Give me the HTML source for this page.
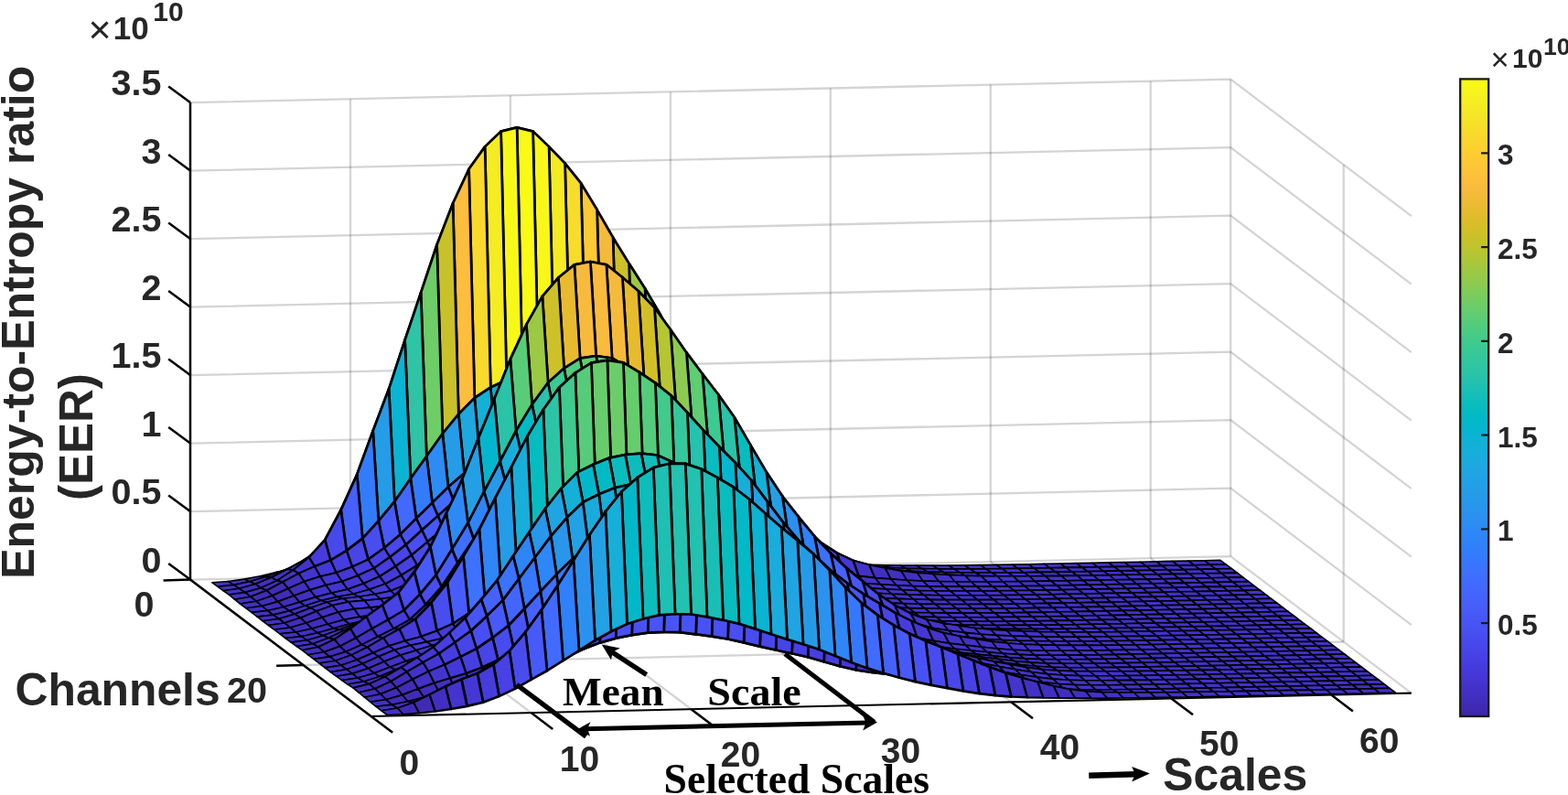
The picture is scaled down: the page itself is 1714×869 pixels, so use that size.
<!DOCTYPE html>
<html lang="en"><head><meta charset="utf-8"><title>Energy-to-Entropy ratio surface</title>
<style>html,body{margin:0;padding:0;background:#fff}body{width:1714px;height:869px;overflow:hidden}</style></head>
<body>
<svg width="1714" height="869" viewBox="0 0 1714 869" style="display:block">
<rect width="1714" height="869" fill="#fff"/>
<g stroke="#262626" stroke-opacity="0.2" stroke-width="2.3" fill="none">
<path d="M383.0,629.7 L383.0,108.2"/>
<path d="M383.0,629.7 L580.6,779.1"/>
<path d="M557.9,625.8 L557.9,104.3"/>
<path d="M557.9,625.8 L755.5,775.2"/>
<path d="M732.9,621.9 L732.9,100.4"/>
<path d="M732.9,621.9 L930.5,771.3"/>
<path d="M907.8,618.0 L907.8,96.5"/>
<path d="M907.8,618.0 L1105.4,767.4"/>
<path d="M1082.8,614.1 L1082.8,92.6"/>
<path d="M1082.8,614.1 L1280.4,763.5"/>
<path d="M1257.7,610.2 L1257.7,88.7"/>
<path d="M1257.7,610.2 L1455.3,759.6"/>
<path d="M208.0,633.6 L1345.2,608.2 L1542.8,757.6"/>
<path d="M208.0,559.1 L1345.2,533.7 L1542.8,683.1"/>
<path d="M208.0,484.6 L1345.2,459.2 L1542.8,608.6"/>
<path d="M208.0,410.1 L1345.2,384.7 L1542.8,534.1"/>
<path d="M208.0,335.6 L1345.2,310.2 L1542.8,459.6"/>
<path d="M208.0,261.1 L1345.2,235.7 L1542.8,385.1"/>
<path d="M208.0,186.6 L1345.2,161.2 L1542.8,310.6"/>
<path d="M208.0,112.1 L1345.2,86.7 L1542.8,236.1"/>
<path d="M1345.2,608.2 L1345.2,86.7"/>
<path d="M1468.7,701.6 L1468.7,180.1"/>
<path d="M331.5,727.0 L1468.7,701.6"/>
</g>
<g stroke="#000" stroke-width="1.8" stroke-linejoin="round">
<path fill="#4332c9" stroke-width="1.6" d="M1316.4,612.7 L1333.9,612.3 L1340.1,616.9 L1322.6,617.3z"/>
<path fill="#4332c9" stroke-width="1.6" d="M1298.9,613.0 L1316.4,612.7 L1322.6,617.3 L1305.1,617.7z"/>
<path fill="#4332c9" stroke-width="1.6" d="M1281.4,613.4 L1298.9,613.0 L1305.1,617.7 L1287.6,618.0z"/>
<path fill="#4332c9" stroke-width="1.6" d="M1263.9,613.8 L1281.4,613.4 L1287.6,618.0 L1270.1,618.4z"/>
<path fill="#4332c9" stroke-width="1.6" d="M1246.4,614.2 L1263.9,613.8 L1270.1,618.4 L1252.6,618.7z"/>
<path fill="#4332c9" stroke-width="1.6" d="M1228.9,614.5 L1246.4,614.2 L1252.6,618.7 L1235.1,619.1z"/>
<path fill="#4332c9" stroke-width="1.6" d="M1211.4,614.9 L1228.9,614.5 L1235.1,619.1 L1217.6,619.4z"/>
<path fill="#4332c9" stroke-width="1.6" d="M1193.9,615.3 L1211.4,614.9 L1217.6,619.4 L1200.1,619.8z"/>
<path fill="#4332c9" stroke-width="1.6" d="M1176.4,615.6 L1193.9,615.3 L1200.1,619.8 L1182.6,620.1z"/>
<path fill="#4332c9" stroke-width="1.6" d="M1158.9,616.0 L1176.4,615.6 L1182.6,620.1 L1165.1,620.4z"/>
<path fill="#4332c9" stroke-width="1.6" d="M1141.4,616.3 L1158.9,616.0 L1165.1,620.4 L1147.6,620.8z"/>
<path fill="#4332ca" stroke-width="1.6" d="M1123.9,616.7 L1141.4,616.3 L1147.6,620.8 L1130.1,621.1z"/>
<path fill="#4332ca" stroke-width="1.6" d="M1106.4,617.0 L1123.9,616.7 L1130.1,621.1 L1112.6,621.3z"/>
<path fill="#4332ca" stroke-width="1.6" d="M1088.9,617.3 L1106.4,617.0 L1112.6,621.3 L1095.1,621.6z"/>
<path fill="#4332ca" stroke-width="1.6" d="M1071.4,617.6 L1088.9,617.3 L1095.1,621.6 L1077.6,621.8z"/>
<path fill="#4332ca" stroke-width="1.6" d="M1054.0,617.8 L1071.4,617.6 L1077.6,621.8 L1060.1,621.9z"/>
<path fill="#4332ca" stroke-width="1.6" d="M1036.5,618.0 L1054.0,617.8 L1060.1,621.9 L1042.6,621.9z"/>
<path fill="#4332ca" stroke-width="1.6" d="M1019.0,618.1 L1036.5,618.0 L1042.6,621.9 L1025.1,621.8z"/>
<path fill="#4332cb" stroke-width="1.6" d="M1001.5,618.1 L1019.0,618.1 L1025.1,621.8 L1007.6,621.6z"/>
<path fill="#4433cb" stroke-width="1.6" d="M984.0,618.0 L1001.5,618.1 L1007.6,621.6 L990.1,621.3z"/>
<path fill="#4433cc" stroke-width="1.6" d="M966.5,617.8 L984.0,618.0 L990.1,621.3 L972.7,620.5z"/>
<path fill="#4433cc" stroke-width="1.6" d="M949.0,617.2 L966.5,617.8 L972.7,620.5 L955.2,619.4z"/>
<path fill="#4433cd" stroke-width="1.6" d="M931.5,616.5 L949.0,617.2 L955.2,619.4 L937.7,618.0z"/>
<path fill="#4434ce" stroke-width="1.6" d="M914.0,615.6 L931.5,616.5 L937.7,618.0 L920.2,616.1z"/>
<path fill="#4435d0" stroke-width="1.6" d="M896.5,613.7 L914.0,615.6 L920.2,616.1 L902.7,612.7z"/>
<path fill="#4536d3" stroke-width="1.6" d="M879.0,611.0 L896.5,613.7 L902.7,612.7 L885.2,608.0z"/>
<path fill="#4434cf" stroke-width="1.6" d="M861.5,607.5 L879.0,611.0 L885.2,608.0 L867.7,601.9z"/>
<path fill="#4433cc" stroke-width="1.8" d="M844.0,603.2 L861.5,607.5 L867.7,601.9 L850.2,594.5z"/>
<path fill="#4433cc" stroke-width="2.0" d="M826.5,598.9 L844.0,603.2 L850.2,594.5 L832.7,587.0z"/>
<path fill="#4536d3" stroke-width="2.1" d="M809.0,593.9 L826.5,598.9 L832.7,587.0 L815.2,578.5z"/>
<path fill="#4639da" stroke-width="2.3" d="M791.5,588.3 L809.0,593.9 L815.2,578.5 L797.7,568.8z"/>
<path fill="#463ee1" stroke-width="2.6" d="M774.0,581.7 L791.5,588.3 L797.7,568.8 L780.2,557.6z"/>
<path fill="#4743e7" stroke-width="2.7" d="M756.5,574.8 L774.0,581.7 L780.2,557.6 L762.7,545.9z"/>
<path fill="#4849ed" stroke-width="2.7" d="M739.0,566.6 L756.5,574.8 L762.7,545.9 L745.2,532.0z"/>
<path fill="#4850f3" stroke-width="2.7" d="M721.5,557.4 L739.0,566.6 L745.2,532.0 L727.7,516.3z"/>
<path fill="#4757f7" stroke-width="2.7" d="M704.0,548.0 L721.5,557.4 L727.7,516.3 L710.2,500.4z"/>
<path fill="#475dfa" stroke-width="2.7" d="M686.6,540.3 L704.0,548.0 L710.2,500.4 L692.7,487.3z"/>
<path fill="#4562fc" stroke-width="2.7" d="M669.1,533.3 L686.6,540.3 L692.7,487.3 L675.2,475.4z"/>
<path fill="#4367fd" stroke-width="2.7" d="M651.6,526.1 L669.1,533.3 L675.2,475.4 L657.7,463.1z"/>
<path fill="#3f6dfe" stroke-width="2.7" d="M634.1,518.3 L651.6,526.1 L657.7,463.1 L640.2,449.8z"/>
<path fill="#3a73fe" stroke-width="2.7" d="M616.6,510.9 L634.1,518.3 L640.2,449.8 L622.7,437.3z"/>
<path fill="#3678fd" stroke-width="2.7" d="M599.1,505.4 L616.6,510.9 L622.7,437.3 L605.2,427.8z"/>
<path fill="#327cfc" stroke-width="2.7" d="M581.6,500.8 L599.1,505.4 L605.2,427.8 L587.8,419.9z"/>
<path fill="#307ffb" stroke-width="2.7" d="M564.1,496.7 L581.6,500.8 L587.8,419.9 L570.3,412.7z"/>
<path fill="#3080fa" stroke-width="2.7" d="M546.6,495.9 L564.1,496.7 L570.3,412.7 L552.8,411.1z"/>
<path fill="#307ffb" stroke-width="2.7" d="M529.1,497.2 L546.6,495.9 L552.8,411.1 L535.3,413.2z"/>
<path fill="#327cfc" stroke-width="2.7" d="M511.6,502.0 L529.1,497.2 L535.3,413.2 L517.8,420.8z"/>
<path fill="#3677fe" stroke-width="2.7" d="M494.1,508.8 L511.6,502.0 L517.8,420.8 L500.3,431.8z"/>
<path fill="#3e70ff" stroke-width="2.7" d="M476.6,519.0 L494.1,508.8 L500.3,431.8 L482.8,448.7z"/>
<path fill="#4367fd" stroke-width="2.7" d="M459.1,531.3 L476.6,519.0 L482.8,448.7 L465.3,468.9z"/>
<path fill="#475dfa" stroke-width="2.7" d="M441.6,545.5 L459.1,531.3 L465.3,468.9 L447.8,492.4z"/>
<path fill="#4853f5" stroke-width="2.7" d="M424.1,559.6 L441.6,545.5 L447.8,492.4 L430.3,515.5z"/>
<path fill="#4849ed" stroke-width="2.7" d="M406.6,574.1 L424.1,559.6 L430.3,515.5 L412.8,539.4z"/>
<path fill="#4741e5" stroke-width="2.7" d="M389.1,586.5 L406.6,574.1 L412.8,539.4 L395.3,559.8z"/>
<path fill="#4539d9" stroke-width="2.7" d="M371.6,598.9 L389.1,586.5 L395.3,559.8 L377.8,580.3z"/>
<path fill="#4434cd" stroke-width="2.5" d="M354.1,608.5 L371.6,598.9 L377.8,580.3 L360.3,596.3z"/>
<path fill="#4230c3" stroke-width="2.1" d="M336.6,616.6 L354.1,608.5 L360.3,596.3 L342.8,609.6z"/>
<path fill="#4331c7" stroke-width="1.8" d="M319.1,621.5 L336.6,616.6 L342.8,609.6 L325.3,617.6z"/>
<path fill="#4433cc" stroke-width="1.6" d="M301.7,625.6 L319.1,621.5 L325.3,617.6 L307.8,624.3z"/>
<path fill="#4433cd" stroke-width="1.6" d="M284.2,629.7 L301.7,625.6 L307.8,624.3 L290.3,630.6z"/>
<path fill="#4433cb" stroke-width="1.6" d="M266.7,633.1 L284.2,629.7 L290.3,630.6 L272.8,635.8z"/>
<path fill="#4332c9" stroke-width="1.6" d="M249.2,635.5 L266.7,633.1 L272.8,635.8 L255.3,639.4z"/>
<path fill="#4332c9" stroke-width="1.6" d="M231.7,636.7 L249.2,635.5 L255.3,639.4 L237.8,641.2z"/>
<path fill="#4332c9" stroke-width="1.6" d="M1322.6,617.3 L1340.1,616.9 L1346.2,621.5 L1328.7,621.9z"/>
<path fill="#4332c9" stroke-width="1.6" d="M1305.1,617.7 L1322.6,617.3 L1328.7,621.9 L1311.2,622.2z"/>
<path fill="#4332c9" stroke-width="1.6" d="M1287.6,618.0 L1305.1,617.7 L1311.2,622.2 L1293.7,622.6z"/>
<path fill="#4332c9" stroke-width="1.6" d="M1270.1,618.4 L1287.6,618.0 L1293.7,622.6 L1276.2,622.9z"/>
<path fill="#4332c9" stroke-width="1.6" d="M1252.6,618.7 L1270.1,618.4 L1276.2,622.9 L1258.8,623.3z"/>
<path fill="#4332c9" stroke-width="1.6" d="M1235.1,619.1 L1252.6,618.7 L1258.8,623.3 L1241.3,623.6z"/>
<path fill="#4332c9" stroke-width="1.6" d="M1217.6,619.4 L1235.1,619.1 L1241.3,623.6 L1223.8,623.9z"/>
<path fill="#4332ca" stroke-width="1.6" d="M1200.1,619.8 L1217.6,619.4 L1223.8,623.9 L1206.3,624.3z"/>
<path fill="#4332ca" stroke-width="1.6" d="M1182.6,620.1 L1200.1,619.8 L1206.3,624.3 L1188.8,624.6z"/>
<path fill="#4332ca" stroke-width="1.6" d="M1165.1,620.4 L1182.6,620.1 L1188.8,624.6 L1171.3,624.9z"/>
<path fill="#4332ca" stroke-width="1.6" d="M1147.6,620.8 L1165.1,620.4 L1171.3,624.9 L1153.8,625.1z"/>
<path fill="#4332ca" stroke-width="1.6" d="M1130.1,621.1 L1147.6,620.8 L1153.8,625.1 L1136.3,625.4z"/>
<path fill="#4332ca" stroke-width="1.6" d="M1112.6,621.3 L1130.1,621.1 L1136.3,625.4 L1118.8,625.7z"/>
<path fill="#4332ca" stroke-width="1.6" d="M1095.1,621.6 L1112.6,621.3 L1118.8,625.7 L1101.3,625.9z"/>
<path fill="#4332ca" stroke-width="1.6" d="M1077.6,621.8 L1095.1,621.6 L1101.3,625.9 L1083.8,626.0z"/>
<path fill="#4332ca" stroke-width="1.6" d="M1060.1,621.9 L1077.6,621.8 L1083.8,626.0 L1066.3,626.0z"/>
<path fill="#4332cb" stroke-width="1.6" d="M1042.6,621.9 L1060.1,621.9 L1066.3,626.0 L1048.8,625.8z"/>
<path fill="#4433cb" stroke-width="1.6" d="M1025.1,621.8 L1042.6,621.9 L1048.8,625.8 L1031.3,625.5z"/>
<path fill="#4433cc" stroke-width="1.6" d="M1007.6,621.6 L1025.1,621.8 L1031.3,625.5 L1013.8,625.0z"/>
<path fill="#4433cc" stroke-width="1.6" d="M990.1,621.3 L1007.6,621.6 L1013.8,625.0 L996.3,624.3z"/>
<path fill="#4433cd" stroke-width="1.6" d="M972.7,620.5 L990.1,621.3 L996.3,624.3 L978.8,623.0z"/>
<path fill="#4434ce" stroke-width="1.6" d="M955.2,619.4 L972.7,620.5 L978.8,623.0 L961.3,621.1z"/>
<path fill="#4435d0" stroke-width="1.6" d="M937.7,618.0 L955.2,619.4 L961.3,621.1 L943.8,618.9z"/>
<path fill="#4435d2" stroke-width="1.6" d="M920.2,616.1 L937.7,618.0 L943.8,618.9 L926.3,616.0z"/>
<path fill="#4537d5" stroke-width="1.6" d="M902.7,612.7 L920.2,616.1 L926.3,616.0 L908.8,610.8z"/>
<path fill="#4536d3" stroke-width="1.6" d="M885.2,608.0 L902.7,612.7 L908.8,610.8 L891.3,603.7z"/>
<path fill="#4435d2" stroke-width="1.8" d="M867.7,601.9 L885.2,608.0 L891.3,603.7 L873.9,594.6z"/>
<path fill="#4538d7" stroke-width="2.1" d="M850.2,594.5 L867.7,601.9 L873.9,594.6 L856.4,583.5z"/>
<path fill="#463ddf" stroke-width="2.2" d="M832.7,587.0 L850.2,594.5 L856.4,583.5 L838.9,572.4z"/>
<path fill="#4743e7" stroke-width="2.4" d="M815.2,578.5 L832.7,587.0 L838.9,572.4 L821.4,559.7z"/>
<path fill="#484aee" stroke-width="2.7" d="M797.7,568.8 L815.2,578.5 L821.4,559.7 L803.9,545.3z"/>
<path fill="#4852f4" stroke-width="2.7" d="M780.2,557.6 L797.7,568.8 L803.9,545.3 L786.4,528.7z"/>
<path fill="#475bf9" stroke-width="2.7" d="M762.7,545.9 L780.2,557.6 L786.4,528.7 L768.9,511.3z"/>
<path fill="#4465fd" stroke-width="2.7" d="M745.2,532.0 L762.7,545.9 L768.9,511.3 L751.4,490.8z"/>
<path fill="#3c71ff" stroke-width="2.7" d="M727.7,516.3 L745.2,532.0 L751.4,490.8 L733.9,467.5z"/>
<path fill="#317efb" stroke-width="2.7" d="M710.2,500.4 L727.7,516.3 L733.9,467.5 L716.4,444.0z"/>
<path fill="#2e87f7" stroke-width="2.7" d="M692.7,487.3 L710.2,500.4 L716.4,444.0 L698.9,424.7z"/>
<path fill="#2c8ff1" stroke-width="2.7" d="M675.2,475.4 L692.7,487.3 L698.9,424.7 L681.4,407.1z"/>
<path fill="#2797eb" stroke-width="2.7" d="M657.7,463.1 L675.2,475.4 L681.4,407.1 L663.9,388.8z"/>
<path fill="#249fe5" stroke-width="2.7" d="M640.2,449.8 L657.7,463.1 L663.9,388.8 L646.4,369.2z"/>
<path fill="#1ea7e1" stroke-width="2.7" d="M622.7,437.3 L640.2,449.8 L646.4,369.2 L628.9,350.6z"/>
<path fill="#1aacdd" stroke-width="2.7" d="M605.2,427.8 L622.7,437.3 L628.9,350.6 L611.4,336.5z"/>
<path fill="#13b0d8" stroke-width="2.7" d="M587.8,419.9 L605.2,427.8 L611.4,336.5 L593.9,324.8z"/>
<path fill="#0bb3d2" stroke-width="2.7" d="M570.3,412.7 L587.8,419.9 L593.9,324.8 L576.4,314.0z"/>
<path fill="#08b4d1" stroke-width="2.7" d="M552.8,411.1 L570.3,412.7 L576.4,314.0 L558.9,311.5z"/>
<path fill="#0bb4d2" stroke-width="2.7" d="M535.3,413.2 L552.8,411.1 L558.9,311.5 L541.4,314.3z"/>
<path fill="#13b0d7" stroke-width="2.7" d="M517.8,420.8 L535.3,413.2 L541.4,314.3 L523.9,325.4z"/>
<path fill="#1aabdd" stroke-width="2.7" d="M500.3,431.8 L517.8,420.8 L523.9,325.4 L506.5,341.3z"/>
<path fill="#22a2e4" stroke-width="2.7" d="M482.8,448.7 L500.3,431.8 L506.5,341.3 L489.0,365.8z"/>
<path fill="#2796eb" stroke-width="2.7" d="M465.3,468.9 L482.8,448.7 L489.0,365.8 L471.5,395.4z"/>
<path fill="#2e87f7" stroke-width="2.7" d="M447.8,492.4 L465.3,468.9 L471.5,395.4 L454.0,429.5z"/>
<path fill="#3777fe" stroke-width="2.7" d="M430.3,515.5 L447.8,492.4 L454.0,429.5 L436.5,463.4z"/>
<path fill="#4465fd" stroke-width="2.7" d="M412.8,539.4 L430.3,515.5 L436.5,463.4 L419.0,498.2z"/>
<path fill="#4757f7" stroke-width="2.7" d="M395.3,559.8 L412.8,539.4 L419.0,498.2 L401.5,527.9z"/>
<path fill="#4849ed" stroke-width="2.7" d="M377.8,580.3 L395.3,559.8 L401.5,527.9 L384.0,557.9z"/>
<path fill="#463ee1" stroke-width="2.7" d="M360.3,596.3 L377.8,580.3 L384.0,557.9 L366.5,581.4z"/>
<path fill="#4536d3" stroke-width="2.5" d="M342.8,609.6 L360.3,596.3 L366.5,581.4 L349.0,601.0z"/>
<path fill="#4332c8" stroke-width="2.0" d="M325.3,617.6 L342.8,609.6 L349.0,601.0 L331.5,612.6z"/>
<path fill="#4332ca" stroke-width="1.8" d="M307.8,624.3 L325.3,617.6 L331.5,612.6 L314.0,622.1z"/>
<path fill="#4332ca" stroke-width="1.6" d="M290.3,630.6 L307.8,624.3 L314.0,622.1 L296.5,631.1z"/>
<path fill="#4332c9" stroke-width="1.6" d="M272.8,635.8 L290.3,630.6 L296.5,631.1 L279.0,638.4z"/>
<path fill="#4331c6" stroke-width="1.6" d="M255.3,639.4 L272.8,635.8 L279.0,638.4 L261.5,643.3z"/>
<path fill="#4332c9" stroke-width="1.6" d="M237.8,641.2 L255.3,639.4 L261.5,643.3 L244.0,645.7z"/>
<path fill="#4332c9" stroke-width="1.6" d="M1328.7,621.9 L1346.2,621.5 L1352.4,626.1 L1334.9,626.5z"/>
<path fill="#4332c9" stroke-width="1.6" d="M1311.2,622.2 L1328.7,621.9 L1334.9,626.5 L1317.4,626.8z"/>
<path fill="#4332c9" stroke-width="1.6" d="M1293.7,622.6 L1311.2,622.2 L1317.4,626.8 L1299.9,627.1z"/>
<path fill="#4332c9" stroke-width="1.6" d="M1276.2,622.9 L1293.7,622.6 L1299.9,627.1 L1282.4,627.4z"/>
<path fill="#4332ca" stroke-width="1.6" d="M1258.8,623.3 L1276.2,622.9 L1282.4,627.4 L1264.9,627.7z"/>
<path fill="#4332ca" stroke-width="1.6" d="M1241.3,623.6 L1258.8,623.3 L1264.9,627.7 L1247.4,628.0z"/>
<path fill="#4332ca" stroke-width="1.6" d="M1223.8,623.9 L1241.3,623.6 L1247.4,628.0 L1229.9,628.3z"/>
<path fill="#4332ca" stroke-width="1.6" d="M1206.3,624.3 L1223.8,623.9 L1229.9,628.3 L1212.4,628.6z"/>
<path fill="#4332ca" stroke-width="1.6" d="M1188.8,624.6 L1206.3,624.3 L1212.4,628.6 L1194.9,628.9z"/>
<path fill="#4332ca" stroke-width="1.6" d="M1171.3,624.9 L1188.8,624.6 L1194.9,628.9 L1177.5,629.1z"/>
<path fill="#4332ca" stroke-width="1.6" d="M1153.8,625.1 L1171.3,624.9 L1177.5,629.1 L1160.0,629.4z"/>
<path fill="#4332ca" stroke-width="1.6" d="M1136.3,625.4 L1153.8,625.1 L1160.0,629.4 L1142.5,629.6z"/>
<path fill="#4332ca" stroke-width="1.6" d="M1118.8,625.7 L1136.3,625.4 L1142.5,629.6 L1125.0,629.7z"/>
<path fill="#4332ca" stroke-width="1.6" d="M1101.3,625.9 L1118.8,625.7 L1125.0,629.7 L1107.5,629.8z"/>
<path fill="#4332cb" stroke-width="1.6" d="M1083.8,626.0 L1101.3,625.9 L1107.5,629.8 L1090.0,629.8z"/>
<path fill="#4432cb" stroke-width="1.6" d="M1066.3,626.0 L1083.8,626.0 L1090.0,629.8 L1072.5,629.6z"/>
<path fill="#4433cb" stroke-width="1.6" d="M1048.8,625.8 L1066.3,626.0 L1072.5,629.6 L1055.0,629.1z"/>
<path fill="#4433cc" stroke-width="1.6" d="M1031.3,625.5 L1048.8,625.8 L1055.0,629.1 L1037.5,628.4z"/>
<path fill="#4433cd" stroke-width="1.6" d="M1013.8,625.0 L1031.3,625.5 L1037.5,628.4 L1020.0,627.4z"/>
<path fill="#4434ce" stroke-width="1.6" d="M996.3,624.3 L1013.8,625.0 L1020.0,627.4 L1002.5,626.1z"/>
<path fill="#4434cf" stroke-width="1.6" d="M978.8,623.0 L996.3,624.3 L1002.5,626.1 L985.0,624.0z"/>
<path fill="#4435d1" stroke-width="1.6" d="M961.3,621.1 L978.8,623.0 L985.0,624.0 L967.5,620.8z"/>
<path fill="#4536d3" stroke-width="1.6" d="M943.8,618.9 L961.3,621.1 L967.5,620.8 L950.0,617.2z"/>
<path fill="#4537d5" stroke-width="1.6" d="M926.3,616.0 L943.8,618.9 L950.0,617.2 L932.5,612.5z"/>
<path fill="#4434cf" stroke-width="1.8" d="M908.8,610.8 L926.3,616.0 L932.5,612.5 L915.0,604.4z"/>
<path fill="#4435d1" stroke-width="2.0" d="M891.3,603.7 L908.8,610.8 L915.0,604.4 L897.5,593.1z"/>
<path fill="#463adc" stroke-width="2.3" d="M873.9,594.6 L891.3,603.7 L897.5,593.1 L880.0,578.9z"/>
<path fill="#4742e6" stroke-width="2.7" d="M856.4,583.5 L873.9,594.6 L880.0,578.9 L862.5,561.6z"/>
<path fill="#484aee" stroke-width="2.7" d="M838.9,572.4 L856.4,583.5 L862.5,561.6 L845.0,544.4z"/>
<path fill="#4854f5" stroke-width="2.7" d="M821.4,559.7 L838.9,572.4 L845.0,544.4 L827.5,524.6z"/>
<path fill="#465efb" stroke-width="2.7" d="M803.9,545.3 L821.4,559.7 L827.5,524.6 L810.0,502.3z"/>
<path fill="#426afe" stroke-width="2.7" d="M786.4,528.7 L803.9,545.3 L810.0,502.3 L792.6,476.4z"/>
<path fill="#3678fd" stroke-width="2.7" d="M768.9,511.3 L786.4,528.7 L792.6,476.4 L775.1,449.6z"/>
<path fill="#2e87f7" stroke-width="2.7" d="M751.4,490.8 L768.9,511.3 L775.1,449.6 L757.6,417.7z"/>
<path fill="#2796eb" stroke-width="2.7" d="M733.9,467.5 L751.4,490.8 L757.6,417.7 L740.1,381.7z"/>
<path fill="#20a4e3" stroke-width="2.7" d="M716.4,444.0 L733.9,467.5 L740.1,381.7 L722.6,345.3z"/>
<path fill="#16afd9" stroke-width="2.7" d="M698.9,424.7 L716.4,444.0 L722.6,345.3 L705.1,315.4z"/>
<path fill="#03b7cc" stroke-width="2.7" d="M681.4,407.1 L698.9,424.7 L705.1,315.4 L687.6,288.1z"/>
<path fill="#0bbdbd" stroke-width="2.7" d="M663.9,388.8 L681.4,407.1 L687.6,288.1 L670.1,259.7z"/>
<path fill="#28c2ab" stroke-width="2.7" d="M646.4,369.2 L663.9,388.8 L670.1,259.7 L652.6,229.3z"/>
<path fill="#36c898" stroke-width="2.7" d="M628.9,350.6 L646.4,369.2 L652.6,229.3 L635.1,200.4z"/>
<path fill="#46cb88" stroke-width="2.7" d="M611.4,336.5 L628.9,350.6 L635.1,200.4 L617.6,178.6z"/>
<path fill="#59cc78" stroke-width="2.7" d="M593.9,324.8 L611.4,336.5 L617.6,178.6 L600.1,160.4z"/>
<path fill="#6bcd69" stroke-width="2.7" d="M576.4,314.0 L593.9,324.8 L600.1,160.4 L582.6,143.6z"/>
<path fill="#71cd65" stroke-width="2.7" d="M558.9,311.5 L576.4,314.0 L582.6,143.6 L565.1,139.4z"/>
<path fill="#6ccd68" stroke-width="2.7" d="M541.4,314.3 L558.9,311.5 L565.1,139.4 L547.6,143.6z"/>
<path fill="#5bcc77" stroke-width="2.7" d="M523.9,325.4 L541.4,314.3 L547.6,143.6 L530.1,160.4z"/>
<path fill="#43ca8b" stroke-width="2.7" d="M506.5,341.3 L523.9,325.4 L530.1,160.4 L512.6,184.8z"/>
<path fill="#2ec4a5" stroke-width="2.7" d="M489.0,365.8 L506.5,341.3 L512.6,184.8 L495.1,222.2z"/>
<path fill="#08bcbf" stroke-width="2.7" d="M471.5,395.4 L489.0,365.8 L495.1,222.2 L477.6,267.5z"/>
<path fill="#15afd9" stroke-width="2.7" d="M454.0,429.5 L471.5,395.4 L477.6,267.5 L460.1,319.9z"/>
<path fill="#259de7" stroke-width="2.7" d="M436.5,463.4 L454.0,429.5 L460.1,319.9 L442.6,371.7z"/>
<path fill="#2e87f7" stroke-width="2.7" d="M419.0,498.2 L436.5,463.4 L442.6,371.7 L425.1,425.1z"/>
<path fill="#3c71ff" stroke-width="2.7" d="M401.5,527.9 L419.0,498.2 L425.1,425.1 L407.7,470.9z"/>
<path fill="#475cfa" stroke-width="2.7" d="M384.0,557.9 L401.5,527.9 L407.7,470.9 L390.2,518.7z"/>
<path fill="#484cef" stroke-width="2.7" d="M366.5,581.4 L384.0,557.9 L390.2,518.7 L372.7,557.4z"/>
<path fill="#463ee1" stroke-width="2.7" d="M349.0,601.0 L366.5,581.4 L372.7,557.4 L355.2,590.1z"/>
<path fill="#4537d5" stroke-width="2.2" d="M331.5,612.6 L349.0,601.0 L355.2,590.1 L337.7,609.2z"/>
<path fill="#4433cd" stroke-width="1.9" d="M314.0,622.1 L331.5,612.6 L337.7,609.2 L320.2,623.2z"/>
<path fill="#4331c5" stroke-width="1.8" d="M296.5,631.1 L314.0,622.1 L320.2,623.2 L302.7,634.7z"/>
<path fill="#422fc0" stroke-width="1.7" d="M279.0,638.4 L296.5,631.1 L302.7,634.7 L285.2,642.6z"/>
<path fill="#422fc2" stroke-width="1.6" d="M261.5,643.3 L279.0,638.4 L285.2,642.6 L267.7,647.6z"/>
<path fill="#4331c8" stroke-width="1.6" d="M244.0,645.7 L261.5,643.3 L267.7,647.6 L250.2,650.0z"/>
<path fill="#4332c9" stroke-width="1.6" d="M1334.9,626.5 L1352.4,626.1 L1358.6,630.9 L1341.1,631.3z"/>
<path fill="#4332ca" stroke-width="1.6" d="M1317.4,626.8 L1334.9,626.5 L1341.1,631.3 L1323.6,631.7z"/>
<path fill="#4332ca" stroke-width="1.6" d="M1299.9,627.1 L1317.4,626.8 L1323.6,631.7 L1306.1,632.0z"/>
<path fill="#4332ca" stroke-width="1.6" d="M1282.4,627.4 L1299.9,627.1 L1306.1,632.0 L1288.6,632.4z"/>
<path fill="#4332ca" stroke-width="1.6" d="M1264.9,627.7 L1282.4,627.4 L1288.6,632.4 L1271.1,632.7z"/>
<path fill="#4332ca" stroke-width="1.6" d="M1247.4,628.0 L1264.9,627.7 L1271.1,632.7 L1253.6,633.1z"/>
<path fill="#4332ca" stroke-width="1.6" d="M1229.9,628.3 L1247.4,628.0 L1253.6,633.1 L1236.1,633.4z"/>
<path fill="#4332ca" stroke-width="1.6" d="M1212.4,628.6 L1229.9,628.3 L1236.1,633.4 L1218.6,633.8z"/>
<path fill="#4332ca" stroke-width="1.6" d="M1194.9,628.9 L1212.4,628.6 L1218.6,633.8 L1201.1,634.1z"/>
<path fill="#4332ca" stroke-width="1.6" d="M1177.5,629.1 L1194.9,628.9 L1201.1,634.1 L1183.6,634.4z"/>
<path fill="#4332ca" stroke-width="1.6" d="M1160.0,629.4 L1177.5,629.1 L1183.6,634.4 L1166.1,634.7z"/>
<path fill="#4332cb" stroke-width="1.6" d="M1142.5,629.6 L1160.0,629.4 L1166.1,634.7 L1148.6,635.0z"/>
<path fill="#4332cb" stroke-width="1.6" d="M1125.0,629.7 L1142.5,629.6 L1148.6,635.0 L1131.1,635.3z"/>
<path fill="#4433cb" stroke-width="1.6" d="M1107.5,629.8 L1125.0,629.7 L1131.1,635.3 L1113.6,635.6z"/>
<path fill="#4433cb" stroke-width="1.6" d="M1090.0,629.8 L1107.5,629.8 L1113.6,635.6 L1096.1,635.8z"/>
<path fill="#4433cb" stroke-width="1.6" d="M1072.5,629.6 L1090.0,629.8 L1096.1,635.8 L1078.7,635.9z"/>
<path fill="#4332ca" stroke-width="1.6" d="M1055.0,629.1 L1072.5,629.6 L1078.7,635.9 L1061.2,635.9z"/>
<path fill="#4332c9" stroke-width="1.6" d="M1037.5,628.4 L1055.0,629.1 L1061.2,635.9 L1043.7,635.7z"/>
<path fill="#4332c8" stroke-width="1.6" d="M1020.0,627.4 L1037.5,628.4 L1043.7,635.7 L1026.2,635.5z"/>
<path fill="#4331c7" stroke-width="1.7" d="M1002.5,626.1 L1020.0,627.4 L1026.2,635.5 L1008.7,635.1z"/>
<path fill="#4330c5" stroke-width="1.7" d="M985.0,624.0 L1002.5,626.1 L1008.7,635.1 L991.2,634.3z"/>
<path fill="#4230c3" stroke-width="1.8" d="M967.5,620.8 L985.0,624.0 L991.2,634.3 L973.7,633.0z"/>
<path fill="#4230c3" stroke-width="1.9" d="M950.0,617.2 L967.5,620.8 L973.7,633.0 L956.2,631.6z"/>
<path fill="#4332ca" stroke-width="2.1" d="M932.5,612.5 L950.0,617.2 L956.2,631.6 L938.7,629.6z"/>
<path fill="#4537d5" stroke-width="2.4" d="M915.0,604.4 L932.5,612.5 L938.7,629.6 L921.2,626.0z"/>
<path fill="#473ee1" stroke-width="2.7" d="M897.5,593.1 L915.0,604.4 L921.2,626.0 L903.7,621.0z"/>
<path fill="#4849ec" stroke-width="2.7" d="M880.0,578.9 L897.5,593.1 L903.7,621.0 L886.2,614.5z"/>
<path fill="#4755f6" stroke-width="2.7" d="M862.5,561.6 L880.0,578.9 L886.2,614.5 L868.7,606.7z"/>
<path fill="#4561fc" stroke-width="2.7" d="M845.0,544.4 L862.5,561.6 L868.7,606.7 L851.2,598.8z"/>
<path fill="#3d70ff" stroke-width="2.7" d="M827.5,524.6 L845.0,544.4 L851.2,598.8 L833.7,589.8z"/>
<path fill="#2f82fa" stroke-width="2.7" d="M810.0,502.3 L827.5,524.6 L833.7,589.8 L816.2,579.6z"/>
<path fill="#2a93ee" stroke-width="2.7" d="M792.6,476.4 L810.0,502.3 L816.2,579.6 L798.7,567.7z"/>
<path fill="#21a3e3" stroke-width="2.7" d="M775.1,449.6 L792.6,476.4 L798.7,567.7 L781.2,555.4z"/>
<path fill="#0ab4d2" stroke-width="2.7" d="M757.6,417.7 L775.1,449.6 L781.2,555.4 L763.7,540.7z"/>
<path fill="#1bc0b4" stroke-width="2.7" d="M740.1,381.7 L757.6,417.7 L763.7,540.7 L746.2,524.2z"/>
<path fill="#3eca8f" stroke-width="2.7" d="M722.6,345.3 L740.1,381.7 L746.2,524.2 L728.7,507.4z"/>
<path fill="#6ccd68" stroke-width="2.7" d="M705.1,315.4 L722.6,345.3 L728.7,507.4 L711.3,493.7z"/>
<path fill="#9fc942" stroke-width="2.7" d="M687.6,288.1 L705.1,315.4 L711.3,493.7 L693.8,481.1z"/>
<path fill="#cdc028" stroke-width="2.7" d="M670.1,259.7 L687.6,288.1 L693.8,481.1 L676.3,468.1z"/>
<path fill="#f4ba39" stroke-width="2.7" d="M652.6,229.3 L670.1,259.7 L676.3,468.1 L658.8,454.1z"/>
<path fill="#feca33" stroke-width="2.7" d="M635.1,200.4 L652.6,229.3 L658.8,454.1 L641.3,440.8z"/>
<path fill="#f7dc2a" stroke-width="2.7" d="M617.6,178.6 L635.1,200.4 L641.3,440.8 L623.8,430.9z"/>
<path fill="#f5eb23" stroke-width="2.7" d="M600.1,160.4 L617.6,178.6 L623.8,430.9 L606.3,422.5z"/>
<path fill="#f8f719" stroke-width="2.7" d="M582.6,143.6 L600.1,160.4 L606.3,422.5 L588.8,414.9z"/>
<path fill="#f9fb15" stroke-width="2.7" d="M565.1,139.4 L582.6,143.6 L588.8,414.9 L571.3,413.2z"/>
<path fill="#f8f818" stroke-width="2.7" d="M547.6,143.6 L565.1,139.4 L571.3,413.2 L553.8,415.3z"/>
<path fill="#f5ec22" stroke-width="2.7" d="M530.1,160.4 L547.6,143.6 L553.8,415.3 L536.3,423.4z"/>
<path fill="#f8d92c" stroke-width="2.7" d="M512.6,184.8 L530.1,160.4 L536.3,423.4 L518.8,435.0z"/>
<path fill="#fdbd3d" stroke-width="2.7" d="M495.1,222.2 L512.6,184.8 L518.8,435.0 L501.3,452.7z"/>
<path fill="#c8c129" stroke-width="2.7" d="M477.6,267.5 L495.1,222.2 L501.3,452.7 L483.8,474.0z"/>
<path fill="#6ecd67" stroke-width="2.7" d="M460.1,319.9 L477.6,267.5 L483.8,474.0 L466.3,498.7z"/>
<path fill="#2ec4a5" stroke-width="2.7" d="M442.6,371.7 L460.1,319.9 L466.3,498.7 L448.8,523.1z"/>
<path fill="#0ab4d2" stroke-width="2.7" d="M425.1,425.1 L442.6,371.7 L448.8,523.1 L431.3,548.2z"/>
<path fill="#259ce7" stroke-width="2.7" d="M407.7,470.9 L425.1,425.1 L431.3,548.2 L413.8,569.3z"/>
<path fill="#327cfc" stroke-width="2.7" d="M390.2,518.7 L407.7,470.9 L413.8,569.3 L396.3,588.6z"/>
<path fill="#4660fb" stroke-width="2.7" d="M372.7,557.4 L390.2,518.7 L396.3,588.6 L378.8,601.9z"/>
<path fill="#4849ed" stroke-width="2.7" d="M355.2,590.1 L372.7,557.4 L378.8,601.9 L361.3,612.5z"/>
<path fill="#463cde" stroke-width="2.5" d="M337.7,609.2 L355.2,590.1 L361.3,612.5 L343.8,619.2z"/>
<path fill="#4434ce" stroke-width="2.0" d="M320.2,623.2 L337.7,609.2 L343.8,619.2 L326.4,626.8z"/>
<path fill="#4331c6" stroke-width="1.8" d="M302.7,634.7 L320.2,623.2 L326.4,626.8 L308.9,636.2z"/>
<path fill="#4230c3" stroke-width="1.7" d="M285.2,642.6 L302.7,634.7 L308.9,636.2 L291.4,645.3z"/>
<path fill="#422fc1" stroke-width="1.7" d="M267.7,647.6 L285.2,642.6 L291.4,645.3 L273.9,652.2z"/>
<path fill="#4330c5" stroke-width="1.6" d="M250.2,650.0 L267.7,647.6 L273.9,652.2 L256.4,655.2z"/>
<path fill="#4332c9" stroke-width="1.6" d="M1341.1,631.3 L1358.6,630.9 L1364.8,635.6 L1347.3,636.0z"/>
<path fill="#4332c9" stroke-width="1.6" d="M1323.6,631.7 L1341.1,631.3 L1347.3,636.0 L1329.8,636.4z"/>
<path fill="#4332c9" stroke-width="1.6" d="M1306.1,632.0 L1323.6,631.7 L1329.8,636.4 L1312.3,636.7z"/>
<path fill="#4332c9" stroke-width="1.6" d="M1288.6,632.4 L1306.1,632.0 L1312.3,636.7 L1294.8,637.1z"/>
<path fill="#4332c9" stroke-width="1.6" d="M1271.1,632.7 L1288.6,632.4 L1294.8,637.1 L1277.3,637.5z"/>
<path fill="#4332c9" stroke-width="1.6" d="M1253.6,633.1 L1271.1,632.7 L1277.3,637.5 L1259.8,637.8z"/>
<path fill="#4332c9" stroke-width="1.6" d="M1236.1,633.4 L1253.6,633.1 L1259.8,637.8 L1242.3,638.2z"/>
<path fill="#4332ca" stroke-width="1.6" d="M1218.6,633.8 L1236.1,633.4 L1242.3,638.2 L1224.8,638.5z"/>
<path fill="#4332ca" stroke-width="1.6" d="M1201.1,634.1 L1218.6,633.8 L1224.8,638.5 L1207.3,638.9z"/>
<path fill="#4332ca" stroke-width="1.6" d="M1183.6,634.4 L1201.1,634.1 L1207.3,638.9 L1189.8,639.2z"/>
<path fill="#4332ca" stroke-width="1.6" d="M1166.1,634.7 L1183.6,634.4 L1189.8,639.2 L1172.3,639.6z"/>
<path fill="#4332ca" stroke-width="1.6" d="M1148.6,635.0 L1166.1,634.7 L1172.3,639.6 L1154.8,639.9z"/>
<path fill="#4332ca" stroke-width="1.6" d="M1131.1,635.3 L1148.6,635.0 L1154.8,639.9 L1137.3,640.2z"/>
<path fill="#4332ca" stroke-width="1.6" d="M1113.6,635.6 L1131.1,635.3 L1137.3,640.2 L1119.8,640.5z"/>
<path fill="#4332ca" stroke-width="1.6" d="M1096.1,635.8 L1113.6,635.6 L1119.8,640.5 L1102.3,640.8z"/>
<path fill="#4332ca" stroke-width="1.6" d="M1078.7,635.9 L1096.1,635.8 L1102.3,640.8 L1084.8,641.0z"/>
<path fill="#4332cb" stroke-width="1.6" d="M1061.2,635.9 L1078.7,635.9 L1084.8,641.0 L1067.3,641.1z"/>
<path fill="#4433cb" stroke-width="1.6" d="M1043.7,635.7 L1061.2,635.9 L1067.3,641.1 L1049.8,641.1z"/>
<path fill="#4433cc" stroke-width="1.6" d="M1026.2,635.5 L1043.7,635.7 L1049.8,641.1 L1032.3,641.1z"/>
<path fill="#4433cc" stroke-width="1.6" d="M1008.7,635.1 L1026.2,635.5 L1032.3,641.1 L1014.8,640.9z"/>
<path fill="#4433cc" stroke-width="1.6" d="M991.2,634.3 L1008.7,635.1 L1014.8,640.9 L997.4,640.5z"/>
<path fill="#4432cb" stroke-width="1.6" d="M973.7,633.0 L991.2,634.3 L997.4,640.5 L979.9,639.7z"/>
<path fill="#4332cb" stroke-width="1.6" d="M956.2,631.6 L973.7,633.0 L979.9,639.7 L962.4,638.8z"/>
<path fill="#4332ca" stroke-width="1.6" d="M938.7,629.6 L956.2,631.6 L962.4,638.8 L944.9,637.5z"/>
<path fill="#4332c9" stroke-width="1.8" d="M921.2,626.0 L938.7,629.6 L944.9,637.5 L927.4,635.2z"/>
<path fill="#4332ca" stroke-width="1.9" d="M903.7,621.0 L921.2,626.0 L927.4,635.2 L909.9,631.8z"/>
<path fill="#4434cf" stroke-width="2.0" d="M886.2,614.5 L903.7,621.0 L909.9,631.8 L892.4,627.4z"/>
<path fill="#4639d9" stroke-width="2.2" d="M868.7,606.7 L886.2,614.5 L892.4,627.4 L874.9,622.1z"/>
<path fill="#473ee1" stroke-width="2.3" d="M851.2,598.8 L868.7,606.7 L874.9,622.1 L857.4,616.7z"/>
<path fill="#4745e9" stroke-width="2.4" d="M833.7,589.8 L851.2,598.8 L857.4,616.7 L839.9,610.6z"/>
<path fill="#484cf0" stroke-width="2.6" d="M816.2,579.6 L833.7,589.8 L839.9,610.6 L822.4,603.6z"/>
<path fill="#4755f6" stroke-width="2.7" d="M798.7,567.7 L816.2,579.6 L822.4,603.6 L804.9,595.4z"/>
<path fill="#465efb" stroke-width="2.7" d="M781.2,555.4 L798.7,567.7 L804.9,595.4 L787.4,587.0z"/>
<path fill="#4269fe" stroke-width="2.7" d="M763.7,540.7 L781.2,555.4 L787.4,587.0 L769.9,576.9z"/>
<path fill="#3876fe" stroke-width="2.7" d="M746.2,524.2 L763.7,540.7 L769.9,576.9 L752.4,565.5z"/>
<path fill="#2f83f9" stroke-width="2.7" d="M728.7,507.4 L746.2,524.2 L752.4,565.5 L734.9,553.9z"/>
<path fill="#2d8cf3" stroke-width="2.7" d="M711.3,493.7 L728.7,507.4 L734.9,553.9 L717.4,544.5z"/>
<path fill="#2994ed" stroke-width="2.7" d="M693.8,481.1 L711.3,493.7 L717.4,544.5 L699.9,535.8z"/>
<path fill="#259de7" stroke-width="2.7" d="M676.3,468.1 L693.8,481.1 L699.9,535.8 L682.4,526.9z"/>
<path fill="#20a5e2" stroke-width="2.7" d="M658.8,454.1 L676.3,468.1 L682.4,526.9 L664.9,517.3z"/>
<path fill="#19acdc" stroke-width="2.7" d="M641.3,440.8 L658.8,454.1 L664.9,517.3 L647.4,508.2z"/>
<path fill="#11b1d6" stroke-width="2.7" d="M623.8,430.9 L641.3,440.8 L647.4,508.2 L629.9,501.3z"/>
<path fill="#07b5cf" stroke-width="2.7" d="M606.3,422.5 L623.8,430.9 L629.9,501.3 L612.5,495.7z"/>
<path fill="#01b8c9" stroke-width="2.7" d="M588.8,414.9 L606.3,422.5 L612.5,495.7 L595.0,490.5z"/>
<path fill="#01b9c7" stroke-width="2.7" d="M571.3,413.2 L588.8,414.9 L595.0,490.5 L577.5,489.4z"/>
<path fill="#01b8c9" stroke-width="2.7" d="M553.8,415.3 L571.3,413.2 L577.5,489.4 L560.0,491.0z"/>
<path fill="#06b5cf" stroke-width="2.7" d="M536.3,423.4 L553.8,415.3 L560.0,491.0 L542.5,496.7z"/>
<path fill="#13b1d7" stroke-width="2.7" d="M518.8,435.0 L536.3,423.4 L542.5,496.7 L525.0,504.9z"/>
<path fill="#1ea8e0" stroke-width="2.7" d="M501.3,452.7 L518.8,435.0 L525.0,504.9 L507.5,517.3z"/>
<path fill="#259ce7" stroke-width="2.7" d="M483.8,474.0 L501.3,452.7 L507.5,517.3 L490.0,532.3z"/>
<path fill="#2d8cf3" stroke-width="2.7" d="M466.3,498.7 L483.8,474.0 L490.0,532.3 L472.5,549.6z"/>
<path fill="#327cfc" stroke-width="2.7" d="M448.8,523.1 L466.3,498.7 L472.5,549.6 L455.0,566.7z"/>
<path fill="#4269fe" stroke-width="2.7" d="M431.3,548.2 L448.8,523.1 L455.0,566.7 L437.5,584.3z"/>
<path fill="#475af9" stroke-width="2.7" d="M413.8,569.3 L431.3,548.2 L437.5,584.3 L420.0,599.0z"/>
<path fill="#484df0" stroke-width="2.7" d="M396.3,588.6 L413.8,569.3 L420.0,599.0 L402.5,611.7z"/>
<path fill="#4744e8" stroke-width="2.6" d="M378.8,601.9 L396.3,588.6 L402.5,611.7 L385.0,619.7z"/>
<path fill="#463cdf" stroke-width="2.3" d="M361.3,612.5 L378.8,601.9 L385.0,619.7 L367.5,626.0z"/>
<path fill="#4538d8" stroke-width="2.0" d="M343.8,619.2 L361.3,612.5 L367.5,626.0 L350.0,630.1z"/>
<path fill="#4434cf" stroke-width="2.0" d="M326.4,626.8 L343.8,619.2 L350.0,630.1 L332.5,635.7z"/>
<path fill="#4230c3" stroke-width="2.0" d="M308.9,636.2 L326.4,626.8 L332.5,635.7 L315.0,643.4z"/>
<path fill="#412cb9" stroke-width="1.9" d="M291.4,645.3 L308.9,636.2 L315.0,643.4 L297.5,651.2z"/>
<path fill="#412cba" stroke-width="1.8" d="M273.9,652.2 L291.4,645.3 L297.5,651.2 L280.0,657.3z"/>
<path fill="#4230c4" stroke-width="1.6" d="M256.4,655.2 L273.9,652.2 L280.0,657.3 L262.5,660.0z"/>
<path fill="#4332c9" stroke-width="1.6" d="M1347.3,636.0 L1364.8,635.6 L1370.9,640.3 L1353.4,640.7z"/>
<path fill="#4332c9" stroke-width="1.6" d="M1329.8,636.4 L1347.3,636.0 L1353.4,640.7 L1335.9,641.1z"/>
<path fill="#4332c9" stroke-width="1.6" d="M1312.3,636.7 L1329.8,636.4 L1335.9,641.1 L1318.4,641.4z"/>
<path fill="#4332c9" stroke-width="1.6" d="M1294.8,637.1 L1312.3,636.7 L1318.4,641.4 L1300.9,641.8z"/>
<path fill="#4332c9" stroke-width="1.6" d="M1277.3,637.5 L1294.8,637.1 L1300.9,641.8 L1283.5,642.2z"/>
<path fill="#4332c9" stroke-width="1.6" d="M1259.8,637.8 L1277.3,637.5 L1283.5,642.2 L1266.0,642.5z"/>
<path fill="#4332c9" stroke-width="1.6" d="M1242.3,638.2 L1259.8,637.8 L1266.0,642.5 L1248.5,642.9z"/>
<path fill="#4332c9" stroke-width="1.6" d="M1224.8,638.5 L1242.3,638.2 L1248.5,642.9 L1231.0,643.2z"/>
<path fill="#4332c9" stroke-width="1.6" d="M1207.3,638.9 L1224.8,638.5 L1231.0,643.2 L1213.5,643.6z"/>
<path fill="#4332ca" stroke-width="1.6" d="M1189.8,639.2 L1207.3,638.9 L1213.5,643.6 L1196.0,643.9z"/>
<path fill="#4332ca" stroke-width="1.6" d="M1172.3,639.6 L1189.8,639.2 L1196.0,643.9 L1178.5,644.3z"/>
<path fill="#4332ca" stroke-width="1.6" d="M1154.8,639.9 L1172.3,639.6 L1178.5,644.3 L1161.0,644.6z"/>
<path fill="#4332ca" stroke-width="1.6" d="M1137.3,640.2 L1154.8,639.9 L1161.0,644.6 L1143.5,644.9z"/>
<path fill="#4332ca" stroke-width="1.6" d="M1119.8,640.5 L1137.3,640.2 L1143.5,644.9 L1126.0,645.3z"/>
<path fill="#4332ca" stroke-width="1.6" d="M1102.3,640.8 L1119.8,640.5 L1126.0,645.3 L1108.5,645.5z"/>
<path fill="#4332ca" stroke-width="1.6" d="M1084.8,641.0 L1102.3,640.8 L1108.5,645.5 L1091.0,645.7z"/>
<path fill="#4332ca" stroke-width="1.6" d="M1067.3,641.1 L1084.8,641.0 L1091.0,645.7 L1073.5,645.9z"/>
<path fill="#4332cb" stroke-width="1.6" d="M1049.8,641.1 L1067.3,641.1 L1073.5,645.9 L1056.0,645.9z"/>
<path fill="#4433cb" stroke-width="1.6" d="M1032.3,641.1 L1049.8,641.1 L1056.0,645.9 L1038.5,645.9z"/>
<path fill="#4433cb" stroke-width="1.6" d="M1014.8,640.9 L1032.3,641.1 L1038.5,645.9 L1021.0,645.8z"/>
<path fill="#4433cc" stroke-width="1.6" d="M997.4,640.5 L1014.8,640.9 L1021.0,645.8 L1003.5,645.5z"/>
<path fill="#4433cd" stroke-width="1.6" d="M979.9,639.7 L997.4,640.5 L1003.5,645.5 L986.0,644.8z"/>
<path fill="#4434ce" stroke-width="1.6" d="M962.4,638.8 L979.9,639.7 L986.0,644.8 L968.5,644.0z"/>
<path fill="#4434ce" stroke-width="1.6" d="M944.9,637.5 L962.4,638.8 L968.5,644.0 L951.0,642.9z"/>
<path fill="#4434cd" stroke-width="1.6" d="M927.4,635.2 L944.9,637.5 L951.0,642.9 L933.5,640.8z"/>
<path fill="#4434ce" stroke-width="1.6" d="M909.9,631.8 L927.4,635.2 L933.5,640.8 L916.0,637.7z"/>
<path fill="#4435d0" stroke-width="1.7" d="M892.4,627.4 L909.9,631.8 L916.0,637.7 L898.6,633.8z"/>
<path fill="#4536d3" stroke-width="1.8" d="M874.9,622.1 L892.4,627.4 L898.6,633.8 L881.1,629.0z"/>
<path fill="#4538d8" stroke-width="1.8" d="M857.4,616.7 L874.9,622.1 L881.1,629.0 L863.6,624.1z"/>
<path fill="#463bdd" stroke-width="1.8" d="M839.9,610.6 L857.4,616.7 L863.6,624.1 L846.1,618.6z"/>
<path fill="#473fe3" stroke-width="1.9" d="M822.4,603.6 L839.9,610.6 L846.1,618.6 L828.6,612.3z"/>
<path fill="#4745e9" stroke-width="2.0" d="M804.9,595.4 L822.4,603.6 L828.6,612.3 L811.1,604.9z"/>
<path fill="#484bef" stroke-width="2.0" d="M787.4,587.0 L804.9,595.4 L811.1,604.9 L793.6,597.2z"/>
<path fill="#4852f4" stroke-width="2.1" d="M769.9,576.9 L787.4,587.0 L793.6,597.2 L776.1,588.1z"/>
<path fill="#475bf9" stroke-width="2.2" d="M752.4,565.5 L769.9,576.9 L776.1,588.1 L758.6,577.8z"/>
<path fill="#4563fd" stroke-width="2.3" d="M734.9,553.9 L752.4,565.5 L758.6,577.8 L741.1,567.3z"/>
<path fill="#416afe" stroke-width="2.2" d="M717.4,544.5 L734.9,553.9 L741.1,567.3 L723.6,558.7z"/>
<path fill="#3c71ff" stroke-width="2.2" d="M699.9,535.8 L717.4,544.5 L723.6,558.7 L706.1,550.9z"/>
<path fill="#3579fd" stroke-width="2.3" d="M682.4,526.9 L699.9,535.8 L706.1,550.9 L688.6,542.8z"/>
<path fill="#3080fa" stroke-width="2.4" d="M664.9,517.3 L682.4,526.9 L688.6,542.8 L671.1,534.1z"/>
<path fill="#2e87f7" stroke-width="2.4" d="M647.4,508.2 L664.9,517.3 L671.1,534.1 L653.6,525.9z"/>
<path fill="#2d8bf3" stroke-width="2.3" d="M629.9,501.3 L647.4,508.2 L653.6,525.9 L636.1,519.7z"/>
<path fill="#2c8ff0" stroke-width="2.3" d="M612.5,495.7 L629.9,501.3 L636.1,519.7 L618.6,514.6z"/>
<path fill="#2a93ee" stroke-width="2.3" d="M595.0,490.5 L612.5,495.7 L618.6,514.6 L601.1,509.9z"/>
<path fill="#2994ed" stroke-width="2.1" d="M577.5,489.4 L595.0,490.5 L601.1,509.9 L583.6,509.0z"/>
<path fill="#2a93ed" stroke-width="2.2" d="M560.0,491.0 L577.5,489.4 L583.6,509.0 L566.1,510.5z"/>
<path fill="#2c90f0" stroke-width="2.3" d="M542.5,496.7 L560.0,491.0 L566.1,510.5 L548.6,515.7z"/>
<path fill="#2d8bf4" stroke-width="2.4" d="M525.0,504.9 L542.5,496.7 L548.6,515.7 L531.2,523.2z"/>
<path fill="#2f82f9" stroke-width="2.5" d="M507.5,517.3 L525.0,504.9 L531.2,523.2 L513.7,534.5z"/>
<path fill="#3678fe" stroke-width="2.6" d="M490.0,532.3 L507.5,517.3 L513.7,534.5 L496.2,548.2z"/>
<path fill="#416bfe" stroke-width="2.6" d="M472.5,549.6 L490.0,532.3 L496.2,548.2 L478.7,563.9z"/>
<path fill="#465ffb" stroke-width="2.6" d="M455.0,566.7 L472.5,549.6 L478.7,563.9 L461.2,579.5z"/>
<path fill="#4852f4" stroke-width="2.5" d="M437.5,584.3 L455.0,566.7 L461.2,579.5 L443.7,595.5z"/>
<path fill="#4848ec" stroke-width="2.3" d="M420.0,599.0 L437.5,584.3 L443.7,595.5 L426.2,609.0z"/>
<path fill="#4740e3" stroke-width="2.2" d="M402.5,611.7 L420.0,599.0 L426.2,609.0 L408.7,621.1z"/>
<path fill="#463bdc" stroke-width="2.0" d="M385.0,619.7 L402.5,611.7 L408.7,621.1 L391.2,629.2z"/>
<path fill="#4537d6" stroke-width="1.9" d="M367.5,626.0 L385.0,619.7 L391.2,629.2 L373.7,635.6z"/>
<path fill="#4536d4" stroke-width="1.8" d="M350.0,630.1 L367.5,626.0 L373.7,635.6 L356.2,639.7z"/>
<path fill="#4433cc" stroke-width="1.9" d="M332.5,635.7 L350.0,630.1 L356.2,639.7 L338.7,644.8z"/>
<path fill="#422fc1" stroke-width="1.9" d="M315.0,643.4 L332.5,635.7 L338.7,644.8 L321.2,651.2z"/>
<path fill="#412cba" stroke-width="1.9" d="M297.5,651.2 L315.0,643.4 L321.2,651.2 L303.7,657.6z"/>
<path fill="#412dbc" stroke-width="1.7" d="M280.0,657.3 L297.5,651.2 L303.7,657.6 L286.2,662.5z"/>
<path fill="#4330c5" stroke-width="1.6" d="M262.5,660.0 L280.0,657.3 L286.2,662.5 L268.7,664.7z"/>
<path fill="#4332c9" stroke-width="1.6" d="M1353.4,640.7 L1370.9,640.3 L1377.1,645.0 L1359.6,645.4z"/>
<path fill="#4332c9" stroke-width="1.6" d="M1335.9,641.1 L1353.4,640.7 L1359.6,645.4 L1342.1,645.7z"/>
<path fill="#4332c9" stroke-width="1.6" d="M1318.4,641.4 L1335.9,641.1 L1342.1,645.7 L1324.6,646.1z"/>
<path fill="#4332c9" stroke-width="1.6" d="M1300.9,641.8 L1318.4,641.4 L1324.6,646.1 L1307.1,646.5z"/>
<path fill="#4332c9" stroke-width="1.6" d="M1283.5,642.2 L1300.9,641.8 L1307.1,646.5 L1289.6,646.8z"/>
<path fill="#4332c9" stroke-width="1.6" d="M1266.0,642.5 L1283.5,642.2 L1289.6,646.8 L1272.1,647.2z"/>
<path fill="#4332c9" stroke-width="1.6" d="M1248.5,642.9 L1266.0,642.5 L1272.1,647.2 L1254.6,647.6z"/>
<path fill="#4332c9" stroke-width="1.6" d="M1231.0,643.2 L1248.5,642.9 L1254.6,647.6 L1237.1,647.9z"/>
<path fill="#4332c9" stroke-width="1.6" d="M1213.5,643.6 L1231.0,643.2 L1237.1,647.9 L1219.6,648.3z"/>
<path fill="#4332c9" stroke-width="1.6" d="M1196.0,643.9 L1213.5,643.6 L1219.6,648.3 L1202.2,648.6z"/>
<path fill="#4332ca" stroke-width="1.6" d="M1178.5,644.3 L1196.0,643.9 L1202.2,648.6 L1184.7,649.0z"/>
<path fill="#4332ca" stroke-width="1.6" d="M1161.0,644.6 L1178.5,644.3 L1184.7,649.0 L1167.2,649.3z"/>
<path fill="#4332ca" stroke-width="1.6" d="M1143.5,644.9 L1161.0,644.6 L1167.2,649.3 L1149.7,649.7z"/>
<path fill="#4332ca" stroke-width="1.6" d="M1126.0,645.3 L1143.5,644.9 L1149.7,649.7 L1132.2,650.0z"/>
<path fill="#4332ca" stroke-width="1.6" d="M1108.5,645.5 L1126.0,645.3 L1132.2,650.0 L1114.7,650.3z"/>
<path fill="#4332ca" stroke-width="1.6" d="M1091.0,645.7 L1108.5,645.5 L1114.7,650.3 L1097.2,650.5z"/>
<path fill="#4332ca" stroke-width="1.6" d="M1073.5,645.9 L1091.0,645.7 L1097.2,650.5 L1079.7,650.7z"/>
<path fill="#4332ca" stroke-width="1.6" d="M1056.0,645.9 L1073.5,645.9 L1079.7,650.7 L1062.2,650.7z"/>
<path fill="#4432cb" stroke-width="1.6" d="M1038.5,645.9 L1056.0,645.9 L1062.2,650.7 L1044.7,650.8z"/>
<path fill="#4433cb" stroke-width="1.6" d="M1021.0,645.8 L1038.5,645.9 L1044.7,650.8 L1027.2,650.7z"/>
<path fill="#4433cc" stroke-width="1.6" d="M1003.5,645.5 L1021.0,645.8 L1027.2,650.7 L1009.7,650.4z"/>
<path fill="#4433cd" stroke-width="1.6" d="M986.0,644.8 L1003.5,645.5 L1009.7,650.4 L992.2,649.9z"/>
<path fill="#4434ce" stroke-width="1.6" d="M968.5,644.0 L986.0,644.8 L992.2,649.9 L974.7,649.2z"/>
<path fill="#4434ce" stroke-width="1.6" d="M951.0,642.9 L968.5,644.0 L974.7,649.2 L957.2,648.3z"/>
<path fill="#4433cd" stroke-width="1.6" d="M933.5,640.8 L951.0,642.9 L957.2,648.3 L939.7,646.4z"/>
<path fill="#4434ce" stroke-width="1.6" d="M916.0,637.7 L933.5,640.8 L939.7,646.4 L922.2,643.7z"/>
<path fill="#4434cf" stroke-width="1.7" d="M898.6,633.8 L916.0,637.7 L922.2,643.7 L904.7,640.2z"/>
<path fill="#4535d2" stroke-width="1.7" d="M881.1,629.0 L898.6,633.8 L904.7,640.2 L887.2,635.9z"/>
<path fill="#4537d6" stroke-width="1.8" d="M863.6,624.1 L881.1,629.0 L887.2,635.9 L869.7,631.6z"/>
<path fill="#463adb" stroke-width="1.8" d="M846.1,618.6 L863.6,624.1 L869.7,631.6 L852.2,626.6z"/>
<path fill="#463de0" stroke-width="1.9" d="M828.6,612.3 L846.1,618.6 L852.2,626.6 L834.7,621.0z"/>
<path fill="#4741e5" stroke-width="1.9" d="M811.1,604.9 L828.6,612.3 L834.7,621.0 L817.3,614.4z"/>
<path fill="#4747eb" stroke-width="2.0" d="M793.6,597.2 L811.1,604.9 L817.3,614.4 L799.8,607.5z"/>
<path fill="#484ef1" stroke-width="2.1" d="M776.1,588.1 L793.6,597.2 L799.8,607.5 L782.3,599.3z"/>
<path fill="#4755f6" stroke-width="2.2" d="M758.6,577.8 L776.1,588.1 L782.3,599.3 L764.8,590.1z"/>
<path fill="#465dfa" stroke-width="2.2" d="M741.1,567.3 L758.6,577.8 L764.8,590.1 L747.3,580.7z"/>
<path fill="#4563fd" stroke-width="2.2" d="M723.6,558.7 L741.1,567.3 L747.3,580.7 L729.8,573.0z"/>
<path fill="#4269fe" stroke-width="2.2" d="M706.1,550.9 L723.6,558.7 L729.8,573.0 L712.3,566.0z"/>
<path fill="#3e70ff" stroke-width="2.3" d="M688.6,542.8 L706.1,550.9 L712.3,566.0 L694.8,558.8z"/>
<path fill="#3777fe" stroke-width="2.3" d="M671.1,534.1 L688.6,542.8 L694.8,558.8 L677.3,551.0z"/>
<path fill="#317dfb" stroke-width="2.3" d="M653.6,525.9 L671.1,534.1 L677.3,551.0 L659.8,543.6z"/>
<path fill="#2f82f9" stroke-width="2.3" d="M636.1,519.7 L653.6,525.9 L659.8,543.6 L642.3,538.1z"/>
<path fill="#2e86f7" stroke-width="2.3" d="M618.6,514.6 L636.1,519.7 L642.3,538.1 L624.8,533.5z"/>
<path fill="#2d89f5" stroke-width="2.3" d="M601.1,509.9 L618.6,514.6 L624.8,533.5 L607.3,529.3z"/>
<path fill="#2d8af4" stroke-width="2.1" d="M583.6,509.0 L601.1,509.9 L607.3,529.3 L589.8,528.5z"/>
<path fill="#2d89f5" stroke-width="2.2" d="M566.1,510.5 L583.6,509.0 L589.8,528.5 L572.3,529.9z"/>
<path fill="#2e86f7" stroke-width="2.3" d="M548.6,515.7 L566.1,510.5 L572.3,529.9 L554.8,534.7z"/>
<path fill="#2f81fa" stroke-width="2.4" d="M531.2,523.2 L548.6,515.7 L554.8,534.7 L537.3,541.4z"/>
<path fill="#3479fd" stroke-width="2.5" d="M513.7,534.5 L531.2,523.2 L537.3,541.4 L519.8,551.7z"/>
<path fill="#3e6fff" stroke-width="2.5" d="M496.2,548.2 L513.7,534.5 L519.8,551.7 L502.3,564.0z"/>
<path fill="#4564fd" stroke-width="2.6" d="M478.7,563.9 L496.2,548.2 L502.3,564.0 L484.8,578.2z"/>
<path fill="#4759f8" stroke-width="2.5" d="M461.2,579.5 L478.7,563.9 L484.8,578.2 L467.3,592.3z"/>
<path fill="#484ef1" stroke-width="2.4" d="M443.7,595.5 L461.2,579.5 L467.3,592.3 L449.8,606.8z"/>
<path fill="#4745e9" stroke-width="2.3" d="M426.2,609.0 L443.7,595.5 L449.8,606.8 L432.4,619.0z"/>
<path fill="#463cdf" stroke-width="2.2" d="M408.7,621.1 L426.2,609.0 L432.4,619.0 L414.9,630.2z"/>
<path fill="#4538d7" stroke-width="2.0" d="M391.2,629.2 L408.7,621.1 L414.9,630.2 L397.4,637.9z"/>
<path fill="#4435d1" stroke-width="1.9" d="M373.7,635.6 L391.2,629.2 L397.4,637.9 L379.9,644.2z"/>
<path fill="#4435d0" stroke-width="1.8" d="M356.2,639.7 L373.7,635.6 L379.9,644.2 L362.4,648.2z"/>
<path fill="#4332ca" stroke-width="1.8" d="M338.7,644.8 L356.2,639.7 L362.4,648.2 L344.9,652.7z"/>
<path fill="#422fc2" stroke-width="1.8" d="M321.2,651.2 L338.7,644.8 L344.9,652.7 L327.4,658.2z"/>
<path fill="#412dbd" stroke-width="1.8" d="M303.7,657.6 L321.2,651.2 L327.4,658.2 L309.9,663.5z"/>
<path fill="#422ebf" stroke-width="1.7" d="M286.2,662.5 L303.7,657.6 L309.9,663.5 L292.4,667.5z"/>
<path fill="#4331c7" stroke-width="1.6" d="M268.7,664.7 L286.2,662.5 L292.4,667.5 L274.9,669.4z"/>
<path fill="#4332c9" stroke-width="1.6" d="M1359.6,645.4 L1377.1,645.0 L1383.3,649.7 L1365.8,650.0z"/>
<path fill="#4332c9" stroke-width="1.6" d="M1342.1,645.7 L1359.6,645.4 L1365.8,650.0 L1348.3,650.4z"/>
<path fill="#4332c9" stroke-width="1.6" d="M1324.6,646.1 L1342.1,645.7 L1348.3,650.4 L1330.8,650.8z"/>
<path fill="#4332c9" stroke-width="1.6" d="M1307.1,646.5 L1324.6,646.1 L1330.8,650.8 L1313.3,651.2z"/>
<path fill="#4332c9" stroke-width="1.6" d="M1289.6,646.8 L1307.1,646.5 L1313.3,651.2 L1295.8,651.5z"/>
<path fill="#4332c9" stroke-width="1.6" d="M1272.1,647.2 L1289.6,646.8 L1295.8,651.5 L1278.3,651.9z"/>
<path fill="#4332c9" stroke-width="1.6" d="M1254.6,647.6 L1272.1,647.2 L1278.3,651.9 L1260.8,652.3z"/>
<path fill="#4332c9" stroke-width="1.6" d="M1237.1,647.9 L1254.6,647.6 L1260.8,652.3 L1243.3,652.6z"/>
<path fill="#4332c9" stroke-width="1.6" d="M1219.6,648.3 L1237.1,647.9 L1243.3,652.6 L1225.8,653.0z"/>
<path fill="#4332c9" stroke-width="1.6" d="M1202.2,648.6 L1219.6,648.3 L1225.8,653.0 L1208.3,653.4z"/>
<path fill="#4332c9" stroke-width="1.6" d="M1184.7,649.0 L1202.2,648.6 L1208.3,653.4 L1190.8,653.7z"/>
<path fill="#4332ca" stroke-width="1.6" d="M1167.2,649.3 L1184.7,649.0 L1190.8,653.7 L1173.3,654.0z"/>
<path fill="#4332ca" stroke-width="1.6" d="M1149.7,649.7 L1167.2,649.3 L1173.3,654.0 L1155.8,654.4z"/>
<path fill="#4332ca" stroke-width="1.6" d="M1132.2,650.0 L1149.7,649.7 L1155.8,654.4 L1138.3,654.7z"/>
<path fill="#4332ca" stroke-width="1.6" d="M1114.7,650.3 L1132.2,650.0 L1138.3,654.7 L1120.8,655.0z"/>
<path fill="#4332ca" stroke-width="1.6" d="M1097.2,650.5 L1114.7,650.3 L1120.8,655.0 L1103.4,655.3z"/>
<path fill="#4332ca" stroke-width="1.6" d="M1079.7,650.7 L1097.2,650.5 L1103.4,655.3 L1085.9,655.4z"/>
<path fill="#4332ca" stroke-width="1.6" d="M1062.2,650.7 L1079.7,650.7 L1085.9,655.4 L1068.4,655.6z"/>
<path fill="#4332cb" stroke-width="1.6" d="M1044.7,650.8 L1062.2,650.7 L1068.4,655.6 L1050.9,655.6z"/>
<path fill="#4433cb" stroke-width="1.6" d="M1027.2,650.7 L1044.7,650.8 L1050.9,655.6 L1033.4,655.6z"/>
<path fill="#4433cc" stroke-width="1.6" d="M1009.7,650.4 L1027.2,650.7 L1033.4,655.6 L1015.9,655.4z"/>
<path fill="#4433cc" stroke-width="1.6" d="M992.2,649.9 L1009.7,650.4 L1015.9,655.4 L998.4,655.0z"/>
<path fill="#4433cd" stroke-width="1.6" d="M974.7,649.2 L992.2,649.9 L998.4,655.0 L980.9,654.4z"/>
<path fill="#4434ce" stroke-width="1.6" d="M957.2,648.3 L974.7,649.2 L980.9,654.4 L963.4,653.6z"/>
<path fill="#4433cd" stroke-width="1.6" d="M939.7,646.4 L957.2,648.3 L963.4,653.6 L945.9,652.0z"/>
<path fill="#4433cd" stroke-width="1.6" d="M922.2,643.7 L939.7,646.4 L945.9,652.0 L928.4,649.6z"/>
<path fill="#4434ce" stroke-width="1.7" d="M904.7,640.2 L922.2,643.7 L928.4,649.6 L910.9,646.6z"/>
<path fill="#4435d1" stroke-width="1.7" d="M887.2,635.9 L904.7,640.2 L910.9,646.6 L893.4,642.8z"/>
<path fill="#4536d5" stroke-width="1.7" d="M869.7,631.6 L887.2,635.9 L893.4,642.8 L875.9,639.0z"/>
<path fill="#4538d8" stroke-width="1.8" d="M852.2,626.6 L869.7,631.6 L875.9,639.0 L858.4,634.6z"/>
<path fill="#463bdc" stroke-width="1.8" d="M834.7,621.0 L852.2,626.6 L858.4,634.6 L840.9,629.6z"/>
<path fill="#473ee2" stroke-width="1.9" d="M817.3,614.4 L834.7,621.0 L840.9,629.6 L823.4,623.8z"/>
<path fill="#4743e7" stroke-width="2.0" d="M799.8,607.5 L817.3,614.4 L823.4,623.8 L805.9,617.8z"/>
<path fill="#4849ed" stroke-width="2.1" d="M782.3,599.3 L799.8,607.5 L805.9,617.8 L788.4,610.6z"/>
<path fill="#4850f3" stroke-width="2.1" d="M764.8,590.1 L782.3,599.3 L788.4,610.6 L770.9,602.4z"/>
<path fill="#4757f7" stroke-width="2.2" d="M747.3,580.7 L764.8,590.1 L770.9,602.4 L753.4,594.1z"/>
<path fill="#475dfa" stroke-width="2.2" d="M729.8,573.0 L747.3,580.7 L753.4,594.1 L736.0,587.3z"/>
<path fill="#4562fc" stroke-width="2.2" d="M712.3,566.0 L729.8,573.0 L736.0,587.3 L718.5,581.1z"/>
<path fill="#4367fd" stroke-width="2.2" d="M694.8,558.8 L712.3,566.0 L718.5,581.1 L701.0,574.7z"/>
<path fill="#3f6dfe" stroke-width="2.3" d="M677.3,551.0 L694.8,558.8 L701.0,574.7 L683.5,567.8z"/>
<path fill="#3a73fe" stroke-width="2.3" d="M659.8,543.6 L677.3,551.0 L683.5,567.8 L666.0,561.3z"/>
<path fill="#3678fd" stroke-width="2.3" d="M642.3,538.1 L659.8,543.6 L666.0,561.3 L648.5,556.5z"/>
<path fill="#327cfc" stroke-width="2.3" d="M624.8,533.5 L642.3,538.1 L648.5,556.5 L631.0,552.4z"/>
<path fill="#307ffb" stroke-width="2.3" d="M607.3,529.3 L624.8,533.5 L631.0,552.4 L613.5,548.8z"/>
<path fill="#3080fa" stroke-width="2.1" d="M589.8,528.5 L607.3,529.3 L613.5,548.8 L596.0,548.1z"/>
<path fill="#307ffb" stroke-width="2.2" d="M572.3,529.9 L589.8,528.5 L596.0,548.1 L578.5,549.4z"/>
<path fill="#327cfc" stroke-width="2.3" d="M554.8,534.7 L572.3,529.9 L578.5,549.4 L561.0,553.6z"/>
<path fill="#3677fe" stroke-width="2.3" d="M537.3,541.4 L554.8,534.7 L561.0,553.6 L543.5,559.7z"/>
<path fill="#3e70ff" stroke-width="2.4" d="M519.8,551.7 L537.3,541.4 L543.5,559.7 L526.0,568.9z"/>
<path fill="#4367fd" stroke-width="2.5" d="M502.3,564.0 L519.8,551.7 L526.0,568.9 L508.5,579.9z"/>
<path fill="#475dfa" stroke-width="2.5" d="M484.8,578.2 L502.3,564.0 L508.5,579.9 L491.0,592.5z"/>
<path fill="#4853f5" stroke-width="2.4" d="M467.3,592.3 L484.8,578.2 L491.0,592.5 L473.5,605.1z"/>
<path fill="#4849ed" stroke-width="2.4" d="M449.8,606.8 L467.3,592.3 L473.5,605.1 L456.0,618.0z"/>
<path fill="#4741e5" stroke-width="2.2" d="M432.4,619.0 L449.8,606.8 L456.0,618.0 L438.5,628.8z"/>
<path fill="#463ada" stroke-width="2.1" d="M414.9,630.2 L432.4,619.0 L438.5,628.8 L421.0,638.3z"/>
<path fill="#4536d4" stroke-width="1.9" d="M397.4,637.9 L414.9,630.2 L421.0,638.3 L403.5,644.4z"/>
<path fill="#4536d3" stroke-width="1.7" d="M379.9,644.2 L397.4,637.9 L403.5,644.4 L386.0,649.2z"/>
<path fill="#4537d5" stroke-width="1.6" d="M362.4,648.2 L379.9,644.2 L386.0,649.2 L368.5,652.4z"/>
<path fill="#4435d1" stroke-width="1.6" d="M344.9,652.7 L362.4,648.2 L368.5,652.4 L351.1,656.6z"/>
<path fill="#4332c9" stroke-width="1.7" d="M327.4,658.2 L344.9,652.7 L351.1,656.6 L333.6,662.1z"/>
<path fill="#4230c4" stroke-width="1.7" d="M309.9,663.5 L327.4,658.2 L333.6,662.1 L316.1,667.7z"/>
<path fill="#422fc3" stroke-width="1.6" d="M292.4,667.5 L309.9,663.5 L316.1,667.7 L298.6,672.1z"/>
<path fill="#4331c8" stroke-width="1.6" d="M274.9,669.4 L292.4,667.5 L298.6,672.1 L281.1,674.1z"/>
<path fill="#4332c9" stroke-width="1.6" d="M1365.8,650.0 L1383.3,649.7 L1389.5,654.3 L1372.0,654.7z"/>
<path fill="#4332c9" stroke-width="1.6" d="M1348.3,650.4 L1365.8,650.0 L1372.0,654.7 L1354.5,655.1z"/>
<path fill="#4332c9" stroke-width="1.6" d="M1330.8,650.8 L1348.3,650.4 L1354.5,655.1 L1337.0,655.5z"/>
<path fill="#4332c9" stroke-width="1.6" d="M1313.3,651.2 L1330.8,650.8 L1337.0,655.5 L1319.5,655.8z"/>
<path fill="#4332c9" stroke-width="1.6" d="M1295.8,651.5 L1313.3,651.2 L1319.5,655.8 L1302.0,656.2z"/>
<path fill="#4332c9" stroke-width="1.6" d="M1278.3,651.9 L1295.8,651.5 L1302.0,656.2 L1284.5,656.6z"/>
<path fill="#4332c9" stroke-width="1.6" d="M1260.8,652.3 L1278.3,651.9 L1284.5,656.6 L1267.0,657.0z"/>
<path fill="#4332c9" stroke-width="1.6" d="M1243.3,652.6 L1260.8,652.3 L1267.0,657.0 L1249.5,657.3z"/>
<path fill="#4332c9" stroke-width="1.6" d="M1225.8,653.0 L1243.3,652.6 L1249.5,657.3 L1232.0,657.7z"/>
<path fill="#4332c9" stroke-width="1.6" d="M1208.3,653.4 L1225.8,653.0 L1232.0,657.7 L1214.5,658.1z"/>
<path fill="#4332c9" stroke-width="1.6" d="M1190.8,653.7 L1208.3,653.4 L1214.5,658.1 L1197.0,658.4z"/>
<path fill="#4332c9" stroke-width="1.6" d="M1173.3,654.0 L1190.8,653.7 L1197.0,658.4 L1179.5,658.8z"/>
<path fill="#4332ca" stroke-width="1.6" d="M1155.8,654.4 L1173.3,654.0 L1179.5,658.8 L1162.0,659.1z"/>
<path fill="#4332ca" stroke-width="1.6" d="M1138.3,654.7 L1155.8,654.4 L1162.0,659.1 L1144.5,659.4z"/>
<path fill="#4332ca" stroke-width="1.6" d="M1120.8,655.0 L1138.3,654.7 L1144.5,659.4 L1127.0,659.7z"/>
<path fill="#4332ca" stroke-width="1.6" d="M1103.4,655.3 L1120.8,655.0 L1127.0,659.7 L1109.5,660.0z"/>
<path fill="#4332ca" stroke-width="1.6" d="M1085.9,655.4 L1103.4,655.3 L1109.5,660.0 L1092.0,660.2z"/>
<path fill="#4332ca" stroke-width="1.6" d="M1068.4,655.6 L1085.9,655.4 L1092.0,660.2 L1074.5,660.4z"/>
<path fill="#4332cb" stroke-width="1.6" d="M1050.9,655.6 L1068.4,655.6 L1074.5,660.4 L1057.0,660.5z"/>
<path fill="#4432cb" stroke-width="1.6" d="M1033.4,655.6 L1050.9,655.6 L1057.0,660.5 L1039.5,660.5z"/>
<path fill="#4433cb" stroke-width="1.6" d="M1015.9,655.4 L1033.4,655.6 L1039.5,660.5 L1022.1,660.4z"/>
<path fill="#4433cc" stroke-width="1.6" d="M998.4,655.0 L1015.9,655.4 L1022.1,660.4 L1004.6,660.1z"/>
<path fill="#4433cd" stroke-width="1.6" d="M980.9,654.4 L998.4,655.0 L1004.6,660.1 L987.1,659.6z"/>
<path fill="#4434ce" stroke-width="1.6" d="M963.4,653.6 L980.9,654.4 L987.1,659.6 L969.6,659.0z"/>
<path fill="#4433cd" stroke-width="1.6" d="M945.9,652.0 L963.4,653.6 L969.6,659.0 L952.1,657.6z"/>
<path fill="#4433cd" stroke-width="1.6" d="M928.4,649.6 L945.9,652.0 L952.1,657.6 L934.6,655.6z"/>
<path fill="#4434ce" stroke-width="1.6" d="M910.9,646.6 L928.4,649.6 L934.6,655.6 L917.1,652.9z"/>
<path fill="#4434cf" stroke-width="1.7" d="M893.4,642.8 L910.9,646.6 L917.1,652.9 L899.6,649.7z"/>
<path fill="#4536d3" stroke-width="1.7" d="M875.9,639.0 L893.4,642.8 L899.6,649.7 L882.1,646.4z"/>
<path fill="#4537d6" stroke-width="1.8" d="M858.4,634.6 L875.9,639.0 L882.1,646.4 L864.6,642.6z"/>
<path fill="#4639d9" stroke-width="1.8" d="M840.9,629.6 L858.4,634.6 L864.6,642.6 L847.1,638.3z"/>
<path fill="#463cde" stroke-width="1.9" d="M823.4,623.8 L840.9,629.6 L847.1,638.3 L829.6,633.3z"/>
<path fill="#473fe3" stroke-width="1.9" d="M805.9,617.8 L823.4,623.8 L829.6,633.3 L812.1,628.1z"/>
<path fill="#4745e9" stroke-width="2.0" d="M788.4,610.6 L805.9,617.8 L812.1,628.1 L794.6,621.8z"/>
<path fill="#484bee" stroke-width="2.1" d="M770.9,602.4 L788.4,610.6 L794.6,621.8 L777.1,614.7z"/>
<path fill="#4851f3" stroke-width="2.1" d="M753.4,594.1 L770.9,602.4 L777.1,614.7 L759.6,607.4z"/>
<path fill="#4756f6" stroke-width="2.1" d="M736.0,587.3 L753.4,594.1 L759.6,607.4 L742.1,601.6z"/>
<path fill="#475af9" stroke-width="2.1" d="M718.5,581.1 L736.0,587.3 L742.1,601.6 L724.6,596.2z"/>
<path fill="#465ffb" stroke-width="2.2" d="M701.0,574.7 L718.5,581.1 L724.6,596.2 L707.1,590.7z"/>
<path fill="#4464fd" stroke-width="2.2" d="M683.5,567.8 L701.0,574.7 L707.1,590.7 L689.6,584.7z"/>
<path fill="#426afe" stroke-width="2.3" d="M666.0,561.3 L683.5,567.8 L689.6,584.7 L672.1,579.0z"/>
<path fill="#3f6dfe" stroke-width="2.2" d="M648.5,556.5 L666.0,561.3 L672.1,579.0 L654.6,574.8z"/>
<path fill="#3d71ff" stroke-width="2.2" d="M631.0,552.4 L648.5,556.5 L654.6,574.8 L637.2,571.4z"/>
<path fill="#3a74fe" stroke-width="2.2" d="M613.5,548.8 L631.0,552.4 L637.2,571.4 L619.7,568.2z"/>
<path fill="#3975fe" stroke-width="2.1" d="M596.0,548.1 L613.5,548.8 L619.7,568.2 L602.2,567.7z"/>
<path fill="#3974fe" stroke-width="2.2" d="M578.5,549.4 L596.0,548.1 L602.2,567.7 L584.7,568.8z"/>
<path fill="#3c71ff" stroke-width="2.3" d="M561.0,553.6 L578.5,549.4 L584.7,568.8 L567.2,572.6z"/>
<path fill="#406dfe" stroke-width="2.3" d="M543.5,559.7 L561.0,553.6 L567.2,572.6 L549.7,578.0z"/>
<path fill="#4466fd" stroke-width="2.4" d="M526.0,568.9 L543.5,559.7 L549.7,578.0 L532.2,586.0z"/>
<path fill="#465ffb" stroke-width="2.4" d="M508.5,579.9 L526.0,568.9 L532.2,586.0 L514.7,595.7z"/>
<path fill="#4756f7" stroke-width="2.4" d="M491.0,592.5 L508.5,579.9 L514.7,595.7 L497.2,606.8z"/>
<path fill="#484df1" stroke-width="2.4" d="M473.5,605.1 L491.0,592.5 L497.2,606.8 L479.7,617.9z"/>
<path fill="#4745e9" stroke-width="2.3" d="M456.0,618.0 L473.5,605.1 L479.7,617.9 L462.2,629.2z"/>
<path fill="#463de0" stroke-width="2.1" d="M438.5,628.8 L456.0,618.0 L462.2,629.2 L444.7,638.6z"/>
<path fill="#4537d7" stroke-width="2.0" d="M421.0,638.3 L438.5,628.8 L444.7,638.6 L427.2,645.9z"/>
<path fill="#4538d7" stroke-width="1.7" d="M403.5,644.4 L421.0,638.3 L427.2,645.9 L409.7,649.5z"/>
<path fill="#4538d8" stroke-width="1.6" d="M386.0,649.2 L403.5,644.4 L409.7,649.5 L392.2,652.2z"/>
<path fill="#4539d9" stroke-width="1.6" d="M368.5,652.4 L386.0,649.2 L392.2,652.2 L374.7,654.2z"/>
<path fill="#4537d6" stroke-width="1.6" d="M351.1,656.6 L368.5,652.4 L374.7,654.2 L357.2,658.2z"/>
<path fill="#4434ce" stroke-width="1.6" d="M333.6,662.1 L351.1,656.6 L357.2,658.2 L339.7,664.4z"/>
<path fill="#4331c6" stroke-width="1.6" d="M316.1,667.7 L333.6,662.1 L339.7,664.4 L322.2,671.1z"/>
<path fill="#422fc3" stroke-width="1.6" d="M298.6,672.1 L316.1,667.7 L322.2,671.1 L304.7,676.4z"/>
<path fill="#4331c7" stroke-width="1.6" d="M281.1,674.1 L298.6,672.1 L304.7,676.4 L287.2,678.8z"/>
<path fill="#4332c9" stroke-width="1.6" d="M1372.0,654.7 L1389.5,654.3 L1395.6,659.0 L1378.1,659.4z"/>
<path fill="#4332c9" stroke-width="1.6" d="M1354.5,655.1 L1372.0,654.7 L1378.1,659.4 L1360.6,659.8z"/>
<path fill="#4332c9" stroke-width="1.6" d="M1337.0,655.5 L1354.5,655.1 L1360.6,659.8 L1343.1,660.1z"/>
<path fill="#4332c9" stroke-width="1.6" d="M1319.5,655.8 L1337.0,655.5 L1343.1,660.1 L1325.6,660.5z"/>
<path fill="#4332c9" stroke-width="1.6" d="M1302.0,656.2 L1319.5,655.8 L1325.6,660.5 L1308.2,660.9z"/>
<path fill="#4332c9" stroke-width="1.6" d="M1284.5,656.6 L1302.0,656.2 L1308.2,660.9 L1290.7,661.3z"/>
<path fill="#4332c9" stroke-width="1.6" d="M1267.0,657.0 L1284.5,656.6 L1290.7,661.3 L1273.2,661.6z"/>
<path fill="#4332c9" stroke-width="1.6" d="M1249.5,657.3 L1267.0,657.0 L1273.2,661.6 L1255.7,662.0z"/>
<path fill="#4332c9" stroke-width="1.6" d="M1232.0,657.7 L1249.5,657.3 L1255.7,662.0 L1238.2,662.4z"/>
<path fill="#4332c9" stroke-width="1.6" d="M1214.5,658.1 L1232.0,657.7 L1238.2,662.4 L1220.7,662.7z"/>
<path fill="#4332c9" stroke-width="1.6" d="M1197.0,658.4 L1214.5,658.1 L1220.7,662.7 L1203.2,663.1z"/>
<path fill="#4332c9" stroke-width="1.6" d="M1179.5,658.8 L1197.0,658.4 L1203.2,663.1 L1185.7,663.5z"/>
<path fill="#4332c9" stroke-width="1.6" d="M1162.0,659.1 L1179.5,658.8 L1185.7,663.5 L1168.2,663.8z"/>
<path fill="#4332ca" stroke-width="1.6" d="M1144.5,659.4 L1162.0,659.1 L1168.2,663.8 L1150.7,664.1z"/>
<path fill="#4332ca" stroke-width="1.6" d="M1127.0,659.7 L1144.5,659.4 L1150.7,664.1 L1133.2,664.4z"/>
<path fill="#4332ca" stroke-width="1.6" d="M1109.5,660.0 L1127.0,659.7 L1133.2,664.4 L1115.7,664.7z"/>
<path fill="#4332ca" stroke-width="1.6" d="M1092.0,660.2 L1109.5,660.0 L1115.7,664.7 L1098.2,664.9z"/>
<path fill="#4332ca" stroke-width="1.6" d="M1074.5,660.4 L1092.0,660.2 L1098.2,664.9 L1080.7,665.1z"/>
<path fill="#4332ca" stroke-width="1.6" d="M1057.0,660.5 L1074.5,660.4 L1080.7,665.1 L1063.2,665.3z"/>
<path fill="#4332cb" stroke-width="1.6" d="M1039.5,660.5 L1057.0,660.5 L1063.2,665.3 L1045.7,665.3z"/>
<path fill="#4433cb" stroke-width="1.6" d="M1022.1,660.4 L1039.5,660.5 L1045.7,665.3 L1028.2,665.2z"/>
<path fill="#4433cc" stroke-width="1.6" d="M1004.6,660.1 L1022.1,660.4 L1028.2,665.2 L1010.7,664.9z"/>
<path fill="#4433cc" stroke-width="1.6" d="M987.1,659.6 L1004.6,660.1 L1010.7,664.9 L993.2,664.6z"/>
<path fill="#4433cd" stroke-width="1.6" d="M969.6,659.0 L987.1,659.6 L993.2,664.6 L975.7,664.0z"/>
<path fill="#4434ce" stroke-width="1.6" d="M952.1,657.6 L969.6,659.0 L975.7,664.0 L958.2,662.7z"/>
<path fill="#4434ce" stroke-width="1.6" d="M934.6,655.6 L952.1,657.6 L958.2,662.7 L940.7,660.9z"/>
<path fill="#4434ce" stroke-width="1.6" d="M917.1,652.9 L934.6,655.6 L940.7,660.9 L923.3,658.5z"/>
<path fill="#4435d0" stroke-width="1.6" d="M899.6,649.7 L917.1,652.9 L923.3,658.5 L905.8,655.5z"/>
<path fill="#4536d3" stroke-width="1.6" d="M882.1,646.4 L899.6,649.7 L905.8,655.5 L888.3,652.5z"/>
<path fill="#4537d6" stroke-width="1.7" d="M864.6,642.6 L882.1,646.4 L888.3,652.5 L870.8,649.0z"/>
<path fill="#4539d8" stroke-width="1.7" d="M847.1,638.3 L864.6,642.6 L870.8,649.0 L853.3,645.0z"/>
<path fill="#463bdc" stroke-width="1.8" d="M829.6,633.3 L847.1,638.3 L853.3,645.0 L835.8,640.4z"/>
<path fill="#463de0" stroke-width="1.8" d="M812.1,628.1 L829.6,633.3 L835.8,640.4 L818.3,635.5z"/>
<path fill="#4741e5" stroke-width="1.8" d="M794.6,621.8 L812.1,628.1 L818.3,635.5 L800.8,629.7z"/>
<path fill="#4745ea" stroke-width="1.9" d="M777.1,614.7 L794.6,621.8 L800.8,629.7 L783.3,623.1z"/>
<path fill="#484bee" stroke-width="1.9" d="M759.6,607.4 L777.1,614.7 L783.3,623.1 L765.8,616.5z"/>
<path fill="#484ff2" stroke-width="1.9" d="M742.1,601.6 L759.6,607.4 L765.8,616.5 L748.3,611.0z"/>
<path fill="#4853f5" stroke-width="1.9" d="M724.6,596.2 L742.1,601.6 L748.3,611.0 L730.8,606.1z"/>
<path fill="#4757f7" stroke-width="1.9" d="M707.1,590.7 L724.6,596.2 L730.8,606.1 L713.3,601.0z"/>
<path fill="#475cfa" stroke-width="2.0" d="M689.6,584.7 L707.1,590.7 L713.3,601.0 L695.8,595.5z"/>
<path fill="#4660fb" stroke-width="2.0" d="M672.1,579.0 L689.6,584.7 L695.8,595.5 L678.3,590.2z"/>
<path fill="#4563fd" stroke-width="1.9" d="M654.6,574.8 L672.1,579.0 L678.3,590.2 L660.8,586.4z"/>
<path fill="#4466fd" stroke-width="1.9" d="M637.2,571.4 L654.6,574.8 L660.8,586.4 L643.3,583.2z"/>
<path fill="#4369fe" stroke-width="1.9" d="M619.7,568.2 L637.2,571.4 L643.3,583.2 L625.8,580.3z"/>
<path fill="#4269fe" stroke-width="1.8" d="M602.2,567.7 L619.7,568.2 L625.8,580.3 L608.3,579.8z"/>
<path fill="#4269fe" stroke-width="1.8" d="M584.7,568.8 L602.2,567.7 L608.3,579.8 L590.8,580.9z"/>
<path fill="#4466fd" stroke-width="1.9" d="M567.2,572.6 L584.7,568.8 L590.8,580.9 L573.3,584.4z"/>
<path fill="#4563fc" stroke-width="2.0" d="M549.7,578.0 L567.2,572.6 L573.3,584.4 L555.9,589.4z"/>
<path fill="#465dfb" stroke-width="2.1" d="M532.2,586.0 L549.7,578.0 L555.9,589.4 L538.4,596.9z"/>
<path fill="#4757f7" stroke-width="2.1" d="M514.7,595.7 L532.2,586.0 L538.4,596.9 L520.9,606.0z"/>
<path fill="#484ff2" stroke-width="2.1" d="M497.2,606.8 L514.7,595.7 L520.9,606.0 L503.4,616.3z"/>
<path fill="#4848ec" stroke-width="2.1" d="M479.7,617.9 L497.2,606.8 L503.4,616.3 L485.9,626.6z"/>
<path fill="#4740e4" stroke-width="2.1" d="M462.2,629.2 L479.7,617.9 L485.9,626.6 L468.4,637.1z"/>
<path fill="#463adb" stroke-width="2.0" d="M444.7,638.6 L462.2,629.2 L468.4,637.1 L450.9,645.8z"/>
<path fill="#4537d7" stroke-width="1.8" d="M427.2,645.9 L444.7,638.6 L450.9,645.8 L433.4,652.0z"/>
<path fill="#4639da" stroke-width="1.6" d="M409.7,649.5 L427.2,645.9 L433.4,652.0 L415.9,654.7z"/>
<path fill="#463adb" stroke-width="1.6" d="M392.2,652.2 L409.7,649.5 L415.9,654.7 L398.4,656.4z"/>
<path fill="#463adb" stroke-width="1.6" d="M374.7,654.2 L392.2,652.2 L398.4,656.4 L380.9,657.8z"/>
<path fill="#4537d6" stroke-width="1.6" d="M357.2,658.2 L374.7,654.2 L380.9,657.8 L363.4,661.7z"/>
<path fill="#4433cb" stroke-width="1.7" d="M339.7,664.4 L357.2,658.2 L363.4,661.7 L345.9,668.1z"/>
<path fill="#422fc2" stroke-width="1.7" d="M322.2,671.1 L339.7,664.4 L345.9,668.1 L328.4,675.3z"/>
<path fill="#422ebf" stroke-width="1.7" d="M304.7,676.4 L322.2,671.1 L328.4,675.3 L310.9,681.0z"/>
<path fill="#4331c6" stroke-width="1.6" d="M287.2,678.8 L304.7,676.4 L310.9,681.0 L293.4,683.5z"/>
<path fill="#4332c9" stroke-width="1.6" d="M1378.1,659.4 L1395.6,659.0 L1401.8,663.7 L1384.3,664.1z"/>
<path fill="#4332c9" stroke-width="1.6" d="M1360.6,659.8 L1378.1,659.4 L1384.3,664.1 L1366.8,664.4z"/>
<path fill="#4332c9" stroke-width="1.6" d="M1343.1,660.1 L1360.6,659.8 L1366.8,664.4 L1349.3,664.8z"/>
<path fill="#4332c9" stroke-width="1.6" d="M1325.6,660.5 L1343.1,660.1 L1349.3,664.8 L1331.8,665.2z"/>
<path fill="#4332c9" stroke-width="1.6" d="M1308.2,660.9 L1325.6,660.5 L1331.8,665.2 L1314.3,665.6z"/>
<path fill="#4332c9" stroke-width="1.6" d="M1290.7,661.3 L1308.2,660.9 L1314.3,665.6 L1296.8,665.9z"/>
<path fill="#4332c9" stroke-width="1.6" d="M1273.2,661.6 L1290.7,661.3 L1296.8,665.9 L1279.3,666.3z"/>
<path fill="#4332c9" stroke-width="1.6" d="M1255.7,662.0 L1273.2,661.6 L1279.3,666.3 L1261.8,666.7z"/>
<path fill="#4332c9" stroke-width="1.6" d="M1238.2,662.4 L1255.7,662.0 L1261.8,666.7 L1244.3,667.1z"/>
<path fill="#4332c9" stroke-width="1.6" d="M1220.7,662.7 L1238.2,662.4 L1244.3,667.1 L1226.9,667.4z"/>
<path fill="#4332c9" stroke-width="1.6" d="M1203.2,663.1 L1220.7,662.7 L1226.9,667.4 L1209.4,667.8z"/>
<path fill="#4332c9" stroke-width="1.6" d="M1185.7,663.5 L1203.2,663.1 L1209.4,667.8 L1191.9,668.1z"/>
<path fill="#4332c9" stroke-width="1.6" d="M1168.2,663.8 L1185.7,663.5 L1191.9,668.1 L1174.4,668.5z"/>
<path fill="#4332ca" stroke-width="1.6" d="M1150.7,664.1 L1168.2,663.8 L1174.4,668.5 L1156.9,668.8z"/>
<path fill="#4332ca" stroke-width="1.6" d="M1133.2,664.4 L1150.7,664.1 L1156.9,668.8 L1139.4,669.2z"/>
<path fill="#4332ca" stroke-width="1.6" d="M1115.7,664.7 L1133.2,664.4 L1139.4,669.2 L1121.9,669.4z"/>
<path fill="#4332ca" stroke-width="1.6" d="M1098.2,664.9 L1115.7,664.7 L1121.9,669.4 L1104.4,669.7z"/>
<path fill="#4332ca" stroke-width="1.6" d="M1080.7,665.1 L1098.2,664.9 L1104.4,669.7 L1086.9,669.9z"/>
<path fill="#4332ca" stroke-width="1.6" d="M1063.2,665.3 L1080.7,665.1 L1086.9,669.9 L1069.4,670.0z"/>
<path fill="#4332cb" stroke-width="1.6" d="M1045.7,665.3 L1063.2,665.3 L1069.4,670.0 L1051.9,670.1z"/>
<path fill="#4433cb" stroke-width="1.6" d="M1028.2,665.2 L1045.7,665.3 L1051.9,670.1 L1034.4,670.1z"/>
<path fill="#4433cc" stroke-width="1.6" d="M1010.7,664.9 L1028.2,665.2 L1034.4,670.1 L1016.9,669.8z"/>
<path fill="#4433cc" stroke-width="1.6" d="M993.2,664.6 L1010.7,664.9 L1016.9,669.8 L999.4,669.5z"/>
<path fill="#4433cd" stroke-width="1.6" d="M975.7,664.0 L993.2,664.6 L999.4,669.5 L981.9,669.0z"/>
<path fill="#4434ce" stroke-width="1.6" d="M958.2,662.7 L975.7,664.0 L981.9,669.0 L964.4,667.9z"/>
<path fill="#4434ce" stroke-width="1.6" d="M940.7,660.9 L958.2,662.7 L964.4,667.9 L946.9,666.2z"/>
<path fill="#4434ce" stroke-width="1.6" d="M923.3,658.5 L940.7,660.9 L946.9,666.2 L929.4,664.0z"/>
<path fill="#4434d0" stroke-width="1.6" d="M905.8,655.5 L923.3,658.5 L929.4,664.0 L911.9,661.3z"/>
<path fill="#4535d2" stroke-width="1.6" d="M888.3,652.5 L905.8,655.5 L911.9,661.3 L894.4,658.5z"/>
<path fill="#4536d4" stroke-width="1.7" d="M870.8,649.0 L888.3,652.5 L894.4,658.5 L876.9,655.3z"/>
<path fill="#4538d7" stroke-width="1.7" d="M853.3,645.0 L870.8,649.0 L876.9,655.3 L859.4,651.7z"/>
<path fill="#463ada" stroke-width="1.7" d="M835.8,640.4 L853.3,645.0 L859.4,651.7 L842.0,647.4z"/>
<path fill="#463cde" stroke-width="1.8" d="M818.3,635.5 L835.8,640.4 L842.0,647.4 L824.5,643.0z"/>
<path fill="#473fe2" stroke-width="1.8" d="M800.8,629.7 L818.3,635.5 L824.5,643.0 L807.0,637.7z"/>
<path fill="#4743e7" stroke-width="1.9" d="M783.3,623.1 L800.8,629.7 L807.0,637.7 L789.5,631.6z"/>
<path fill="#4848ec" stroke-width="1.9" d="M765.8,616.5 L783.3,623.1 L789.5,631.6 L772.0,625.5z"/>
<path fill="#484cef" stroke-width="1.9" d="M748.3,611.0 L765.8,616.5 L772.0,625.5 L754.5,620.5z"/>
<path fill="#484ff2" stroke-width="1.9" d="M730.8,606.1 L748.3,611.0 L754.5,620.5 L737.0,616.0z"/>
<path fill="#4853f5" stroke-width="1.9" d="M713.3,601.0 L730.8,606.1 L737.0,616.0 L719.5,611.3z"/>
<path fill="#4757f7" stroke-width="1.9" d="M695.8,595.5 L713.3,601.0 L719.5,611.3 L702.0,606.2z"/>
<path fill="#475bfa" stroke-width="1.9" d="M678.3,590.2 L695.8,595.5 L702.0,606.2 L684.5,601.4z"/>
<path fill="#465efb" stroke-width="1.9" d="M660.8,586.4 L678.3,590.2 L684.5,601.4 L667.0,597.9z"/>
<path fill="#4561fc" stroke-width="1.9" d="M643.3,583.2 L660.8,586.4 L667.0,597.9 L649.5,595.0z"/>
<path fill="#4563fd" stroke-width="1.9" d="M625.8,580.3 L643.3,583.2 L649.5,595.0 L632.0,592.3z"/>
<path fill="#4564fd" stroke-width="1.8" d="M608.3,579.8 L625.8,580.3 L632.0,592.3 L614.5,591.9z"/>
<path fill="#4563fd" stroke-width="1.8" d="M590.8,580.9 L608.3,579.8 L614.5,591.9 L597.0,593.0z"/>
<path fill="#4561fc" stroke-width="1.9" d="M573.3,584.4 L590.8,580.9 L597.0,593.0 L579.5,596.3z"/>
<path fill="#465efb" stroke-width="2.0" d="M555.9,589.4 L573.3,584.4 L579.5,596.3 L562.0,600.9z"/>
<path fill="#4759f8" stroke-width="2.1" d="M538.4,596.9 L555.9,589.4 L562.0,600.9 L544.5,607.9z"/>
<path fill="#4853f5" stroke-width="2.1" d="M520.9,606.0 L538.4,596.9 L544.5,607.9 L527.0,616.2z"/>
<path fill="#484cef" stroke-width="2.1" d="M503.4,616.3 L520.9,606.0 L527.0,616.2 L509.5,625.8z"/>
<path fill="#4745e9" stroke-width="2.1" d="M485.9,626.6 L503.4,616.3 L509.5,625.8 L492.0,635.3z"/>
<path fill="#463ee1" stroke-width="2.1" d="M468.4,637.1 L485.9,626.6 L492.0,635.3 L474.5,645.1z"/>
<path fill="#4538d8" stroke-width="1.9" d="M450.9,645.8 L468.4,637.1 L474.5,645.1 L457.1,653.2z"/>
<path fill="#4537d5" stroke-width="1.8" d="M433.4,652.0 L450.9,645.8 L457.1,653.2 L439.6,659.2z"/>
<path fill="#4538d8" stroke-width="1.7" d="M415.9,654.7 L433.4,652.0 L439.6,659.2 L422.1,662.1z"/>
<path fill="#4538d7" stroke-width="1.7" d="M398.4,656.4 L415.9,654.7 L422.1,662.1 L404.6,664.1z"/>
<path fill="#4538d7" stroke-width="1.7" d="M380.9,657.8 L398.4,656.4 L404.6,664.1 L387.1,665.7z"/>
<path fill="#4434cf" stroke-width="1.7" d="M363.4,661.7 L380.9,657.8 L387.1,665.7 L369.6,669.2z"/>
<path fill="#4330c4" stroke-width="1.8" d="M345.9,668.1 L363.4,661.7 L369.6,669.2 L352.1,674.9z"/>
<path fill="#412dbd" stroke-width="1.8" d="M328.4,675.3 L345.9,668.1 L352.1,674.9 L334.6,681.0z"/>
<path fill="#412dbd" stroke-width="1.7" d="M310.9,681.0 L328.4,675.3 L334.6,681.0 L317.1,686.0z"/>
<path fill="#4331c6" stroke-width="1.6" d="M293.4,683.5 L310.9,681.0 L317.1,686.0 L299.6,688.2z"/>
<path fill="#4332c9" stroke-width="1.6" d="M1384.3,664.1 L1401.8,663.7 L1408.0,668.3 L1390.5,668.7z"/>
<path fill="#4332c9" stroke-width="1.6" d="M1366.8,664.4 L1384.3,664.1 L1390.5,668.7 L1373.0,669.1z"/>
<path fill="#4332c9" stroke-width="1.6" d="M1349.3,664.8 L1366.8,664.4 L1373.0,669.1 L1355.5,669.5z"/>
<path fill="#4332c9" stroke-width="1.6" d="M1331.8,665.2 L1349.3,664.8 L1355.5,669.5 L1338.0,669.9z"/>
<path fill="#4332c9" stroke-width="1.6" d="M1314.3,665.6 L1331.8,665.2 L1338.0,669.9 L1320.5,670.2z"/>
<path fill="#4332c9" stroke-width="1.6" d="M1296.8,665.9 L1314.3,665.6 L1320.5,670.2 L1303.0,670.6z"/>
<path fill="#4332c9" stroke-width="1.6" d="M1279.3,666.3 L1296.8,665.9 L1303.0,670.6 L1285.5,671.0z"/>
<path fill="#4332c9" stroke-width="1.6" d="M1261.8,666.7 L1279.3,666.3 L1285.5,671.0 L1268.0,671.4z"/>
<path fill="#4332c9" stroke-width="1.6" d="M1244.3,667.1 L1261.8,666.7 L1268.0,671.4 L1250.5,671.7z"/>
<path fill="#4332c9" stroke-width="1.6" d="M1226.9,667.4 L1244.3,667.1 L1250.5,671.7 L1233.0,672.1z"/>
<path fill="#4332c9" stroke-width="1.6" d="M1209.4,667.8 L1226.9,667.4 L1233.0,672.1 L1215.5,672.5z"/>
<path fill="#4332c9" stroke-width="1.6" d="M1191.9,668.1 L1209.4,667.8 L1215.5,672.5 L1198.0,672.8z"/>
<path fill="#4332c9" stroke-width="1.6" d="M1174.4,668.5 L1191.9,668.1 L1198.0,672.8 L1180.5,673.2z"/>
<path fill="#4332c9" stroke-width="1.6" d="M1156.9,668.8 L1174.4,668.5 L1180.5,673.2 L1163.0,673.5z"/>
<path fill="#4332ca" stroke-width="1.6" d="M1139.4,669.2 L1156.9,668.8 L1163.0,673.5 L1145.5,673.8z"/>
<path fill="#4332ca" stroke-width="1.6" d="M1121.9,669.4 L1139.4,669.2 L1145.5,673.8 L1128.1,674.1z"/>
<path fill="#4332ca" stroke-width="1.6" d="M1104.4,669.7 L1121.9,669.4 L1128.1,674.1 L1110.6,674.3z"/>
<path fill="#4332ca" stroke-width="1.6" d="M1086.9,669.9 L1104.4,669.7 L1110.6,674.3 L1093.1,674.5z"/>
<path fill="#4332ca" stroke-width="1.6" d="M1069.4,670.0 L1086.9,669.9 L1093.1,674.5 L1075.6,674.7z"/>
<path fill="#4332ca" stroke-width="1.6" d="M1051.9,670.1 L1069.4,670.0 L1075.6,674.7 L1058.1,674.8z"/>
<path fill="#4432cb" stroke-width="1.6" d="M1034.4,670.1 L1051.9,670.1 L1058.1,674.8 L1040.6,674.7z"/>
<path fill="#4433cb" stroke-width="1.6" d="M1016.9,669.8 L1034.4,670.1 L1040.6,674.7 L1023.1,674.5z"/>
<path fill="#4433cc" stroke-width="1.6" d="M999.4,669.5 L1016.9,669.8 L1023.1,674.5 L1005.6,674.2z"/>
<path fill="#4433cd" stroke-width="1.6" d="M981.9,669.0 L999.4,669.5 L1005.6,674.2 L988.1,673.7z"/>
<path fill="#4434ce" stroke-width="1.6" d="M964.4,667.9 L981.9,669.0 L988.1,673.7 L970.6,672.5z"/>
<path fill="#4434cf" stroke-width="1.6" d="M946.9,666.2 L964.4,667.9 L970.6,672.5 L953.1,670.9z"/>
<path fill="#4434d0" stroke-width="1.6" d="M929.4,664.0 L946.9,666.2 L953.1,670.9 L935.6,668.7z"/>
<path fill="#4435d1" stroke-width="1.6" d="M911.9,661.3 L929.4,664.0 L935.6,668.7 L918.1,665.9z"/>
<path fill="#4536d4" stroke-width="1.6" d="M894.4,658.5 L911.9,661.3 L918.1,665.9 L900.6,663.2z"/>
<path fill="#4537d6" stroke-width="1.6" d="M876.9,655.3 L894.4,658.5 L900.6,663.2 L883.1,660.0z"/>
<path fill="#4538d8" stroke-width="1.6" d="M859.4,651.7 L876.9,655.3 L883.1,660.0 L865.6,656.4z"/>
<path fill="#463adb" stroke-width="1.6" d="M842.0,647.4 L859.4,651.7 L865.6,656.4 L848.1,652.1z"/>
<path fill="#463cdf" stroke-width="1.6" d="M824.5,643.0 L842.0,647.4 L848.1,652.1 L830.6,647.7z"/>
<path fill="#473fe2" stroke-width="1.7" d="M807.0,637.7 L824.5,643.0 L830.6,647.7 L813.1,642.3z"/>
<path fill="#4742e6" stroke-width="1.7" d="M789.5,631.6 L807.0,637.7 L813.1,642.3 L795.6,636.3z"/>
<path fill="#4746ea" stroke-width="1.7" d="M772.0,625.5 L789.5,631.6 L795.6,636.3 L778.1,630.2z"/>
<path fill="#4849ed" stroke-width="1.7" d="M754.5,620.5 L772.0,625.5 L778.1,630.2 L760.7,625.2z"/>
<path fill="#484cef" stroke-width="1.6" d="M737.0,616.0 L754.5,620.5 L760.7,625.2 L743.2,620.7z"/>
<path fill="#484ff2" stroke-width="1.7" d="M719.5,611.3 L737.0,616.0 L743.2,620.7 L725.7,616.0z"/>
<path fill="#4853f5" stroke-width="1.7" d="M702.0,606.2 L719.5,611.3 L725.7,616.0 L708.2,610.9z"/>
<path fill="#4757f7" stroke-width="1.7" d="M684.5,601.4 L702.0,606.2 L708.2,610.9 L690.7,606.1z"/>
<path fill="#475af9" stroke-width="1.6" d="M667.0,597.9 L684.5,601.4 L690.7,606.1 L673.2,602.6z"/>
<path fill="#475cfa" stroke-width="1.6" d="M649.5,595.0 L667.0,597.9 L673.2,602.6 L655.7,599.6z"/>
<path fill="#465efb" stroke-width="1.6" d="M632.0,592.3 L649.5,595.0 L655.7,599.6 L638.2,597.0z"/>
<path fill="#465ffb" stroke-width="1.6" d="M614.5,591.9 L632.0,592.3 L638.2,597.0 L620.7,596.6z"/>
<path fill="#465efb" stroke-width="1.6" d="M597.0,593.0 L614.5,591.9 L620.7,596.6 L603.2,597.6z"/>
<path fill="#475cfa" stroke-width="1.6" d="M579.5,596.3 L597.0,593.0 L603.2,597.6 L585.7,600.9z"/>
<path fill="#4759f8" stroke-width="1.7" d="M562.0,600.9 L579.5,596.3 L585.7,600.9 L568.2,605.6z"/>
<path fill="#4855f6" stroke-width="1.8" d="M544.5,607.9 L562.0,600.9 L568.2,605.6 L550.7,612.5z"/>
<path fill="#484ff2" stroke-width="1.8" d="M527.0,616.2 L544.5,607.9 L550.7,612.5 L533.2,620.9z"/>
<path fill="#4848ec" stroke-width="1.9" d="M509.5,625.8 L527.0,616.2 L533.2,620.9 L515.7,630.5z"/>
<path fill="#4742e7" stroke-width="1.9" d="M492.0,635.3 L509.5,625.8 L515.7,630.5 L498.2,640.0z"/>
<path fill="#463cdf" stroke-width="1.9" d="M474.5,645.1 L492.0,635.3 L498.2,640.0 L480.7,649.8z"/>
<path fill="#4539d9" stroke-width="1.8" d="M457.1,653.2 L474.5,645.1 L480.7,649.8 L463.2,657.9z"/>
<path fill="#4537d5" stroke-width="1.8" d="M439.6,659.2 L457.1,653.2 L463.2,657.9 L445.7,664.8z"/>
<path fill="#4537d6" stroke-width="1.7" d="M422.1,662.1 L439.6,659.2 L445.7,664.8 L428.2,668.8z"/>
<path fill="#4536d4" stroke-width="1.7" d="M404.6,664.1 L422.1,662.1 L428.2,668.8 L410.7,672.0z"/>
<path fill="#4536d2" stroke-width="1.7" d="M387.1,665.7 L404.6,664.1 L410.7,672.0 L393.2,674.2z"/>
<path fill="#4433cb" stroke-width="1.8" d="M369.6,669.2 L387.1,665.7 L393.2,674.2 L375.8,677.5z"/>
<path fill="#422fc2" stroke-width="1.8" d="M352.1,674.9 L369.6,669.2 L375.8,677.5 L358.3,682.3z"/>
<path fill="#412dbd" stroke-width="1.8" d="M334.6,681.0 L352.1,674.9 L358.3,682.3 L340.8,687.2z"/>
<path fill="#422ebf" stroke-width="1.7" d="M317.1,686.0 L334.6,681.0 L340.8,687.2 L323.3,691.0z"/>
<path fill="#4331c7" stroke-width="1.6" d="M299.6,688.2 L317.1,686.0 L323.3,691.0 L305.8,692.8z"/>
<path fill="#4332c9" stroke-width="1.6" d="M1390.5,668.7 L1408.0,668.3 L1414.2,673.0 L1396.7,673.4z"/>
<path fill="#4332c9" stroke-width="1.6" d="M1373.0,669.1 L1390.5,668.7 L1396.7,673.4 L1379.2,673.8z"/>
<path fill="#4332c9" stroke-width="1.6" d="M1355.5,669.5 L1373.0,669.1 L1379.2,673.8 L1361.7,674.1z"/>
<path fill="#4332c9" stroke-width="1.6" d="M1338.0,669.9 L1355.5,669.5 L1361.7,674.1 L1344.2,674.5z"/>
<path fill="#4332c9" stroke-width="1.6" d="M1320.5,670.2 L1338.0,669.9 L1344.2,674.5 L1326.7,674.9z"/>
<path fill="#4332c9" stroke-width="1.6" d="M1303.0,670.6 L1320.5,670.2 L1326.7,674.9 L1309.2,675.3z"/>
<path fill="#4332c9" stroke-width="1.6" d="M1285.5,671.0 L1303.0,670.6 L1309.2,675.3 L1291.7,675.6z"/>
<path fill="#4332c9" stroke-width="1.6" d="M1268.0,671.4 L1285.5,671.0 L1291.7,675.6 L1274.2,676.0z"/>
<path fill="#4332c9" stroke-width="1.6" d="M1250.5,671.7 L1268.0,671.4 L1274.2,676.0 L1256.7,676.4z"/>
<path fill="#4332c9" stroke-width="1.6" d="M1233.0,672.1 L1250.5,671.7 L1256.7,676.4 L1239.2,676.7z"/>
<path fill="#4332c9" stroke-width="1.6" d="M1215.5,672.5 L1233.0,672.1 L1239.2,676.7 L1221.7,677.1z"/>
<path fill="#4332c9" stroke-width="1.6" d="M1198.0,672.8 L1215.5,672.5 L1221.7,677.1 L1204.2,677.4z"/>
<path fill="#4332c9" stroke-width="1.6" d="M1180.5,673.2 L1198.0,672.8 L1204.2,677.4 L1186.7,677.8z"/>
<path fill="#4332c9" stroke-width="1.6" d="M1163.0,673.5 L1180.5,673.2 L1186.7,677.8 L1169.2,678.1z"/>
<path fill="#4332ca" stroke-width="1.6" d="M1145.5,673.8 L1163.0,673.5 L1169.2,678.1 L1151.7,678.4z"/>
<path fill="#4332ca" stroke-width="1.6" d="M1128.1,674.1 L1145.5,673.8 L1151.7,678.4 L1134.2,678.7z"/>
<path fill="#4332ca" stroke-width="1.6" d="M1110.6,674.3 L1128.1,674.1 L1134.2,678.7 L1116.7,678.9z"/>
<path fill="#4332ca" stroke-width="1.6" d="M1093.1,674.5 L1110.6,674.3 L1116.7,678.9 L1099.2,679.1z"/>
<path fill="#4332ca" stroke-width="1.6" d="M1075.6,674.7 L1093.1,674.5 L1099.2,679.1 L1081.7,679.2z"/>
<path fill="#4332ca" stroke-width="1.6" d="M1058.1,674.8 L1075.6,674.7 L1081.7,679.2 L1064.2,679.2z"/>
<path fill="#4432cb" stroke-width="1.6" d="M1040.6,674.7 L1058.1,674.8 L1064.2,679.2 L1046.8,679.1z"/>
<path fill="#4433cb" stroke-width="1.6" d="M1023.1,674.5 L1040.6,674.7 L1046.8,679.1 L1029.3,678.7z"/>
<path fill="#4433cc" stroke-width="1.6" d="M1005.6,674.2 L1023.1,674.5 L1029.3,678.7 L1011.8,678.3z"/>
<path fill="#4433cd" stroke-width="1.6" d="M988.1,673.7 L1005.6,674.2 L1011.8,678.3 L994.3,677.6z"/>
<path fill="#4434ce" stroke-width="1.6" d="M970.6,672.5 L988.1,673.7 L994.3,677.6 L976.8,676.3z"/>
<path fill="#4434d0" stroke-width="1.6" d="M953.1,670.9 L970.6,672.5 L976.8,676.3 L959.3,674.2z"/>
<path fill="#4435d2" stroke-width="1.6" d="M935.6,668.7 L953.1,670.9 L959.3,674.2 L941.8,671.6z"/>
<path fill="#4536d4" stroke-width="1.6" d="M918.1,665.9 L935.6,668.7 L941.8,671.6 L924.3,668.4z"/>
<path fill="#4537d7" stroke-width="1.6" d="M900.6,663.2 L918.1,665.9 L924.3,668.4 L906.8,665.1z"/>
<path fill="#4539d9" stroke-width="1.6" d="M883.1,660.0 L900.6,663.2 L906.8,665.1 L889.3,661.3z"/>
<path fill="#463adc" stroke-width="1.6" d="M865.6,656.4 L883.1,660.0 L889.3,661.3 L871.8,657.0z"/>
<path fill="#463cdf" stroke-width="1.6" d="M848.1,652.1 L865.6,656.4 L871.8,657.0 L854.3,652.0z"/>
<path fill="#473ee2" stroke-width="1.6" d="M830.6,647.7 L848.1,652.1 L854.3,652.0 L836.8,646.7z"/>
<path fill="#4740e4" stroke-width="1.6" d="M813.1,642.3 L830.6,647.7 L836.8,646.7 L819.3,640.5z"/>
<path fill="#4743e7" stroke-width="1.6" d="M795.6,636.3 L813.1,642.3 L819.3,640.5 L801.8,633.3z"/>
<path fill="#4746ea" stroke-width="1.7" d="M778.1,630.2 L795.6,636.3 L801.8,633.3 L784.3,626.1z"/>
<path fill="#4849ed" stroke-width="1.7" d="M760.7,625.2 L778.1,630.2 L784.3,626.1 L766.8,620.2z"/>
<path fill="#484cef" stroke-width="1.7" d="M743.2,620.7 L760.7,625.2 L766.8,620.2 L749.3,614.9z"/>
<path fill="#484ff2" stroke-width="1.7" d="M725.7,616.0 L743.2,620.7 L749.3,614.9 L731.8,609.3z"/>
<path fill="#4853f5" stroke-width="1.8" d="M708.2,610.9 L725.7,616.0 L731.8,609.3 L714.3,603.4z"/>
<path fill="#4757f7" stroke-width="1.8" d="M690.7,606.1 L708.2,610.9 L714.3,603.4 L696.8,597.7z"/>
<path fill="#475af9" stroke-width="1.8" d="M673.2,602.6 L690.7,606.1 L696.8,597.7 L679.3,593.5z"/>
<path fill="#475cfa" stroke-width="1.8" d="M655.7,599.6 L673.2,602.6 L679.3,593.5 L661.9,590.0z"/>
<path fill="#465efb" stroke-width="1.8" d="M638.2,597.0 L655.7,599.6 L661.9,590.0 L644.4,586.9z"/>
<path fill="#465ffb" stroke-width="1.7" d="M620.7,596.6 L638.2,597.0 L644.4,586.9 L626.9,586.3z"/>
<path fill="#465efb" stroke-width="1.7" d="M603.2,597.6 L620.7,596.6 L626.9,586.3 L609.4,587.5z"/>
<path fill="#475cfa" stroke-width="1.8" d="M585.7,600.9 L603.2,597.6 L609.4,587.5 L591.9,591.3z"/>
<path fill="#4759f8" stroke-width="1.9" d="M568.2,605.6 L585.7,600.9 L591.9,591.3 L574.4,596.6z"/>
<path fill="#4855f6" stroke-width="1.9" d="M550.7,612.5 L568.2,605.6 L574.4,596.6 L556.9,604.7z"/>
<path fill="#484ff2" stroke-width="2.0" d="M533.2,620.9 L550.7,612.5 L556.9,604.7 L539.4,614.4z"/>
<path fill="#4848ec" stroke-width="2.0" d="M515.7,630.5 L533.2,620.9 L539.4,614.4 L521.9,625.5z"/>
<path fill="#4742e6" stroke-width="1.9" d="M498.2,640.0 L515.7,630.5 L521.9,625.5 L504.4,636.5z"/>
<path fill="#463de0" stroke-width="1.8" d="M480.7,649.8 L498.2,640.0 L504.4,636.5 L486.9,647.9z"/>
<path fill="#463bdc" stroke-width="1.7" d="M463.2,657.9 L480.7,649.8 L486.9,647.9 L469.4,657.4z"/>
<path fill="#4539d9" stroke-width="1.6" d="M445.7,664.8 L463.2,657.9 L469.4,657.4 L451.9,665.7z"/>
<path fill="#4639d9" stroke-width="1.6" d="M428.2,668.8 L445.7,664.8 L451.9,665.7 L434.4,671.1z"/>
<path fill="#4538d7" stroke-width="1.6" d="M410.7,672.0 L428.2,668.8 L434.4,671.1 L416.9,675.5z"/>
<path fill="#4537d6" stroke-width="1.6" d="M393.2,674.2 L410.7,672.0 L416.9,675.5 L399.4,678.3z"/>
<path fill="#4435d1" stroke-width="1.6" d="M375.8,677.5 L393.2,674.2 L399.4,678.3 L381.9,682.0z"/>
<path fill="#4332c9" stroke-width="1.7" d="M358.3,682.3 L375.8,677.5 L381.9,682.0 L364.4,686.9z"/>
<path fill="#4230c3" stroke-width="1.7" d="M340.8,687.2 L358.3,682.3 L364.4,686.9 L346.9,691.8z"/>
<path fill="#4230c3" stroke-width="1.6" d="M323.3,691.0 L340.8,687.2 L346.9,691.8 L329.4,695.7z"/>
<path fill="#4331c8" stroke-width="1.6" d="M305.8,692.8 L323.3,691.0 L329.4,695.7 L311.9,697.5z"/>
<path fill="#4332c9" stroke-width="1.6" d="M1396.7,673.4 L1414.2,673.0 L1420.3,677.7 L1402.8,678.0z"/>
<path fill="#4332c9" stroke-width="1.6" d="M1379.2,673.8 L1396.7,673.4 L1402.8,678.0 L1385.3,678.4z"/>
<path fill="#4332c9" stroke-width="1.6" d="M1361.7,674.1 L1379.2,673.8 L1385.3,678.4 L1367.8,678.8z"/>
<path fill="#4332c9" stroke-width="1.6" d="M1344.2,674.5 L1361.7,674.1 L1367.8,678.8 L1350.3,679.2z"/>
<path fill="#4332c9" stroke-width="1.6" d="M1326.7,674.9 L1344.2,674.5 L1350.3,679.2 L1332.9,679.5z"/>
<path fill="#4332c9" stroke-width="1.6" d="M1309.2,675.3 L1326.7,674.9 L1332.9,679.5 L1315.4,679.9z"/>
<path fill="#4332c9" stroke-width="1.6" d="M1291.7,675.6 L1309.2,675.3 L1315.4,679.9 L1297.9,680.3z"/>
<path fill="#4332c9" stroke-width="1.6" d="M1274.2,676.0 L1291.7,675.6 L1297.9,680.3 L1280.4,680.6z"/>
<path fill="#4332c9" stroke-width="1.6" d="M1256.7,676.4 L1274.2,676.0 L1280.4,680.6 L1262.9,681.0z"/>
<path fill="#4332c9" stroke-width="1.6" d="M1239.2,676.7 L1256.7,676.4 L1262.9,681.0 L1245.4,681.3z"/>
<path fill="#4332c9" stroke-width="1.6" d="M1221.7,677.1 L1239.2,676.7 L1245.4,681.3 L1227.9,681.7z"/>
<path fill="#4332c9" stroke-width="1.6" d="M1204.2,677.4 L1221.7,677.1 L1227.9,681.7 L1210.4,682.0z"/>
<path fill="#4332c9" stroke-width="1.6" d="M1186.7,677.8 L1204.2,677.4 L1210.4,682.0 L1192.9,682.3z"/>
<path fill="#4332ca" stroke-width="1.6" d="M1169.2,678.1 L1186.7,677.8 L1192.9,682.3 L1175.4,682.7z"/>
<path fill="#4332ca" stroke-width="1.6" d="M1151.7,678.4 L1169.2,678.1 L1175.4,682.7 L1157.9,682.9z"/>
<path fill="#4332ca" stroke-width="1.6" d="M1134.2,678.7 L1151.7,678.4 L1157.9,682.9 L1140.4,683.2z"/>
<path fill="#4332ca" stroke-width="1.6" d="M1116.7,678.9 L1134.2,678.7 L1140.4,683.2 L1122.9,683.3z"/>
<path fill="#4332ca" stroke-width="1.6" d="M1099.2,679.1 L1116.7,678.9 L1122.9,683.3 L1105.4,683.4z"/>
<path fill="#4332ca" stroke-width="1.6" d="M1081.7,679.2 L1099.2,679.1 L1105.4,683.4 L1087.9,683.5z"/>
<path fill="#4332cb" stroke-width="1.6" d="M1064.2,679.2 L1081.7,679.2 L1087.9,683.5 L1070.4,683.4z"/>
<path fill="#4433cb" stroke-width="1.6" d="M1046.8,679.1 L1064.2,679.2 L1070.4,683.4 L1052.9,683.1z"/>
<path fill="#4433cc" stroke-width="1.6" d="M1029.3,678.7 L1046.8,679.1 L1052.9,683.1 L1035.4,682.6z"/>
<path fill="#4433cc" stroke-width="1.6" d="M1011.8,678.3 L1029.3,678.7 L1035.4,682.6 L1017.9,681.9z"/>
<path fill="#4433cd" stroke-width="1.6" d="M994.3,677.6 L1011.8,678.3 L1017.9,681.9 L1000.4,680.9z"/>
<path fill="#4434cf" stroke-width="1.6" d="M976.8,676.3 L994.3,677.6 L1000.4,680.9 L982.9,679.0z"/>
<path fill="#4435d1" stroke-width="1.6" d="M959.3,674.2 L976.8,676.3 L982.9,679.0 L965.4,676.4z"/>
<path fill="#4536d3" stroke-width="1.6" d="M941.8,671.6 L959.3,674.2 L965.4,676.4 L948.0,672.9z"/>
<path fill="#4537d6" stroke-width="1.6" d="M924.3,668.4 L941.8,671.6 L948.0,672.9 L930.5,668.6z"/>
<path fill="#4539d8" stroke-width="1.6" d="M906.8,665.1 L924.3,668.4 L930.5,668.6 L913.0,664.3z"/>
<path fill="#463adb" stroke-width="1.6" d="M889.3,661.3 L906.8,665.1 L913.0,664.3 L895.5,659.3z"/>
<path fill="#463bdc" stroke-width="1.6" d="M871.8,657.0 L889.3,661.3 L895.5,659.3 L878.0,653.6z"/>
<path fill="#463cde" stroke-width="1.7" d="M854.3,652.0 L871.8,657.0 L878.0,653.6 L860.5,647.1z"/>
<path fill="#463ee1" stroke-width="1.8" d="M836.8,646.7 L854.3,652.0 L860.5,647.1 L843.0,640.2z"/>
<path fill="#4740e4" stroke-width="1.9" d="M819.3,640.5 L836.8,646.7 L843.0,640.2 L825.5,632.0z"/>
<path fill="#4745e9" stroke-width="2.0" d="M801.8,633.3 L819.3,640.5 L825.5,632.0 L808.0,622.7z"/>
<path fill="#484bee" stroke-width="2.1" d="M784.3,626.1 L801.8,633.3 L808.0,622.7 L790.5,613.3z"/>
<path fill="#484ff2" stroke-width="2.1" d="M766.8,620.2 L784.3,626.1 L790.5,613.3 L773.0,605.7z"/>
<path fill="#4853f5" stroke-width="2.2" d="M749.3,614.9 L766.8,620.2 L773.0,605.7 L755.5,598.7z"/>
<path fill="#4757f7" stroke-width="2.3" d="M731.8,609.3 L749.3,614.9 L755.5,598.7 L738.0,591.5z"/>
<path fill="#475cfa" stroke-width="2.4" d="M714.3,603.4 L731.8,609.3 L738.0,591.5 L720.5,583.7z"/>
<path fill="#4660fb" stroke-width="2.4" d="M696.8,597.7 L714.3,603.4 L720.5,583.7 L703.0,576.3z"/>
<path fill="#4563fd" stroke-width="2.4" d="M679.3,593.5 L696.8,597.7 L703.0,576.3 L685.5,570.8z"/>
<path fill="#4466fd" stroke-width="2.4" d="M661.9,590.0 L679.3,593.5 L685.5,570.8 L668.0,566.2z"/>
<path fill="#4369fe" stroke-width="2.5" d="M644.4,586.9 L661.9,590.0 L668.0,566.2 L650.5,562.0z"/>
<path fill="#4269fe" stroke-width="2.4" d="M626.9,586.3 L644.4,586.9 L650.5,562.0 L633.0,561.2z"/>
<path fill="#4269fe" stroke-width="2.4" d="M609.4,587.5 L626.9,586.3 L633.0,561.2 L615.5,562.6z"/>
<path fill="#4466fd" stroke-width="2.5" d="M591.9,591.3 L609.4,587.5 L615.5,562.6 L598.0,567.4z"/>
<path fill="#4563fc" stroke-width="2.5" d="M574.4,596.6 L591.9,591.3 L598.0,567.4 L580.6,574.1z"/>
<path fill="#465dfb" stroke-width="2.6" d="M556.9,604.7 L574.4,596.6 L580.6,574.1 L563.1,584.4z"/>
<path fill="#4757f7" stroke-width="2.6" d="M539.4,614.4 L556.9,604.7 L563.1,584.4 L545.6,596.7z"/>
<path fill="#484ff2" stroke-width="2.5" d="M521.9,625.5 L539.4,614.4 L545.6,596.7 L528.1,610.9z"/>
<path fill="#4848ec" stroke-width="2.4" d="M504.4,636.5 L521.9,625.5 L528.1,610.9 L510.6,625.0z"/>
<path fill="#4740e4" stroke-width="2.3" d="M486.9,647.9 L504.4,636.5 L510.6,625.0 L493.1,639.4z"/>
<path fill="#463adb" stroke-width="2.0" d="M469.4,657.4 L486.9,647.9 L493.1,639.4 L475.6,651.6z"/>
<path fill="#4536d4" stroke-width="1.9" d="M451.9,665.7 L469.4,657.4 L475.6,651.6 L458.1,662.0z"/>
<path fill="#4538d7" stroke-width="1.6" d="M434.4,671.1 L451.9,665.7 L458.1,662.0 L440.6,668.6z"/>
<path fill="#4538d7" stroke-width="1.6" d="M416.9,675.5 L434.4,671.1 L440.6,668.6 L423.1,673.8z"/>
<path fill="#4538d7" stroke-width="1.6" d="M399.4,678.3 L416.9,675.5 L423.1,673.8 L405.6,677.2z"/>
<path fill="#4537d5" stroke-width="1.6" d="M381.9,682.0 L399.4,678.3 L405.6,677.2 L388.1,681.9z"/>
<path fill="#4435d0" stroke-width="1.6" d="M364.4,686.9 L381.9,682.0 L388.1,681.9 L370.6,688.3z"/>
<path fill="#4331c8" stroke-width="1.6" d="M346.9,691.8 L364.4,686.9 L370.6,688.3 L353.1,694.8z"/>
<path fill="#4330c4" stroke-width="1.6" d="M329.4,695.7 L346.9,691.8 L353.1,694.8 L335.6,699.8z"/>
<path fill="#4331c8" stroke-width="1.6" d="M311.9,697.5 L329.4,695.7 L335.6,699.8 L318.1,702.1z"/>
<path fill="#4332c9" stroke-width="1.6" d="M1402.8,678.0 L1420.3,677.7 L1426.5,682.3 L1409.0,682.7z"/>
<path fill="#4332c9" stroke-width="1.6" d="M1385.3,678.4 L1402.8,678.0 L1409.0,682.7 L1391.5,683.0z"/>
<path fill="#4332c9" stroke-width="1.6" d="M1367.8,678.8 L1385.3,678.4 L1391.5,683.0 L1374.0,683.4z"/>
<path fill="#4332c9" stroke-width="1.6" d="M1350.3,679.2 L1367.8,678.8 L1374.0,683.4 L1356.5,683.8z"/>
<path fill="#4332c9" stroke-width="1.6" d="M1332.9,679.5 L1350.3,679.2 L1356.5,683.8 L1339.0,684.1z"/>
<path fill="#4332c9" stroke-width="1.6" d="M1315.4,679.9 L1332.9,679.5 L1339.0,684.1 L1321.5,684.5z"/>
<path fill="#4332c9" stroke-width="1.6" d="M1297.9,680.3 L1315.4,679.9 L1321.5,684.5 L1304.0,684.8z"/>
<path fill="#4332c9" stroke-width="1.6" d="M1280.4,680.6 L1297.9,680.3 L1304.0,684.8 L1286.5,685.2z"/>
<path fill="#4332c9" stroke-width="1.6" d="M1262.9,681.0 L1280.4,680.6 L1286.5,685.2 L1269.0,685.5z"/>
<path fill="#4332c9" stroke-width="1.6" d="M1245.4,681.3 L1262.9,681.0 L1269.0,685.5 L1251.6,685.9z"/>
<path fill="#4332c9" stroke-width="1.6" d="M1227.9,681.7 L1245.4,681.3 L1251.6,685.9 L1234.1,686.2z"/>
<path fill="#4332ca" stroke-width="1.6" d="M1210.4,682.0 L1227.9,681.7 L1234.1,686.2 L1216.6,686.5z"/>
<path fill="#4332ca" stroke-width="1.6" d="M1192.9,682.3 L1210.4,682.0 L1216.6,686.5 L1199.1,686.8z"/>
<path fill="#4332ca" stroke-width="1.6" d="M1175.4,682.7 L1192.9,682.3 L1199.1,686.8 L1181.6,687.1z"/>
<path fill="#4332ca" stroke-width="1.6" d="M1157.9,682.9 L1175.4,682.7 L1181.6,687.1 L1164.1,687.3z"/>
<path fill="#4332ca" stroke-width="1.6" d="M1140.4,683.2 L1157.9,682.9 L1164.1,687.3 L1146.6,687.5z"/>
<path fill="#4332ca" stroke-width="1.6" d="M1122.9,683.3 L1140.4,683.2 L1146.6,687.5 L1129.1,687.5z"/>
<path fill="#4332ca" stroke-width="1.6" d="M1105.4,683.4 L1122.9,683.3 L1129.1,687.5 L1111.6,687.5z"/>
<path fill="#4332cb" stroke-width="1.6" d="M1087.9,683.5 L1105.4,683.4 L1111.6,687.5 L1094.1,687.4z"/>
<path fill="#4433cb" stroke-width="1.6" d="M1070.4,683.4 L1087.9,683.5 L1094.1,687.4 L1076.6,687.1z"/>
<path fill="#4433cc" stroke-width="1.6" d="M1052.9,683.1 L1070.4,683.4 L1076.6,687.1 L1059.1,686.5z"/>
<path fill="#4433cc" stroke-width="1.6" d="M1035.4,682.6 L1052.9,683.1 L1059.1,686.5 L1041.6,685.6z"/>
<path fill="#4433cd" stroke-width="1.6" d="M1017.9,681.9 L1035.4,682.6 L1041.6,685.6 L1024.1,684.4z"/>
<path fill="#4434ce" stroke-width="1.6" d="M1000.4,680.9 L1017.9,681.9 L1024.1,684.4 L1006.6,682.9z"/>
<path fill="#4435d0" stroke-width="1.6" d="M982.9,679.0 L1000.4,680.9 L1006.6,682.9 L989.1,680.0z"/>
<path fill="#4536d3" stroke-width="1.6" d="M965.4,676.4 L982.9,679.0 L989.1,680.0 L971.6,675.9z"/>
<path fill="#4537d6" stroke-width="1.6" d="M948.0,672.9 L965.4,676.4 L971.6,675.9 L954.1,670.7z"/>
<path fill="#4536d5" stroke-width="1.6" d="M930.5,668.6 L948.0,672.9 L954.1,670.7 L936.6,664.3z"/>
<path fill="#4537d5" stroke-width="1.7" d="M913.0,664.3 L930.5,668.6 L936.6,664.3 L919.1,657.9z"/>
<path fill="#4537d6" stroke-width="1.8" d="M895.5,659.3 L913.0,664.3 L919.1,657.9 L901.6,650.5z"/>
<path fill="#4639da" stroke-width="2.0" d="M878.0,653.6 L895.5,659.3 L901.6,650.5 L884.1,642.2z"/>
<path fill="#463ee1" stroke-width="2.2" d="M860.5,647.1 L878.0,653.6 L884.1,642.2 L866.7,632.5z"/>
<path fill="#4743e7" stroke-width="2.3" d="M843.0,640.2 L860.5,647.1 L866.7,632.5 L849.2,622.5z"/>
<path fill="#4849ed" stroke-width="2.6" d="M825.5,632.0 L843.0,640.2 L849.2,622.5 L831.7,610.5z"/>
<path fill="#4850f3" stroke-width="2.7" d="M808.0,622.7 L825.5,632.0 L831.7,610.5 L814.2,596.9z"/>
<path fill="#4757f7" stroke-width="2.7" d="M790.5,613.3 L808.0,622.7 L814.2,596.9 L796.7,583.1z"/>
<path fill="#475dfa" stroke-width="2.7" d="M773.0,605.7 L790.5,613.3 L796.7,583.1 L779.2,571.9z"/>
<path fill="#4562fc" stroke-width="2.7" d="M755.5,598.7 L773.0,605.7 L779.2,571.9 L761.7,561.7z"/>
<path fill="#4367fd" stroke-width="2.7" d="M738.0,591.5 L755.5,598.7 L761.7,561.7 L744.2,551.0z"/>
<path fill="#3f6dfe" stroke-width="2.7" d="M720.5,583.7 L738.0,591.5 L744.2,551.0 L726.7,539.6z"/>
<path fill="#3a73fe" stroke-width="2.7" d="M703.0,576.3 L720.5,583.7 L726.7,539.6 L709.2,528.7z"/>
<path fill="#3678fd" stroke-width="2.7" d="M685.5,570.8 L703.0,576.3 L709.2,528.7 L691.7,520.6z"/>
<path fill="#327cfc" stroke-width="2.7" d="M668.0,566.2 L685.5,570.8 L691.7,520.6 L674.2,513.8z"/>
<path fill="#307ffb" stroke-width="2.7" d="M650.5,562.0 L668.0,566.2 L674.2,513.8 L656.7,507.6z"/>
<path fill="#3080fa" stroke-width="2.7" d="M633.0,561.2 L650.5,562.0 L656.7,507.6 L639.2,506.3z"/>
<path fill="#307ffb" stroke-width="2.7" d="M615.5,562.6 L633.0,561.2 L639.2,506.3 L621.7,508.1z"/>
<path fill="#327cfc" stroke-width="2.7" d="M598.0,567.4 L615.5,562.6 L621.7,508.1 L604.2,514.8z"/>
<path fill="#3677fe" stroke-width="2.7" d="M580.6,574.1 L598.0,567.4 L604.2,514.8 L586.7,524.4z"/>
<path fill="#3e70ff" stroke-width="2.7" d="M563.1,584.4 L580.6,574.1 L586.7,524.4 L569.2,539.0z"/>
<path fill="#4367fd" stroke-width="2.7" d="M545.6,596.7 L563.1,584.4 L569.2,539.0 L551.7,556.7z"/>
<path fill="#475dfa" stroke-width="2.7" d="M528.1,610.9 L545.6,596.7 L551.7,556.7 L534.2,577.0z"/>
<path fill="#4853f5" stroke-width="2.7" d="M510.6,625.0 L528.1,610.9 L534.2,577.0 L516.7,597.2z"/>
<path fill="#4849ed" stroke-width="2.7" d="M493.1,639.4 L510.6,625.0 L516.7,597.2 L499.2,617.9z"/>
<path fill="#4741e5" stroke-width="2.7" d="M475.6,651.6 L493.1,639.4 L499.2,617.9 L481.8,635.3z"/>
<path fill="#463adb" stroke-width="2.4" d="M458.1,662.0 L475.6,651.6 L481.8,635.3 L464.3,650.7z"/>
<path fill="#4536d4" stroke-width="2.0" d="M440.6,668.6 L458.1,662.0 L464.3,650.7 L446.8,660.7z"/>
<path fill="#4536d3" stroke-width="1.8" d="M423.1,673.8 L440.6,668.6 L446.8,660.7 L429.3,668.7z"/>
<path fill="#4538d7" stroke-width="1.6" d="M405.6,677.2 L423.1,673.8 L429.3,668.7 L411.8,673.8z"/>
<path fill="#4536d4" stroke-width="1.6" d="M388.1,681.9 L405.6,677.2 L411.8,673.8 L394.3,680.3z"/>
<path fill="#4434ce" stroke-width="1.6" d="M370.6,688.3 L388.1,681.9 L394.3,680.3 L376.8,688.8z"/>
<path fill="#4331c7" stroke-width="1.6" d="M353.1,694.8 L370.6,688.3 L376.8,688.8 L359.3,697.3z"/>
<path fill="#422fc2" stroke-width="1.6" d="M335.6,699.8 L353.1,694.8 L359.3,697.3 L341.8,703.8z"/>
<path fill="#4331c7" stroke-width="1.6" d="M318.1,702.1 L335.6,699.8 L341.8,703.8 L324.3,706.6z"/>
<path fill="#4332c9" stroke-width="1.6" d="M1409.0,682.7 L1426.5,682.3 L1432.7,686.9 L1415.2,687.2z"/>
<path fill="#4332c9" stroke-width="1.6" d="M1391.5,683.0 L1409.0,682.7 L1415.2,687.2 L1397.7,687.5z"/>
<path fill="#4332c9" stroke-width="1.6" d="M1374.0,683.4 L1391.5,683.0 L1397.7,687.5 L1380.2,687.9z"/>
<path fill="#4332c9" stroke-width="1.6" d="M1356.5,683.8 L1374.0,683.4 L1380.2,687.9 L1362.7,688.2z"/>
<path fill="#4332c9" stroke-width="1.6" d="M1339.0,684.1 L1356.5,683.8 L1362.7,688.2 L1345.2,688.5z"/>
<path fill="#4332c9" stroke-width="1.6" d="M1321.5,684.5 L1339.0,684.1 L1345.2,688.5 L1327.7,688.9z"/>
<path fill="#4332c9" stroke-width="1.6" d="M1304.0,684.8 L1321.5,684.5 L1327.7,688.9 L1310.2,689.2z"/>
<path fill="#4332c9" stroke-width="1.6" d="M1286.5,685.2 L1304.0,684.8 L1310.2,689.2 L1292.7,689.5z"/>
<path fill="#4332ca" stroke-width="1.6" d="M1269.0,685.5 L1286.5,685.2 L1292.7,689.5 L1275.2,689.7z"/>
<path fill="#4332ca" stroke-width="1.6" d="M1251.6,685.9 L1269.0,685.5 L1275.2,689.7 L1257.7,690.0z"/>
<path fill="#4332ca" stroke-width="1.6" d="M1234.1,686.2 L1251.6,685.9 L1257.7,690.0 L1240.2,690.3z"/>
<path fill="#4332ca" stroke-width="1.6" d="M1216.6,686.5 L1234.1,686.2 L1240.2,690.3 L1222.7,690.5z"/>
<path fill="#4332ca" stroke-width="1.6" d="M1199.1,686.8 L1216.6,686.5 L1222.7,690.5 L1205.2,690.7z"/>
<path fill="#4332ca" stroke-width="1.6" d="M1181.6,687.1 L1199.1,686.8 L1205.2,690.7 L1187.7,690.9z"/>
<path fill="#4332ca" stroke-width="1.6" d="M1164.1,687.3 L1181.6,687.1 L1187.7,690.9 L1170.2,690.9z"/>
<path fill="#4332ca" stroke-width="1.6" d="M1146.6,687.5 L1164.1,687.3 L1170.2,690.9 L1152.8,690.8z"/>
<path fill="#4332ca" stroke-width="1.6" d="M1129.1,687.5 L1146.6,687.5 L1152.8,690.8 L1135.3,690.5z"/>
<path fill="#4432cb" stroke-width="1.6" d="M1111.6,687.5 L1129.1,687.5 L1135.3,690.5 L1117.8,689.9z"/>
<path fill="#4433cb" stroke-width="1.6" d="M1094.1,687.4 L1111.6,687.5 L1117.8,689.9 L1100.3,689.2z"/>
<path fill="#4433cc" stroke-width="1.6" d="M1076.6,687.1 L1094.1,687.4 L1100.3,689.2 L1082.8,688.2z"/>
<path fill="#4433cd" stroke-width="1.6" d="M1059.1,686.5 L1076.6,687.1 L1082.8,688.2 L1065.3,686.5z"/>
<path fill="#4434ce" stroke-width="1.6" d="M1041.6,685.6 L1059.1,686.5 L1065.3,686.5 L1047.8,683.9z"/>
<path fill="#4434cf" stroke-width="1.6" d="M1024.1,684.4 L1041.6,685.6 L1047.8,683.9 L1030.3,681.0z"/>
<path fill="#4434cd" stroke-width="1.6" d="M1006.6,682.9 L1024.1,684.4 L1030.3,681.0 L1012.8,677.2z"/>
<path fill="#4230c4" stroke-width="1.8" d="M989.1,680.0 L1006.6,682.9 L1012.8,677.2 L995.3,670.5z"/>
<path fill="#422fc1" stroke-width="2.1" d="M971.6,675.9 L989.1,680.0 L995.3,670.5 L977.8,661.2z"/>
<path fill="#4332c9" stroke-width="2.4" d="M954.1,670.7 L971.6,675.9 L977.8,661.2 L960.3,649.5z"/>
<path fill="#4435d2" stroke-width="2.7" d="M936.6,664.3 L954.1,670.7 L960.3,649.5 L942.8,635.2z"/>
<path fill="#4639da" stroke-width="2.7" d="M919.1,657.9 L936.6,664.3 L942.8,635.2 L925.3,620.9z"/>
<path fill="#473ee1" stroke-width="2.7" d="M901.6,650.5 L919.1,657.9 L925.3,620.9 L907.8,604.6z"/>
<path fill="#4744e9" stroke-width="2.7" d="M884.1,642.2 L901.6,650.5 L907.8,604.6 L890.3,586.1z"/>
<path fill="#484cef" stroke-width="2.7" d="M866.7,632.5 L884.1,642.2 L890.3,586.1 L872.8,564.8z"/>
<path fill="#4853f5" stroke-width="2.7" d="M849.2,622.5 L866.7,632.5 L872.8,564.8 L855.3,542.5z"/>
<path fill="#475cfa" stroke-width="2.7" d="M831.7,610.5 L849.2,622.5 L855.3,542.5 L837.8,516.1z"/>
<path fill="#4466fd" stroke-width="2.7" d="M814.2,596.9 L831.7,610.5 L837.8,516.1 L820.3,486.4z"/>
<path fill="#3d70ff" stroke-width="2.7" d="M796.7,583.1 L814.2,596.9 L820.3,486.4 L802.8,456.2z"/>
<path fill="#3479fd" stroke-width="2.7" d="M779.2,571.9 L796.7,583.1 L802.8,456.2 L785.4,431.5z"/>
<path fill="#2f81fa" stroke-width="2.7" d="M761.7,561.7 L779.2,571.9 L785.4,431.5 L767.9,408.8z"/>
<path fill="#2d89f6" stroke-width="2.7" d="M744.2,551.0 L761.7,561.7 L767.9,408.8 L750.4,385.4z"/>
<path fill="#2b90ef" stroke-width="2.7" d="M726.7,539.6 L744.2,551.0 L750.4,385.4 L732.9,360.2z"/>
<path fill="#2797ea" stroke-width="2.7" d="M709.2,528.7 L726.7,539.6 L732.9,360.2 L715.4,336.3z"/>
<path fill="#259de7" stroke-width="2.7" d="M691.7,520.6 L709.2,528.7 L715.4,336.3 L697.9,318.3z"/>
<path fill="#23a1e4" stroke-width="2.7" d="M674.2,513.8 L691.7,520.6 L697.9,318.3 L680.4,303.2z"/>
<path fill="#20a5e3" stroke-width="2.7" d="M656.7,507.6 L674.2,513.8 L680.4,303.2 L662.9,289.3z"/>
<path fill="#1fa6e2" stroke-width="2.7" d="M639.2,506.3 L656.7,507.6 L662.9,289.3 L645.4,286.0z"/>
<path fill="#20a5e2" stroke-width="2.7" d="M621.7,508.1 L639.2,506.3 L645.4,286.0 L627.9,289.4z"/>
<path fill="#22a1e4" stroke-width="2.7" d="M604.2,514.8 L621.7,508.1 L627.9,289.4 L610.4,303.5z"/>
<path fill="#259ce7" stroke-width="2.7" d="M586.7,524.4 L604.2,514.8 L610.4,303.5 L592.9,323.8z"/>
<path fill="#2a93ee" stroke-width="2.7" d="M569.2,539.0 L586.7,524.4 L592.9,323.8 L575.4,354.9z"/>
<path fill="#2d88f6" stroke-width="2.7" d="M551.7,556.7 L569.2,539.0 L575.4,354.9 L557.9,392.6z"/>
<path fill="#347afd" stroke-width="2.7" d="M534.2,577.0 L551.7,556.7 L557.9,392.6 L540.4,436.1z"/>
<path fill="#426afe" stroke-width="2.7" d="M516.7,597.2 L534.2,577.0 L540.4,436.1 L522.9,479.2z"/>
<path fill="#475cfa" stroke-width="2.7" d="M499.2,617.9 L516.7,597.2 L522.9,479.2 L505.4,523.6z"/>
<path fill="#4850f2" stroke-width="2.7" d="M481.8,635.3 L499.2,617.9 L505.4,523.6 L487.9,561.2z"/>
<path fill="#4745e9" stroke-width="2.7" d="M464.3,650.7 L481.8,635.3 L487.9,561.2 L470.4,597.9z"/>
<path fill="#473ee1" stroke-width="2.7" d="M446.8,660.7 L464.3,650.7 L470.4,597.9 L452.9,625.2z"/>
<path fill="#4639da" stroke-width="2.7" d="M429.3,668.7 L446.8,660.7 L452.9,625.2 L435.4,647.8z"/>
<path fill="#4536d5" stroke-width="2.4" d="M411.8,673.8 L429.3,668.7 L435.4,647.8 L417.9,661.3z"/>
<path fill="#4433cd" stroke-width="2.1" d="M394.3,680.3 L411.8,673.8 L417.9,661.3 L400.5,673.8z"/>
<path fill="#4230c4" stroke-width="1.9" d="M376.8,688.8 L394.3,680.3 L400.5,673.8 L383.0,687.1z"/>
<path fill="#422fc2" stroke-width="1.8" d="M359.3,697.3 L376.8,688.8 L383.0,687.1 L365.5,698.8z"/>
<path fill="#422fc0" stroke-width="1.7" d="M341.8,703.8 L359.3,697.3 L365.5,698.8 L348.0,707.1z"/>
<path fill="#4331c6" stroke-width="1.6" d="M324.3,706.6 L341.8,703.8 L348.0,707.1 L330.5,710.8z"/>
<path fill="#4332c9" stroke-width="1.6" d="M1415.2,687.2 L1432.7,686.9 L1438.9,691.6 L1421.4,691.9z"/>
<path fill="#4332c9" stroke-width="1.6" d="M1397.7,687.5 L1415.2,687.2 L1421.4,691.9 L1403.9,692.3z"/>
<path fill="#4332c9" stroke-width="1.6" d="M1380.2,687.9 L1397.7,687.5 L1403.9,692.3 L1386.4,692.6z"/>
<path fill="#4332ca" stroke-width="1.6" d="M1362.7,688.2 L1380.2,687.9 L1386.4,692.6 L1368.9,693.0z"/>
<path fill="#4332ca" stroke-width="1.6" d="M1345.2,688.5 L1362.7,688.2 L1368.9,693.0 L1351.4,693.3z"/>
<path fill="#4332ca" stroke-width="1.6" d="M1327.7,688.9 L1345.2,688.5 L1351.4,693.3 L1333.9,693.7z"/>
<path fill="#4332ca" stroke-width="1.6" d="M1310.2,689.2 L1327.7,688.9 L1333.9,693.7 L1316.4,694.0z"/>
<path fill="#4332ca" stroke-width="1.6" d="M1292.7,689.5 L1310.2,689.2 L1316.4,694.0 L1298.9,694.3z"/>
<path fill="#4332ca" stroke-width="1.6" d="M1275.2,689.7 L1292.7,689.5 L1298.9,694.3 L1281.4,694.6z"/>
<path fill="#4332ca" stroke-width="1.6" d="M1257.7,690.0 L1275.2,689.7 L1281.4,694.6 L1263.9,694.9z"/>
<path fill="#4332ca" stroke-width="1.6" d="M1240.2,690.3 L1257.7,690.0 L1263.9,694.9 L1246.4,695.2z"/>
<path fill="#4332ca" stroke-width="1.6" d="M1222.7,690.5 L1240.2,690.3 L1246.4,695.2 L1228.9,695.5z"/>
<path fill="#4332ca" stroke-width="1.6" d="M1205.2,690.7 L1222.7,690.5 L1228.9,695.5 L1211.4,695.7z"/>
<path fill="#4332cb" stroke-width="1.6" d="M1187.7,690.9 L1205.2,690.7 L1211.4,695.7 L1193.9,695.9z"/>
<path fill="#4433cb" stroke-width="1.6" d="M1170.2,690.9 L1187.7,690.9 L1193.9,695.9 L1176.4,696.1z"/>
<path fill="#4433cb" stroke-width="1.6" d="M1152.8,690.8 L1170.2,690.9 L1176.4,696.1 L1158.9,696.1z"/>
<path fill="#4433cc" stroke-width="1.6" d="M1135.3,690.5 L1152.8,690.8 L1158.9,696.1 L1141.4,695.9z"/>
<path fill="#4433cd" stroke-width="1.6" d="M1117.8,689.9 L1135.3,690.5 L1141.4,695.9 L1123.9,695.6z"/>
<path fill="#4433cd" stroke-width="1.6" d="M1100.3,689.2 L1117.8,689.9 L1123.9,695.6 L1106.4,695.1z"/>
<path fill="#4433cc" stroke-width="1.6" d="M1082.8,688.2 L1100.3,689.2 L1106.4,695.1 L1088.9,694.4z"/>
<path fill="#4433cc" stroke-width="1.6" d="M1065.3,686.5 L1082.8,688.2 L1088.9,694.4 L1071.5,693.2z"/>
<path fill="#4433cb" stroke-width="1.7" d="M1047.8,683.9 L1065.3,686.5 L1071.5,693.2 L1054.0,691.4z"/>
<path fill="#4433cc" stroke-width="1.7" d="M1030.3,681.0 L1047.8,683.9 L1054.0,691.4 L1036.5,689.2z"/>
<path fill="#4433cd" stroke-width="1.8" d="M1012.8,677.2 L1030.3,681.0 L1036.5,689.2 L1019.0,686.4z"/>
<path fill="#4434ce" stroke-width="1.9" d="M995.3,670.5 L1012.8,677.2 L1019.0,686.4 L1001.5,681.3z"/>
<path fill="#4639da" stroke-width="2.1" d="M977.8,661.2 L995.3,670.5 L1001.5,681.3 L984.0,674.3z"/>
<path fill="#4741e6" stroke-width="2.3" d="M960.3,649.5 L977.8,661.2 L984.0,674.3 L966.5,665.4z"/>
<path fill="#484cef" stroke-width="2.6" d="M942.8,635.2 L960.3,649.5 L966.5,665.4 L949.0,654.6z"/>
<path fill="#4756f7" stroke-width="2.7" d="M925.3,620.9 L942.8,635.2 L949.0,654.6 L931.5,643.8z"/>
<path fill="#4562fc" stroke-width="2.7" d="M907.8,604.6 L925.3,620.9 L931.5,643.8 L914.0,631.4z"/>
<path fill="#3d70ff" stroke-width="2.7" d="M890.3,586.1 L907.8,604.6 L914.0,631.4 L896.5,617.4z"/>
<path fill="#2f81fa" stroke-width="2.7" d="M872.8,564.8 L890.3,586.1 L896.5,617.4 L879.0,601.1z"/>
<path fill="#2c90f0" stroke-width="2.7" d="M855.3,542.5 L872.8,564.8 L879.0,601.1 L861.5,584.2z"/>
<path fill="#23a0e5" stroke-width="2.7" d="M837.8,516.1 L855.3,542.5 L861.5,584.2 L844.0,564.1z"/>
<path fill="#13b0d7" stroke-width="2.7" d="M820.3,486.4 L837.8,516.1 L844.0,564.1 L826.5,541.4z"/>
<path fill="#07bcbf" stroke-width="2.7" d="M802.8,456.2 L820.3,486.4 L826.5,541.4 L809.0,518.4z"/>
<path fill="#2ac3a9" stroke-width="2.7" d="M785.4,431.5 L802.8,456.2 L809.0,518.4 L791.5,499.6z"/>
<path fill="#3cc992" stroke-width="2.7" d="M767.9,408.8 L785.4,431.5 L791.5,499.6 L774.0,482.3z"/>
<path fill="#5ecd74" stroke-width="2.7" d="M750.4,385.4 L767.9,408.8 L774.0,482.3 L756.5,464.5z"/>
<path fill="#8ccb50" stroke-width="2.7" d="M732.9,360.2 L750.4,385.4 L756.5,464.5 L739.0,445.3z"/>
<path fill="#b6c532" stroke-width="2.7" d="M715.4,336.3 L732.9,360.2 L739.0,445.3 L721.5,427.1z"/>
<path fill="#d2bf27" stroke-width="2.7" d="M697.9,318.3 L715.4,336.3 L721.5,427.1 L704.0,413.4z"/>
<path fill="#e7bb2d" stroke-width="2.7" d="M680.4,303.2 L697.9,318.3 L704.0,413.4 L686.6,402.0z"/>
<path fill="#f6ba3b" stroke-width="2.7" d="M662.9,289.3 L680.4,303.2 L686.6,402.0 L669.1,391.5z"/>
<path fill="#fabb3d" stroke-width="2.7" d="M645.4,286.0 L662.9,289.3 L669.1,391.5 L651.6,389.0z"/>
<path fill="#f7ba3c" stroke-width="2.7" d="M627.9,289.4 L645.4,286.0 L651.6,389.0 L634.1,391.7z"/>
<path fill="#e8bb2f" stroke-width="2.7" d="M610.4,303.5 L627.9,289.4 L634.1,391.7 L616.6,402.6z"/>
<path fill="#cdc028" stroke-width="2.7" d="M592.9,323.8 L610.4,303.5 L616.6,402.6 L599.1,418.2z"/>
<path fill="#9bc944" stroke-width="2.7" d="M575.4,354.9 L592.9,323.8 L599.1,418.2 L581.6,442.1z"/>
<path fill="#59cc78" stroke-width="2.7" d="M557.9,392.6 L575.4,354.9 L581.6,442.1 L564.1,471.0z"/>
<path fill="#2ac3a8" stroke-width="2.7" d="M540.4,436.1 L557.9,392.6 L564.1,471.0 L546.6,504.4z"/>
<path fill="#04b6cd" stroke-width="2.7" d="M522.9,479.2 L540.4,436.1 L546.6,504.4 L529.1,537.5z"/>
<path fill="#23a0e5" stroke-width="2.7" d="M505.4,523.6 L522.9,479.2 L529.1,537.5 L511.6,571.5z"/>
<path fill="#2d89f5" stroke-width="2.7" d="M487.9,561.2 L505.4,523.6 L511.6,571.5 L494.1,600.4z"/>
<path fill="#3f6eff" stroke-width="2.7" d="M470.4,597.9 L487.9,561.2 L494.1,600.4 L476.6,628.6z"/>
<path fill="#475bf9" stroke-width="2.7" d="M452.9,625.2 L470.4,597.9 L476.6,628.6 L459.1,649.7z"/>
<path fill="#484bef" stroke-width="2.7" d="M435.4,647.8 L452.9,625.2 L459.1,649.7 L441.6,667.1z"/>
<path fill="#4742e6" stroke-width="2.6" d="M417.9,661.3 L435.4,647.8 L441.6,667.1 L424.1,677.6z"/>
<path fill="#463ada" stroke-width="2.4" d="M400.5,673.8 L417.9,661.3 L424.1,677.6 L406.6,687.2z"/>
<path fill="#4332ca" stroke-width="2.3" d="M383.0,687.1 L400.5,673.8 L406.6,687.2 L389.1,697.4z"/>
<path fill="#412cbb" stroke-width="2.1" d="M365.5,698.8 L383.0,687.1 L389.1,697.4 L371.6,706.4z"/>
<path fill="#402ab5" stroke-width="1.9" d="M348.0,707.1 L365.5,698.8 L371.6,706.4 L354.1,712.8z"/>
<path fill="#422fc2" stroke-width="1.6" d="M330.5,710.8 L348.0,707.1 L354.1,712.8 L336.6,715.7z"/>
<path fill="#4332c9" stroke-width="1.6" d="M1421.4,691.9 L1438.9,691.6 L1445.0,696.3 L1427.5,696.6z"/>
<path fill="#4332c9" stroke-width="1.6" d="M1403.9,692.3 L1421.4,691.9 L1427.5,696.6 L1410.0,697.0z"/>
<path fill="#4332c9" stroke-width="1.6" d="M1386.4,692.6 L1403.9,692.3 L1410.0,697.0 L1392.5,697.3z"/>
<path fill="#4332c9" stroke-width="1.6" d="M1368.9,693.0 L1386.4,692.6 L1392.5,697.3 L1375.0,697.7z"/>
<path fill="#4332ca" stroke-width="1.6" d="M1351.4,693.3 L1368.9,693.0 L1375.0,697.7 L1357.6,698.0z"/>
<path fill="#4332ca" stroke-width="1.6" d="M1333.9,693.7 L1351.4,693.3 L1357.6,698.0 L1340.1,698.4z"/>
<path fill="#4332ca" stroke-width="1.6" d="M1316.4,694.0 L1333.9,693.7 L1340.1,698.4 L1322.6,698.7z"/>
<path fill="#4332ca" stroke-width="1.6" d="M1298.9,694.3 L1316.4,694.0 L1322.6,698.7 L1305.1,699.0z"/>
<path fill="#4332ca" stroke-width="1.6" d="M1281.4,694.6 L1298.9,694.3 L1305.1,699.0 L1287.6,699.3z"/>
<path fill="#4332ca" stroke-width="1.6" d="M1263.9,694.9 L1281.4,694.6 L1287.6,699.3 L1270.1,699.6z"/>
<path fill="#4332ca" stroke-width="1.6" d="M1246.4,695.2 L1263.9,694.9 L1270.1,699.6 L1252.6,699.9z"/>
<path fill="#4332ca" stroke-width="1.6" d="M1228.9,695.5 L1246.4,695.2 L1252.6,699.9 L1235.1,700.2z"/>
<path fill="#4332ca" stroke-width="1.6" d="M1211.4,695.7 L1228.9,695.5 L1235.1,700.2 L1217.6,700.5z"/>
<path fill="#4332ca" stroke-width="1.6" d="M1193.9,695.9 L1211.4,695.7 L1217.6,700.5 L1200.1,700.7z"/>
<path fill="#4332cb" stroke-width="1.6" d="M1176.4,696.1 L1193.9,695.9 L1200.1,700.7 L1182.6,700.9z"/>
<path fill="#4432cb" stroke-width="1.6" d="M1158.9,696.1 L1176.4,696.1 L1182.6,700.9 L1165.1,700.9z"/>
<path fill="#4433cb" stroke-width="1.6" d="M1141.4,695.9 L1158.9,696.1 L1165.1,700.9 L1147.6,700.8z"/>
<path fill="#4433cc" stroke-width="1.6" d="M1123.9,695.6 L1141.4,695.9 L1147.6,700.8 L1130.1,700.5z"/>
<path fill="#4433cd" stroke-width="1.6" d="M1106.4,695.1 L1123.9,695.6 L1130.1,700.5 L1112.6,700.2z"/>
<path fill="#4434cd" stroke-width="1.6" d="M1088.9,694.4 L1106.4,695.1 L1112.6,700.2 L1095.1,699.6z"/>
<path fill="#4434ce" stroke-width="1.6" d="M1071.5,693.2 L1088.9,694.4 L1095.1,699.6 L1077.6,698.5z"/>
<path fill="#4434ce" stroke-width="1.6" d="M1054.0,691.4 L1071.5,693.2 L1077.6,698.5 L1060.1,696.9z"/>
<path fill="#4434cf" stroke-width="1.6" d="M1036.5,689.2 L1054.0,691.4 L1060.1,696.9 L1042.6,694.9z"/>
<path fill="#4434d0" stroke-width="1.6" d="M1019.0,686.4 L1036.5,689.2 L1042.6,694.9 L1025.1,692.4z"/>
<path fill="#4434d0" stroke-width="1.7" d="M1001.5,681.3 L1019.0,686.4 L1025.1,692.4 L1007.6,687.9z"/>
<path fill="#4536d4" stroke-width="1.8" d="M984.0,674.3 L1001.5,681.3 L1007.6,687.9 L990.1,681.6z"/>
<path fill="#463adb" stroke-width="2.0" d="M966.5,665.4 L984.0,674.3 L990.1,681.6 L972.7,673.5z"/>
<path fill="#4741e5" stroke-width="2.1" d="M949.0,654.6 L966.5,665.4 L972.7,673.5 L955.2,663.8z"/>
<path fill="#4849ed" stroke-width="2.1" d="M931.5,643.8 L949.0,654.6 L955.2,663.8 L937.7,654.0z"/>
<path fill="#4852f4" stroke-width="2.2" d="M914.0,631.4 L931.5,643.8 L937.7,654.0 L920.2,642.8z"/>
<path fill="#475dfa" stroke-width="2.4" d="M896.5,617.4 L914.0,631.4 L920.2,642.8 L902.7,630.1z"/>
<path fill="#4369fe" stroke-width="2.5" d="M879.0,601.1 L896.5,617.4 L902.7,630.1 L885.2,615.4z"/>
<path fill="#3876fe" stroke-width="2.6" d="M861.5,584.2 L879.0,601.1 L885.2,615.4 L867.7,600.1z"/>
<path fill="#2e85f8" stroke-width="2.7" d="M844.0,564.1 L861.5,584.2 L867.7,600.1 L850.2,581.8z"/>
<path fill="#2994ed" stroke-width="2.7" d="M826.5,541.4 L844.0,564.1 L850.2,581.8 L832.7,561.3z"/>
<path fill="#22a2e4" stroke-width="2.7" d="M809.0,518.4 L826.5,541.4 L832.7,561.3 L815.2,540.5z"/>
<path fill="#19addc" stroke-width="2.7" d="M791.5,499.6 L809.0,518.4 L815.2,540.5 L797.7,523.5z"/>
<path fill="#08b5d0" stroke-width="2.7" d="M774.0,482.3 L791.5,499.6 L797.7,523.5 L780.2,507.9z"/>
<path fill="#04bbc1" stroke-width="2.7" d="M756.5,464.5 L774.0,482.3 L780.2,507.9 L762.7,491.7z"/>
<path fill="#21c1b0" stroke-width="2.7" d="M739.0,445.3 L756.5,464.5 L762.7,491.7 L745.2,474.4z"/>
<path fill="#32c69f" stroke-width="2.7" d="M721.5,427.1 L739.0,445.3 L745.2,474.4 L727.7,457.9z"/>
<path fill="#3dca90" stroke-width="2.7" d="M704.0,413.4 L721.5,427.1 L727.7,457.9 L710.2,445.5z"/>
<path fill="#4ecc81" stroke-width="2.7" d="M686.6,402.0 L704.0,413.4 L710.2,445.5 L692.7,435.1z"/>
<path fill="#5fcd73" stroke-width="2.7" d="M669.1,391.5 L686.6,402.0 L692.7,435.1 L675.2,425.7z"/>
<path fill="#64cd6f" stroke-width="2.7" d="M651.6,389.0 L669.1,391.5 L675.2,425.7 L657.7,423.4z"/>
<path fill="#60cd72" stroke-width="2.7" d="M634.1,391.7 L651.6,389.0 L657.7,423.4 L640.2,426.0z"/>
<path fill="#4fcc80" stroke-width="2.7" d="M616.6,402.6 L634.1,391.7 L640.2,426.0 L622.7,435.8z"/>
<path fill="#3bc993" stroke-width="2.7" d="M599.1,418.2 L616.6,402.6 L622.7,435.8 L605.3,450.0z"/>
<path fill="#28c3aa" stroke-width="2.7" d="M581.6,442.1 L599.1,418.2 L605.3,450.0 L587.8,471.8z"/>
<path fill="#02bac3" stroke-width="2.7" d="M564.1,471.0 L581.6,442.1 L587.8,471.8 L570.3,498.0z"/>
<path fill="#19addc" stroke-width="2.7" d="M546.6,504.4 L564.1,471.0 L570.3,498.0 L552.8,528.3z"/>
<path fill="#269ae8" stroke-width="2.7" d="M529.1,537.5 L546.6,504.4 L552.8,528.3 L535.3,558.4z"/>
<path fill="#2e85f8" stroke-width="2.7" d="M511.6,571.5 L529.1,537.5 L535.3,558.4 L517.8,589.3z"/>
<path fill="#3e70ff" stroke-width="2.7" d="M494.1,600.4 L511.6,571.5 L517.8,589.3 L500.3,615.6z"/>
<path fill="#475bf9" stroke-width="2.7" d="M476.6,628.6 L494.1,600.4 L500.3,615.6 L482.8,641.5z"/>
<path fill="#484df0" stroke-width="2.7" d="M459.1,649.7 L476.6,628.6 L482.8,641.5 L465.3,661.1z"/>
<path fill="#4741e4" stroke-width="2.5" d="M441.6,667.1 L459.1,649.7 L465.3,661.1 L447.8,677.4z"/>
<path fill="#463adb" stroke-width="2.1" d="M424.1,677.6 L441.6,667.1 L447.8,677.4 L430.3,687.2z"/>
<path fill="#4434d0" stroke-width="2.0" d="M406.6,687.2 L424.1,677.6 L430.3,687.2 L412.8,695.9z"/>
<path fill="#422fc2" stroke-width="2.0" d="M389.1,697.4 L406.6,687.2 L412.8,695.9 L395.3,704.8z"/>
<path fill="#412cb9" stroke-width="1.9" d="M371.6,706.4 L389.1,697.4 L395.3,704.8 L377.8,712.5z"/>
<path fill="#412dbb" stroke-width="1.8" d="M354.1,712.8 L371.6,706.4 L377.8,712.5 L360.3,717.9z"/>
<path fill="#4330c5" stroke-width="1.6" d="M336.6,715.7 L354.1,712.8 L360.3,717.9 L342.8,720.4z"/>
<path fill="#4332c9" stroke-width="1.6" d="M1427.5,696.6 L1445.0,696.3 L1451.2,700.9 L1433.7,701.3z"/>
<path fill="#4332c9" stroke-width="1.6" d="M1410.0,697.0 L1427.5,696.6 L1433.7,701.3 L1416.2,701.6z"/>
<path fill="#4332c9" stroke-width="1.6" d="M1392.5,697.3 L1410.0,697.0 L1416.2,701.6 L1398.7,702.0z"/>
<path fill="#4332c9" stroke-width="1.6" d="M1375.0,697.7 L1392.5,697.3 L1398.7,702.0 L1381.2,702.3z"/>
<path fill="#4332c9" stroke-width="1.6" d="M1357.6,698.0 L1375.0,697.7 L1381.2,702.3 L1363.7,702.6z"/>
<path fill="#4332ca" stroke-width="1.6" d="M1340.1,698.4 L1357.6,698.0 L1363.7,702.6 L1346.2,703.0z"/>
<path fill="#4332ca" stroke-width="1.6" d="M1322.6,698.7 L1340.1,698.4 L1346.2,703.0 L1328.7,703.3z"/>
<path fill="#4332ca" stroke-width="1.6" d="M1305.1,699.0 L1322.6,698.7 L1328.7,703.3 L1311.2,703.6z"/>
<path fill="#4332ca" stroke-width="1.6" d="M1287.6,699.3 L1305.1,699.0 L1311.2,703.6 L1293.7,703.9z"/>
<path fill="#4332ca" stroke-width="1.6" d="M1270.1,699.6 L1287.6,699.3 L1293.7,703.9 L1276.3,704.2z"/>
<path fill="#4332ca" stroke-width="1.6" d="M1252.6,699.9 L1270.1,699.6 L1276.3,704.2 L1258.8,704.5z"/>
<path fill="#4332ca" stroke-width="1.6" d="M1235.1,700.2 L1252.6,699.9 L1258.8,704.5 L1241.3,704.8z"/>
<path fill="#4332ca" stroke-width="1.6" d="M1217.6,700.5 L1235.1,700.2 L1241.3,704.8 L1223.8,705.0z"/>
<path fill="#4332ca" stroke-width="1.6" d="M1200.1,700.7 L1217.6,700.5 L1223.8,705.0 L1206.3,705.2z"/>
<path fill="#4332ca" stroke-width="1.6" d="M1182.6,700.9 L1200.1,700.7 L1206.3,705.2 L1188.8,705.4z"/>
<path fill="#4332cb" stroke-width="1.6" d="M1165.1,700.9 L1182.6,700.9 L1188.8,705.4 L1171.3,705.4z"/>
<path fill="#4433cb" stroke-width="1.6" d="M1147.6,700.8 L1165.1,700.9 L1171.3,705.4 L1153.8,705.2z"/>
<path fill="#4433cc" stroke-width="1.6" d="M1130.1,700.5 L1147.6,700.8 L1153.8,705.2 L1136.3,704.9z"/>
<path fill="#4433cc" stroke-width="1.6" d="M1112.6,700.2 L1130.1,700.5 L1136.3,704.9 L1118.8,704.2z"/>
<path fill="#4433cd" stroke-width="1.6" d="M1095.1,699.6 L1112.6,700.2 L1118.8,704.2 L1101.3,703.0z"/>
<path fill="#4434ce" stroke-width="1.6" d="M1077.6,698.5 L1095.1,699.6 L1101.3,703.0 L1083.8,701.1z"/>
<path fill="#4435d0" stroke-width="1.6" d="M1060.1,696.9 L1077.6,698.5 L1083.8,701.1 L1066.3,698.3z"/>
<path fill="#4535d2" stroke-width="1.6" d="M1042.6,694.9 L1060.1,696.9 L1066.3,698.3 L1048.8,695.3z"/>
<path fill="#4536d4" stroke-width="1.6" d="M1025.1,692.4 L1042.6,694.9 L1048.8,695.3 L1031.3,691.7z"/>
<path fill="#4538d7" stroke-width="1.6" d="M1007.6,687.9 L1025.1,692.4 L1031.3,691.7 L1013.8,686.1z"/>
<path fill="#4538d8" stroke-width="1.6" d="M990.1,681.6 L1007.6,687.9 L1013.8,686.1 L996.3,678.8z"/>
<path fill="#463bdc" stroke-width="1.8" d="M972.7,673.5 L990.1,681.6 L996.3,678.8 L978.8,670.0z"/>
<path fill="#473fe3" stroke-width="1.9" d="M955.2,663.8 L972.7,673.5 L978.8,670.0 L961.3,659.5z"/>
<path fill="#4746ea" stroke-width="1.9" d="M937.7,654.0 L955.2,663.8 L961.3,659.5 L943.8,649.2z"/>
<path fill="#484ef1" stroke-width="2.0" d="M920.2,642.8 L937.7,654.0 L943.8,649.2 L926.3,637.5z"/>
<path fill="#4757f7" stroke-width="2.1" d="M902.7,630.1 L920.2,642.8 L926.3,637.5 L908.8,624.1z"/>
<path fill="#4562fc" stroke-width="2.2" d="M885.2,615.4 L902.7,630.1 L908.8,624.1 L891.4,608.3z"/>
<path fill="#406dfe" stroke-width="2.3" d="M867.7,600.1 L885.2,615.4 L891.4,608.3 L873.9,591.7z"/>
<path fill="#327bfc" stroke-width="2.5" d="M850.2,581.8 L867.7,600.1 L873.9,591.7 L856.4,571.4z"/>
<path fill="#2d8af4" stroke-width="2.7" d="M832.7,561.3 L850.2,581.8 L856.4,571.4 L838.9,548.4z"/>
<path fill="#2798ea" stroke-width="2.7" d="M815.2,540.5 L832.7,561.3 L838.9,548.4 L821.4,525.1z"/>
<path fill="#22a2e4" stroke-width="2.7" d="M797.7,523.5 L815.2,540.5 L821.4,525.1 L803.9,506.0z"/>
<path fill="#1babde" stroke-width="2.7" d="M780.2,507.9 L797.7,523.5 L803.9,506.0 L786.4,488.5z"/>
<path fill="#0db3d3" stroke-width="2.7" d="M762.7,491.7 L780.2,507.9 L786.4,488.5 L768.9,470.4z"/>
<path fill="#01bac5" stroke-width="2.7" d="M745.2,474.4 L762.7,491.7 L768.9,470.4 L751.4,451.0z"/>
<path fill="#16bfb7" stroke-width="2.7" d="M727.7,457.9 L745.2,474.4 L751.4,451.0 L733.9,432.6z"/>
<path fill="#27c2ac" stroke-width="2.7" d="M710.2,445.5 L727.7,457.9 L733.9,432.6 L716.4,418.6z"/>
<path fill="#30c5a2" stroke-width="2.7" d="M692.7,435.1 L710.2,445.5 L716.4,418.6 L698.9,407.0z"/>
<path fill="#37c897" stroke-width="2.7" d="M675.2,425.7 L692.7,435.1 L698.9,407.0 L681.4,396.4z"/>
<path fill="#39c995" stroke-width="2.6" d="M657.7,423.4 L675.2,425.7 L681.4,396.4 L663.9,393.8z"/>
<path fill="#37c897" stroke-width="2.7" d="M640.2,426.0 L657.7,423.4 L663.9,393.8 L646.4,396.6z"/>
<path fill="#30c5a1" stroke-width="2.7" d="M622.7,435.8 L640.2,426.0 L646.4,396.6 L628.9,407.6z"/>
<path fill="#25c2ae" stroke-width="2.7" d="M605.3,450.0 L622.7,435.8 L628.9,407.6 L611.4,423.4z"/>
<path fill="#06bcc0" stroke-width="2.7" d="M587.8,471.8 L605.3,450.0 L611.4,423.4 L593.9,447.7z"/>
<path fill="#0fb2d5" stroke-width="2.7" d="M570.3,498.0 L587.8,471.8 L593.9,447.7 L576.4,477.0z"/>
<path fill="#22a2e4" stroke-width="2.7" d="M552.8,528.3 L570.3,498.0 L576.4,477.0 L558.9,510.8z"/>
<path fill="#2b90f0" stroke-width="2.7" d="M535.3,558.4 L552.8,528.3 L558.9,510.8 L541.4,544.4z"/>
<path fill="#327bfc" stroke-width="2.7" d="M517.8,589.3 L535.3,558.4 L541.4,544.4 L523.9,578.9z"/>
<path fill="#4368fd" stroke-width="2.7" d="M500.3,615.6 L517.8,589.3 L523.9,578.9 L506.5,608.2z"/>
<path fill="#4755f6" stroke-width="2.7" d="M482.8,641.5 L500.3,615.6 L506.5,608.2 L489.0,637.0z"/>
<path fill="#4848ec" stroke-width="2.3" d="M465.3,661.1 L482.8,641.5 L489.0,637.0 L471.5,658.7z"/>
<path fill="#463ddf" stroke-width="2.1" d="M447.8,677.4 L465.3,661.1 L471.5,658.7 L454.0,676.7z"/>
<path fill="#463adc" stroke-width="1.7" d="M430.3,687.2 L447.8,677.4 L454.0,676.7 L436.5,687.5z"/>
<path fill="#4537d5" stroke-width="1.7" d="M412.8,695.9 L430.3,687.2 L436.5,687.5 L419.0,697.2z"/>
<path fill="#4332c9" stroke-width="1.7" d="M395.3,704.8 L412.8,695.9 L419.0,697.2 L401.5,707.3z"/>
<path fill="#422fc2" stroke-width="1.7" d="M377.8,712.5 L395.3,704.8 L401.5,707.3 L384.0,716.0z"/>
<path fill="#422fc0" stroke-width="1.7" d="M360.3,717.9 L377.8,712.5 L384.0,716.0 L366.5,722.2z"/>
<path fill="#4331c6" stroke-width="1.6" d="M342.8,720.4 L360.3,717.9 L366.5,722.2 L349.0,725.0z"/>
<path fill="#4332c9" stroke-width="1.6" d="M1433.7,701.3 L1451.2,700.9 L1457.4,705.7 L1439.9,706.0z"/>
<path fill="#4332c9" stroke-width="1.6" d="M1416.2,701.6 L1433.7,701.3 L1439.9,706.0 L1422.4,706.4z"/>
<path fill="#4332c9" stroke-width="1.6" d="M1398.7,702.0 L1416.2,701.6 L1422.4,706.4 L1404.9,706.8z"/>
<path fill="#4332c9" stroke-width="1.6" d="M1381.2,702.3 L1398.7,702.0 L1404.9,706.8 L1387.4,707.2z"/>
<path fill="#4332ca" stroke-width="1.6" d="M1363.7,702.6 L1381.2,702.3 L1387.4,707.2 L1369.9,707.5z"/>
<path fill="#4332ca" stroke-width="1.6" d="M1346.2,703.0 L1363.7,702.6 L1369.9,707.5 L1352.4,707.9z"/>
<path fill="#4332ca" stroke-width="1.6" d="M1328.7,703.3 L1346.2,703.0 L1352.4,707.9 L1334.9,708.2z"/>
<path fill="#4332ca" stroke-width="1.6" d="M1311.2,703.6 L1328.7,703.3 L1334.9,708.2 L1317.4,708.6z"/>
<path fill="#4332ca" stroke-width="1.6" d="M1293.7,703.9 L1311.2,703.6 L1317.4,708.6 L1299.9,709.0z"/>
<path fill="#4332ca" stroke-width="1.6" d="M1276.3,704.2 L1293.7,703.9 L1299.9,709.0 L1282.4,709.3z"/>
<path fill="#4332ca" stroke-width="1.6" d="M1258.8,704.5 L1276.3,704.2 L1282.4,709.3 L1264.9,709.7z"/>
<path fill="#4332ca" stroke-width="1.6" d="M1241.3,704.8 L1258.8,704.5 L1264.9,709.7 L1247.4,710.0z"/>
<path fill="#4332ca" stroke-width="1.6" d="M1223.8,705.0 L1241.3,704.8 L1247.4,710.0 L1229.9,710.3z"/>
<path fill="#4332ca" stroke-width="1.6" d="M1206.3,705.2 L1223.8,705.0 L1229.9,710.3 L1212.4,710.6z"/>
<path fill="#4332cb" stroke-width="1.6" d="M1188.8,705.4 L1206.3,705.2 L1212.4,710.6 L1194.9,710.9z"/>
<path fill="#4432cb" stroke-width="1.6" d="M1171.3,705.4 L1188.8,705.4 L1194.9,710.9 L1177.5,711.1z"/>
<path fill="#4433cb" stroke-width="1.6" d="M1153.8,705.2 L1171.3,705.4 L1177.5,711.1 L1160.0,711.2z"/>
<path fill="#4332cb" stroke-width="1.6" d="M1136.3,704.9 L1153.8,705.2 L1160.0,711.2 L1142.5,711.3z"/>
<path fill="#4332ca" stroke-width="1.6" d="M1118.8,704.2 L1136.3,704.9 L1142.5,711.3 L1125.0,711.1z"/>
<path fill="#4332c9" stroke-width="1.6" d="M1101.3,703.0 L1118.8,704.2 L1125.0,711.1 L1107.5,710.3z"/>
<path fill="#4331c8" stroke-width="1.6" d="M1083.8,701.1 L1101.3,703.0 L1107.5,710.3 L1090.0,709.0z"/>
<path fill="#4331c7" stroke-width="1.7" d="M1066.3,698.3 L1083.8,701.1 L1090.0,709.0 L1072.5,707.2z"/>
<path fill="#4331c8" stroke-width="1.8" d="M1048.8,695.3 L1066.3,698.3 L1072.5,707.2 L1055.0,705.2z"/>
<path fill="#4332c9" stroke-width="1.8" d="M1031.3,691.7 L1048.8,695.3 L1055.0,705.2 L1037.5,703.2z"/>
<path fill="#4433cc" stroke-width="2.0" d="M1013.8,686.1 L1031.3,691.7 L1037.5,703.2 L1020.0,700.4z"/>
<path fill="#4537d6" stroke-width="2.2" d="M996.3,678.8 L1013.8,686.1 L1020.0,700.4 L1002.5,697.1z"/>
<path fill="#463de0" stroke-width="2.4" d="M978.8,670.0 L996.3,678.8 L1002.5,697.1 L985.0,693.4z"/>
<path fill="#4745e9" stroke-width="2.7" d="M961.3,659.5 L978.8,670.0 L985.0,693.4 L967.5,689.2z"/>
<path fill="#484cf0" stroke-width="2.7" d="M943.8,649.2 L961.3,659.5 L967.5,689.2 L950.0,685.4z"/>
<path fill="#4755f6" stroke-width="2.7" d="M926.3,637.5 L943.8,649.2 L950.0,685.4 L932.5,681.0z"/>
<path fill="#465efb" stroke-width="2.7" d="M908.8,624.1 L926.3,637.5 L932.5,681.0 L915.0,675.8z"/>
<path fill="#426afe" stroke-width="2.7" d="M891.4,608.3 L908.8,624.1 L915.0,675.8 L897.5,669.4z"/>
<path fill="#3677fe" stroke-width="2.7" d="M873.9,591.7 L891.4,608.3 L897.5,669.4 L880.0,662.4z"/>
<path fill="#2e86f7" stroke-width="2.7" d="M856.4,571.4 L873.9,591.7 L880.0,662.4 L862.5,653.5z"/>
<path fill="#2895ec" stroke-width="2.7" d="M838.9,548.4 L856.4,571.4 L862.5,653.5 L845.0,643.1z"/>
<path fill="#21a3e3" stroke-width="2.7" d="M821.4,525.1 L838.9,548.4 L845.0,643.1 L827.5,632.6z"/>
<path fill="#17aeda" stroke-width="2.7" d="M803.9,506.0 L821.4,525.1 L827.5,632.6 L810.1,624.1z"/>
<path fill="#05b6ce" stroke-width="2.7" d="M786.4,488.5 L803.9,506.0 L810.1,624.1 L792.6,616.3z"/>
<path fill="#08bcbf" stroke-width="2.7" d="M768.9,470.4 L786.4,488.5 L792.6,616.3 L775.1,608.2z"/>
<path fill="#25c2ad" stroke-width="2.7" d="M751.4,451.0 L768.9,470.4 L775.1,608.2 L757.6,599.5z"/>
<path fill="#34c79b" stroke-width="2.7" d="M733.9,432.6 L751.4,451.0 L757.6,599.5 L740.1,591.2z"/>
<path fill="#42ca8b" stroke-width="2.7" d="M716.4,418.6 L733.9,432.6 L740.1,591.2 L722.6,585.1z"/>
<path fill="#54cc7c" stroke-width="2.7" d="M698.9,407.0 L716.4,418.6 L722.6,585.1 L705.1,580.0z"/>
<path fill="#66cd6d" stroke-width="2.7" d="M681.4,396.4 L698.9,407.0 L705.1,580.0 L687.6,575.3z"/>
<path fill="#6bcd69" stroke-width="2.7" d="M663.9,393.8 L681.4,396.4 L687.6,575.3 L670.1,574.3z"/>
<path fill="#67cd6c" stroke-width="2.7" d="M646.4,396.6 L663.9,393.8 L670.1,574.3 L652.6,575.7z"/>
<path fill="#56cc7b" stroke-width="2.7" d="M628.9,407.6 L646.4,396.6 L652.6,575.7 L635.1,580.2z"/>
<path fill="#3fca8e" stroke-width="2.7" d="M611.4,423.4 L628.9,407.6 L635.1,580.2 L617.6,586.7z"/>
<path fill="#2cc4a7" stroke-width="2.7" d="M593.9,447.7 L611.4,423.4 L617.6,586.7 L600.1,596.3z"/>
<path fill="#06bcc0" stroke-width="2.7" d="M576.4,477.0 L593.9,447.7 L600.1,596.3 L582.6,609.3z"/>
<path fill="#17aeda" stroke-width="2.7" d="M558.9,510.8 L576.4,477.0 L582.6,609.3 L565.1,624.6z"/>
<path fill="#259ce7" stroke-width="2.7" d="M541.4,544.4 L558.9,510.8 L565.1,624.6 L547.6,640.3z"/>
<path fill="#2e86f7" stroke-width="2.7" d="M523.9,578.9 L541.4,544.4 L547.6,640.3 L530.1,656.4z"/>
<path fill="#3d71ff" stroke-width="2.7" d="M506.5,608.2 L523.9,578.9 L530.1,656.4 L512.6,670.3z"/>
<path fill="#475cfa" stroke-width="2.7" d="M489.0,637.0 L506.5,608.2 L512.6,670.3 L495.1,681.8z"/>
<path fill="#484df0" stroke-width="2.7" d="M471.5,658.7 L489.0,637.0 L495.1,681.8 L477.6,689.7z"/>
<path fill="#4740e4" stroke-width="2.7" d="M454.0,676.7 L471.5,658.7 L477.6,689.7 L460.1,696.0z"/>
<path fill="#463ada" stroke-width="2.3" d="M436.5,687.5 L454.0,676.7 L460.1,696.0 L442.6,700.6z"/>
<path fill="#4434cf" stroke-width="2.1" d="M419.0,697.2 L436.5,687.5 L442.6,700.6 L425.2,706.1z"/>
<path fill="#422fc2" stroke-width="2.0" d="M401.5,707.3 L419.0,697.2 L425.2,706.1 L407.7,713.6z"/>
<path fill="#412dbc" stroke-width="1.9" d="M384.0,716.0 L401.5,707.3 L407.7,713.6 L390.2,721.2z"/>
<path fill="#412dbc" stroke-width="1.7" d="M366.5,722.2 L384.0,716.0 L390.2,721.2 L372.7,727.2z"/>
<path fill="#4330c4" stroke-width="1.6" d="M349.0,725.0 L366.5,722.2 L372.7,727.2 L355.2,729.9z"/>
<path fill="#4332c9" stroke-width="1.6" d="M1439.9,706.0 L1457.4,705.7 L1463.6,710.3 L1446.1,710.7z"/>
<path fill="#4332c9" stroke-width="1.6" d="M1422.4,706.4 L1439.9,706.0 L1446.1,710.7 L1428.6,711.1z"/>
<path fill="#4332c9" stroke-width="1.6" d="M1404.9,706.8 L1422.4,706.4 L1428.6,711.1 L1411.1,711.5z"/>
<path fill="#4332c9" stroke-width="1.6" d="M1387.4,707.2 L1404.9,706.8 L1411.1,711.5 L1393.6,711.9z"/>
<path fill="#4332c9" stroke-width="1.6" d="M1369.9,707.5 L1387.4,707.2 L1393.6,711.9 L1376.1,712.2z"/>
<path fill="#4332c9" stroke-width="1.6" d="M1352.4,707.9 L1369.9,707.5 L1376.1,712.2 L1358.6,712.6z"/>
<path fill="#4332c9" stroke-width="1.6" d="M1334.9,708.2 L1352.4,707.9 L1358.6,712.6 L1341.1,713.0z"/>
<path fill="#4332c9" stroke-width="1.6" d="M1317.4,708.6 L1334.9,708.2 L1341.1,713.0 L1323.6,713.3z"/>
<path fill="#4332c9" stroke-width="1.6" d="M1299.9,709.0 L1317.4,708.6 L1323.6,713.3 L1306.1,713.7z"/>
<path fill="#4332c9" stroke-width="1.6" d="M1282.4,709.3 L1299.9,709.0 L1306.1,713.7 L1288.6,714.0z"/>
<path fill="#4332ca" stroke-width="1.6" d="M1264.9,709.7 L1282.4,709.3 L1288.6,714.0 L1271.1,714.4z"/>
<path fill="#4332ca" stroke-width="1.6" d="M1247.4,710.0 L1264.9,709.7 L1271.1,714.4 L1253.6,714.7z"/>
<path fill="#4332ca" stroke-width="1.6" d="M1229.9,710.3 L1247.4,710.0 L1253.6,714.7 L1236.1,715.1z"/>
<path fill="#4332ca" stroke-width="1.6" d="M1212.4,710.6 L1229.9,710.3 L1236.1,715.1 L1218.6,715.4z"/>
<path fill="#4332ca" stroke-width="1.6" d="M1194.9,710.9 L1212.4,710.6 L1218.6,715.4 L1201.1,715.7z"/>
<path fill="#4332ca" stroke-width="1.6" d="M1177.5,711.1 L1194.9,710.9 L1201.1,715.7 L1183.6,715.9z"/>
<path fill="#4332ca" stroke-width="1.6" d="M1160.0,711.2 L1177.5,711.1 L1183.6,715.9 L1166.1,716.1z"/>
<path fill="#4332ca" stroke-width="1.6" d="M1142.5,711.3 L1160.0,711.2 L1166.1,716.1 L1148.6,716.3z"/>
<path fill="#4433cb" stroke-width="1.6" d="M1125.0,711.1 L1142.5,711.3 L1148.6,716.3 L1131.1,716.1z"/>
<path fill="#4433cc" stroke-width="1.6" d="M1107.5,710.3 L1125.0,711.1 L1131.1,716.1 L1113.6,715.4z"/>
<path fill="#4433cc" stroke-width="1.6" d="M1090.0,709.0 L1107.5,710.3 L1113.6,715.4 L1096.2,714.3z"/>
<path fill="#4433cc" stroke-width="1.6" d="M1072.5,707.2 L1090.0,709.0 L1096.2,714.3 L1078.7,712.7z"/>
<path fill="#4434cd" stroke-width="1.6" d="M1055.0,705.2 L1072.5,707.2 L1078.7,712.7 L1061.2,711.0z"/>
<path fill="#4434cf" stroke-width="1.6" d="M1037.5,703.2 L1055.0,705.2 L1061.2,711.0 L1043.7,709.2z"/>
<path fill="#4434cf" stroke-width="1.6" d="M1020.0,700.4 L1037.5,703.2 L1043.7,709.2 L1026.2,706.9z"/>
<path fill="#4435d1" stroke-width="1.7" d="M1002.5,697.1 L1020.0,700.4 L1026.2,706.9 L1008.7,704.4z"/>
<path fill="#4536d3" stroke-width="1.7" d="M985.0,693.4 L1002.5,697.1 L1008.7,704.4 L991.2,701.5z"/>
<path fill="#4537d6" stroke-width="1.8" d="M967.5,689.2 L985.0,693.4 L991.2,701.5 L973.7,698.4z"/>
<path fill="#4539d9" stroke-width="1.8" d="M950.0,685.4 L967.5,689.2 L973.7,698.4 L956.2,695.6z"/>
<path fill="#463adc" stroke-width="1.9" d="M932.5,681.0 L950.0,685.4 L956.2,695.6 L938.7,692.3z"/>
<path fill="#463de0" stroke-width="2.0" d="M915.0,675.8 L932.5,681.0 L938.7,692.3 L921.2,688.5z"/>
<path fill="#4742e6" stroke-width="2.1" d="M897.5,669.4 L915.0,675.8 L921.2,688.5 L903.7,683.7z"/>
<path fill="#4747eb" stroke-width="2.2" d="M880.0,662.4 L897.5,669.4 L903.7,683.7 L886.2,678.3z"/>
<path fill="#484ef1" stroke-width="2.3" d="M862.5,653.5 L880.0,662.4 L886.2,678.3 L868.7,671.2z"/>
<path fill="#4755f6" stroke-width="2.5" d="M845.0,643.1 L862.5,653.5 L868.7,671.2 L851.2,663.1z"/>
<path fill="#465dfa" stroke-width="2.6" d="M827.5,632.6 L845.0,643.1 L851.2,663.1 L833.7,654.7z"/>
<path fill="#4563fd" stroke-width="2.6" d="M810.1,624.1 L827.5,632.6 L833.7,654.7 L816.2,648.0z"/>
<path fill="#4269fe" stroke-width="2.6" d="M792.6,616.3 L810.1,624.1 L816.2,648.0 L798.7,641.8z"/>
<path fill="#3e70ff" stroke-width="2.7" d="M775.1,608.2 L792.6,616.3 L798.7,641.8 L781.2,635.4z"/>
<path fill="#3777fe" stroke-width="2.7" d="M757.6,599.5 L775.1,608.2 L781.2,635.4 L763.7,628.5z"/>
<path fill="#317dfb" stroke-width="2.7" d="M740.1,591.2 L757.6,599.5 L763.7,628.5 L746.2,622.0z"/>
<path fill="#2f82f9" stroke-width="2.7" d="M722.6,585.1 L740.1,591.2 L746.2,622.0 L728.7,617.2z"/>
<path fill="#2e86f7" stroke-width="2.7" d="M705.1,580.0 L722.6,585.1 L728.7,617.2 L711.3,613.1z"/>
<path fill="#2d89f5" stroke-width="2.7" d="M687.6,575.3 L705.1,580.0 L711.3,613.1 L693.8,609.5z"/>
<path fill="#2d8af4" stroke-width="2.7" d="M670.1,574.3 L687.6,575.3 L693.8,609.5 L676.3,608.8z"/>
<path fill="#2d8af5" stroke-width="2.7" d="M652.6,575.7 L670.1,574.3 L676.3,608.8 L658.8,609.9z"/>
<path fill="#2e87f7" stroke-width="2.7" d="M635.1,580.2 L652.6,575.7 L658.8,609.9 L641.3,613.2z"/>
<path fill="#2e83f9" stroke-width="2.7" d="M617.6,586.7 L635.1,580.2 L641.3,613.2 L623.8,618.0z"/>
<path fill="#327cfc" stroke-width="2.7" d="M600.1,596.3 L617.6,586.7 L623.8,618.0 L606.3,624.8z"/>
<path fill="#3b72ff" stroke-width="2.7" d="M582.6,609.3 L600.1,596.3 L606.3,624.8 L588.8,635.0z"/>
<path fill="#4367fd" stroke-width="2.7" d="M565.1,624.6 L582.6,609.3 L588.8,635.0 L571.3,647.0z"/>
<path fill="#475cfa" stroke-width="2.7" d="M547.6,640.3 L565.1,624.6 L571.3,647.0 L553.8,659.7z"/>
<path fill="#4851f3" stroke-width="2.7" d="M530.1,656.4 L547.6,640.3 L553.8,659.7 L536.3,672.5z"/>
<path fill="#4747ec" stroke-width="2.5" d="M512.6,670.3 L530.1,656.4 L536.3,672.5 L518.8,684.1z"/>
<path fill="#4740e3" stroke-width="2.2" d="M495.1,681.8 L512.6,670.3 L518.8,684.1 L501.3,692.2z"/>
<path fill="#463bdc" stroke-width="1.9" d="M477.6,689.7 L495.1,681.8 L501.3,692.2 L483.8,697.7z"/>
<path fill="#463ada" stroke-width="1.8" d="M460.1,696.0 L477.6,689.7 L483.8,697.7 L466.3,701.7z"/>
<path fill="#4639da" stroke-width="1.7" d="M442.6,700.6 L460.1,696.0 L466.3,701.7 L448.8,705.4z"/>
<path fill="#4537d5" stroke-width="1.7" d="M425.2,706.1 L442.6,700.6 L448.8,705.4 L431.3,710.4z"/>
<path fill="#4332ca" stroke-width="1.7" d="M407.7,713.6 L425.2,706.1 L431.3,710.4 L413.8,717.6z"/>
<path fill="#422fc0" stroke-width="1.8" d="M390.2,721.2 L407.7,713.6 L413.8,717.6 L396.3,725.5z"/>
<path fill="#412ebe" stroke-width="1.7" d="M372.7,727.2 L390.2,721.2 L396.3,725.5 L378.8,731.7z"/>
<path fill="#4330c5" stroke-width="1.6" d="M355.2,729.9 L372.7,727.2 L378.8,731.7 L361.3,734.6z"/>
<path fill="#4332c9" stroke-width="1.6" d="M1446.1,710.7 L1463.6,710.3 L1469.7,715.0 L1452.2,715.4z"/>
<path fill="#4332c9" stroke-width="1.6" d="M1428.6,711.1 L1446.1,710.7 L1452.2,715.4 L1434.7,715.8z"/>
<path fill="#4332c9" stroke-width="1.6" d="M1411.1,711.5 L1428.6,711.1 L1434.7,715.8 L1417.2,716.1z"/>
<path fill="#4332c9" stroke-width="1.6" d="M1393.6,711.9 L1411.1,711.5 L1417.2,716.1 L1399.7,716.5z"/>
<path fill="#4332c9" stroke-width="1.6" d="M1376.1,712.2 L1393.6,711.9 L1399.7,716.5 L1382.3,716.9z"/>
<path fill="#4332c9" stroke-width="1.6" d="M1358.6,712.6 L1376.1,712.2 L1382.3,716.9 L1364.8,717.2z"/>
<path fill="#4332c9" stroke-width="1.6" d="M1341.1,713.0 L1358.6,712.6 L1364.8,717.2 L1347.3,717.6z"/>
<path fill="#4332c9" stroke-width="1.6" d="M1323.6,713.3 L1341.1,713.0 L1347.3,717.6 L1329.8,718.0z"/>
<path fill="#4332c9" stroke-width="1.6" d="M1306.1,713.7 L1323.6,713.3 L1329.8,718.0 L1312.3,718.3z"/>
<path fill="#4332c9" stroke-width="1.6" d="M1288.6,714.0 L1306.1,713.7 L1312.3,718.3 L1294.8,718.7z"/>
<path fill="#4332c9" stroke-width="1.6" d="M1271.1,714.4 L1288.6,714.0 L1294.8,718.7 L1277.3,719.0z"/>
<path fill="#4332c9" stroke-width="1.6" d="M1253.6,714.7 L1271.1,714.4 L1277.3,719.0 L1259.8,719.4z"/>
<path fill="#4332ca" stroke-width="1.6" d="M1236.1,715.1 L1253.6,714.7 L1259.8,719.4 L1242.3,719.7z"/>
<path fill="#4332ca" stroke-width="1.6" d="M1218.6,715.4 L1236.1,715.1 L1242.3,719.7 L1224.8,720.0z"/>
<path fill="#4332ca" stroke-width="1.6" d="M1201.1,715.7 L1218.6,715.4 L1224.8,720.0 L1207.3,720.3z"/>
<path fill="#4332ca" stroke-width="1.6" d="M1183.6,715.9 L1201.1,715.7 L1207.3,720.3 L1189.8,720.5z"/>
<path fill="#4332ca" stroke-width="1.6" d="M1166.1,716.1 L1183.6,715.9 L1189.8,720.5 L1172.3,720.7z"/>
<path fill="#4332ca" stroke-width="1.6" d="M1148.6,716.3 L1166.1,716.1 L1172.3,720.7 L1154.8,720.8z"/>
<path fill="#4332cb" stroke-width="1.6" d="M1131.1,716.1 L1148.6,716.3 L1154.8,720.8 L1137.3,720.6z"/>
<path fill="#4433cc" stroke-width="1.6" d="M1113.6,715.4 L1131.1,716.1 L1137.3,720.6 L1119.8,719.9z"/>
<path fill="#4433cd" stroke-width="1.6" d="M1096.2,714.3 L1113.6,715.4 L1119.8,719.9 L1102.3,718.6z"/>
<path fill="#4434ce" stroke-width="1.6" d="M1078.7,712.7 L1096.2,714.3 L1102.3,718.6 L1084.8,716.9z"/>
<path fill="#4435d0" stroke-width="1.6" d="M1061.2,711.0 L1078.7,712.7 L1084.8,716.9 L1067.3,715.1z"/>
<path fill="#4535d2" stroke-width="1.6" d="M1043.7,709.2 L1061.2,711.0 L1067.3,715.1 L1049.8,713.2z"/>
<path fill="#4536d4" stroke-width="1.6" d="M1026.2,706.9 L1043.7,709.2 L1049.8,713.2 L1032.3,710.7z"/>
<path fill="#4537d6" stroke-width="1.6" d="M1008.7,704.4 L1026.2,706.9 L1032.3,710.7 L1014.8,707.7z"/>
<path fill="#4538d8" stroke-width="1.6" d="M991.2,701.5 L1008.7,704.4 L1014.8,707.7 L997.4,704.5z"/>
<path fill="#463adb" stroke-width="1.6" d="M973.7,698.4 L991.2,701.5 L997.4,704.5 L979.9,700.8z"/>
<path fill="#463bdd" stroke-width="1.6" d="M956.2,695.6 L973.7,698.4 L979.9,700.8 L962.4,697.5z"/>
<path fill="#463ddf" stroke-width="1.6" d="M938.7,692.3 L956.2,695.6 L962.4,697.5 L944.9,693.6z"/>
<path fill="#473fe2" stroke-width="1.6" d="M921.2,688.5 L938.7,692.3 L944.9,693.6 L927.4,689.1z"/>
<path fill="#4741e5" stroke-width="1.6" d="M903.7,683.7 L921.2,688.5 L927.4,689.1 L909.9,683.5z"/>
<path fill="#4743e7" stroke-width="1.6" d="M886.2,678.3 L903.7,683.7 L909.9,683.5 L892.4,677.3z"/>
<path fill="#4746ea" stroke-width="1.6" d="M868.7,671.2 L886.2,678.3 L892.4,677.3 L874.9,669.4z"/>
<path fill="#484bee" stroke-width="1.7" d="M851.2,663.1 L868.7,671.2 L874.9,669.4 L857.4,660.1z"/>
<path fill="#4851f3" stroke-width="1.8" d="M833.7,654.7 L851.2,663.1 L857.4,660.1 L839.9,650.7z"/>
<path fill="#4756f6" stroke-width="1.8" d="M816.2,648.0 L833.7,654.7 L839.9,650.7 L822.4,643.0z"/>
<path fill="#475af9" stroke-width="1.8" d="M798.7,641.8 L816.2,648.0 L822.4,643.0 L804.9,636.1z"/>
<path fill="#465ffb" stroke-width="1.8" d="M781.2,635.4 L798.7,641.8 L804.9,636.1 L787.4,628.8z"/>
<path fill="#4464fd" stroke-width="1.9" d="M763.7,628.5 L781.2,635.4 L787.4,628.8 L769.9,621.0z"/>
<path fill="#426afe" stroke-width="1.9" d="M746.2,622.0 L763.7,628.5 L769.9,621.0 L752.4,613.6z"/>
<path fill="#3f6dfe" stroke-width="1.9" d="M728.7,617.2 L746.2,622.0 L752.4,613.6 L734.9,608.1z"/>
<path fill="#3d71ff" stroke-width="1.8" d="M711.3,613.1 L728.7,617.2 L734.9,608.1 L717.4,603.5z"/>
<path fill="#3a74fe" stroke-width="1.8" d="M693.8,609.5 L711.3,613.1 L717.4,603.5 L699.9,599.4z"/>
<path fill="#3975fe" stroke-width="1.7" d="M676.3,608.8 L693.8,609.5 L699.9,599.4 L682.4,598.6z"/>
<path fill="#3974fe" stroke-width="1.7" d="M658.8,609.9 L676.3,608.8 L682.4,598.6 L664.9,599.7z"/>
<path fill="#3b72ff" stroke-width="1.8" d="M641.3,613.2 L658.8,609.9 L664.9,599.7 L647.4,603.1z"/>
<path fill="#3f6fff" stroke-width="1.9" d="M623.8,618.0 L641.3,613.2 L647.4,603.1 L630.0,608.3z"/>
<path fill="#426afe" stroke-width="2.0" d="M606.3,624.8 L623.8,618.0 L630.0,608.3 L612.5,615.4z"/>
<path fill="#4563fc" stroke-width="2.1" d="M588.8,635.0 L606.3,624.8 L612.5,615.4 L595.0,626.6z"/>
<path fill="#475af9" stroke-width="2.1" d="M571.3,647.0 L588.8,635.0 L595.0,626.6 L577.5,639.8z"/>
<path fill="#4852f4" stroke-width="2.1" d="M553.8,659.7 L571.3,647.0 L577.5,639.8 L560.0,654.1z"/>
<path fill="#4849ed" stroke-width="2.1" d="M536.3,672.5 L553.8,659.7 L560.0,654.1 L542.5,668.4z"/>
<path fill="#4741e5" stroke-width="1.9" d="M518.8,684.1 L536.3,672.5 L542.5,668.4 L525.0,681.7z"/>
<path fill="#473fe2" stroke-width="1.7" d="M501.3,692.2 L518.8,684.1 L525.0,681.7 L507.5,691.7z"/>
<path fill="#463ee0" stroke-width="1.6" d="M483.8,697.7 L501.3,692.2 L507.5,691.7 L490.0,699.5z"/>
<path fill="#463cde" stroke-width="1.6" d="M466.3,701.7 L483.8,697.7 L490.0,699.5 L472.5,705.5z"/>
<path fill="#4639da" stroke-width="1.6" d="M448.8,705.4 L466.3,701.7 L472.5,705.5 L455.0,710.8z"/>
<path fill="#4536d3" stroke-width="1.7" d="M431.3,710.4 L448.8,705.4 L455.0,710.8 L437.5,716.2z"/>
<path fill="#4331c8" stroke-width="1.8" d="M413.8,717.6 L431.3,710.4 L437.5,716.2 L420.0,723.2z"/>
<path fill="#412ebe" stroke-width="1.8" d="M396.3,725.5 L413.8,717.6 L420.0,723.2 L402.5,730.6z"/>
<path fill="#412dbd" stroke-width="1.7" d="M378.8,731.7 L396.3,725.5 L402.5,730.6 L385.0,736.4z"/>
<path fill="#4330c5" stroke-width="1.6" d="M361.3,734.6 L378.8,731.7 L385.0,736.4 L367.5,739.2z"/>
<path fill="#4332c9" stroke-width="1.6" d="M1452.2,715.4 L1469.7,715.0 L1475.9,719.7 L1458.4,720.0z"/>
<path fill="#4332c9" stroke-width="1.6" d="M1434.7,715.8 L1452.2,715.4 L1458.4,720.0 L1440.9,720.4z"/>
<path fill="#4332c9" stroke-width="1.6" d="M1417.2,716.1 L1434.7,715.8 L1440.9,720.4 L1423.4,720.8z"/>
<path fill="#4332c9" stroke-width="1.6" d="M1399.7,716.5 L1417.2,716.1 L1423.4,720.8 L1405.9,721.2z"/>
<path fill="#4332c9" stroke-width="1.6" d="M1382.3,716.9 L1399.7,716.5 L1405.9,721.2 L1388.4,721.5z"/>
<path fill="#4332c9" stroke-width="1.6" d="M1364.8,717.2 L1382.3,716.9 L1388.4,721.5 L1370.9,721.9z"/>
<path fill="#4332c9" stroke-width="1.6" d="M1347.3,717.6 L1364.8,717.2 L1370.9,721.9 L1353.4,722.3z"/>
<path fill="#4332c9" stroke-width="1.6" d="M1329.8,718.0 L1347.3,717.6 L1353.4,722.3 L1335.9,722.6z"/>
<path fill="#4332c9" stroke-width="1.6" d="M1312.3,718.3 L1329.8,718.0 L1335.9,722.6 L1318.4,723.0z"/>
<path fill="#4332c9" stroke-width="1.6" d="M1294.8,718.7 L1312.3,718.3 L1318.4,723.0 L1301.0,723.3z"/>
<path fill="#4332c9" stroke-width="1.6" d="M1277.3,719.0 L1294.8,718.7 L1301.0,723.3 L1283.5,723.7z"/>
<path fill="#4332ca" stroke-width="1.6" d="M1259.8,719.4 L1277.3,719.0 L1283.5,723.7 L1266.0,724.0z"/>
<path fill="#4332ca" stroke-width="1.6" d="M1242.3,719.7 L1259.8,719.4 L1266.0,724.0 L1248.5,724.3z"/>
<path fill="#4332ca" stroke-width="1.6" d="M1224.8,720.0 L1242.3,719.7 L1248.5,724.3 L1231.0,724.6z"/>
<path fill="#4332ca" stroke-width="1.6" d="M1207.3,720.3 L1224.8,720.0 L1231.0,724.6 L1213.5,724.9z"/>
<path fill="#4332ca" stroke-width="1.6" d="M1189.8,720.5 L1207.3,720.3 L1213.5,724.9 L1196.0,725.1z"/>
<path fill="#4332ca" stroke-width="1.6" d="M1172.3,720.7 L1189.8,720.5 L1196.0,725.1 L1178.5,725.2z"/>
<path fill="#4332ca" stroke-width="1.6" d="M1154.8,720.8 L1172.3,720.7 L1178.5,725.2 L1161.0,725.3z"/>
<path fill="#4432cb" stroke-width="1.6" d="M1137.3,720.6 L1154.8,720.8 L1161.0,725.3 L1143.5,725.0z"/>
<path fill="#4433cc" stroke-width="1.6" d="M1119.8,719.9 L1137.3,720.6 L1143.5,725.0 L1126.0,724.1z"/>
<path fill="#4433cd" stroke-width="1.6" d="M1102.3,718.6 L1119.8,719.9 L1126.0,724.1 L1108.5,722.5z"/>
<path fill="#4434cf" stroke-width="1.6" d="M1084.8,716.9 L1102.3,718.6 L1108.5,722.5 L1091.0,720.4z"/>
<path fill="#4435d1" stroke-width="1.6" d="M1067.3,715.1 L1084.8,716.9 L1091.0,720.4 L1073.5,718.2z"/>
<path fill="#4536d3" stroke-width="1.6" d="M1049.8,713.2 L1067.3,715.1 L1073.5,718.2 L1056.0,715.9z"/>
<path fill="#4537d5" stroke-width="1.6" d="M1032.3,710.7 L1049.8,713.2 L1056.0,715.9 L1038.5,713.0z"/>
<path fill="#4538d7" stroke-width="1.6" d="M1014.8,707.7 L1032.3,710.7 L1038.5,713.0 L1021.0,709.6z"/>
<path fill="#4639da" stroke-width="1.6" d="M997.4,704.5 L1014.8,707.7 L1021.0,709.6 L1003.5,706.0z"/>
<path fill="#463bdd" stroke-width="1.6" d="M979.9,700.8 L997.4,704.5 L1003.5,706.0 L986.0,702.0z"/>
<path fill="#463cdf" stroke-width="1.6" d="M962.4,697.5 L979.9,700.8 L986.0,702.0 L968.5,698.4z"/>
<path fill="#473ee1" stroke-width="1.6" d="M944.9,693.6 L962.4,697.5 L968.5,698.4 L951.0,694.2z"/>
<path fill="#4740e4" stroke-width="1.6" d="M927.4,689.1 L944.9,693.6 L951.0,694.2 L933.5,689.3z"/>
<path fill="#4743e7" stroke-width="1.6" d="M909.9,683.5 L927.4,689.1 L933.5,689.3 L916.1,683.2z"/>
<path fill="#4746ea" stroke-width="1.6" d="M892.4,677.3 L909.9,683.5 L916.1,683.2 L898.6,676.3z"/>
<path fill="#4849ed" stroke-width="1.7" d="M874.9,669.4 L892.4,677.3 L898.6,676.3 L881.1,667.5z"/>
<path fill="#4850f3" stroke-width="1.8" d="M857.4,660.1 L874.9,669.4 L881.1,667.5 L863.6,657.1z"/>
<path fill="#4757f7" stroke-width="1.8" d="M839.9,650.7 L857.4,660.1 L863.6,657.1 L846.1,646.6z"/>
<path fill="#475dfa" stroke-width="1.8" d="M822.4,643.0 L839.9,650.7 L846.1,646.6 L828.6,638.1z"/>
<path fill="#4562fc" stroke-width="1.8" d="M804.9,636.1 L822.4,643.0 L828.6,638.1 L811.1,630.3z"/>
<path fill="#4367fd" stroke-width="1.9" d="M787.4,628.8 L804.9,636.1 L811.1,630.3 L793.6,622.2z"/>
<path fill="#3f6dfe" stroke-width="1.9" d="M769.9,621.0 L787.4,628.8 L793.6,622.2 L776.1,613.5z"/>
<path fill="#3a73fe" stroke-width="1.9" d="M752.4,613.6 L769.9,621.0 L776.1,613.5 L758.6,605.2z"/>
<path fill="#3678fd" stroke-width="1.9" d="M734.9,608.1 L752.4,613.6 L758.6,605.2 L741.1,599.1z"/>
<path fill="#327cfc" stroke-width="1.9" d="M717.4,603.5 L734.9,608.1 L741.1,599.1 L723.6,594.0z"/>
<path fill="#307ffb" stroke-width="1.9" d="M699.9,599.4 L717.4,603.5 L723.6,594.0 L706.1,589.3z"/>
<path fill="#3080fa" stroke-width="1.7" d="M682.4,598.6 L699.9,599.4 L706.1,589.3 L688.6,588.3z"/>
<path fill="#307ffb" stroke-width="1.7" d="M664.9,599.7 L682.4,598.6 L688.6,588.3 L671.1,589.5z"/>
<path fill="#317dfc" stroke-width="1.8" d="M647.4,603.1 L664.9,599.7 L671.1,589.5 L653.6,592.7z"/>
<path fill="#347afd" stroke-width="1.9" d="M630.0,608.3 L647.4,603.1 L653.6,592.7 L636.1,598.0z"/>
<path fill="#3974fe" stroke-width="2.0" d="M612.5,615.4 L630.0,608.3 L636.1,598.0 L618.6,604.8z"/>
<path fill="#406cfe" stroke-width="2.2" d="M595.0,626.6 L612.5,615.4 L618.6,604.8 L601.1,616.7z"/>
<path fill="#4563fc" stroke-width="2.3" d="M577.5,639.8 L595.0,626.6 L601.1,616.7 L583.6,630.9z"/>
<path fill="#4759f8" stroke-width="2.3" d="M560.0,654.1 L577.5,639.8 L583.6,630.9 L566.1,646.7z"/>
<path fill="#484ff2" stroke-width="2.2" d="M542.5,668.4 L560.0,654.1 L566.1,646.7 L548.6,662.4z"/>
<path fill="#4746ea" stroke-width="2.1" d="M525.0,681.7 L542.5,668.4 L548.6,662.4 L531.2,677.8z"/>
<path fill="#4740e4" stroke-width="1.9" d="M507.5,691.7 L525.0,681.7 L531.2,677.8 L513.7,689.7z"/>
<path fill="#463de0" stroke-width="1.7" d="M490.0,699.5 L507.5,691.7 L513.7,689.7 L496.2,700.6z"/>
<path fill="#463bdd" stroke-width="1.7" d="M472.5,705.5 L490.0,699.5 L496.2,700.6 L478.7,709.0z"/>
<path fill="#4537d7" stroke-width="1.7" d="M455.0,710.8 L472.5,705.5 L478.7,709.0 L461.2,716.7z"/>
<path fill="#4435d0" stroke-width="1.8" d="M437.5,716.2 L455.0,710.8 L461.2,716.7 L443.7,722.7z"/>
<path fill="#4331c6" stroke-width="1.8" d="M420.0,723.2 L437.5,716.2 L443.7,722.7 L426.2,729.3z"/>
<path fill="#422ebe" stroke-width="1.8" d="M402.5,730.6 L420.0,723.2 L426.2,729.3 L408.7,735.9z"/>
<path fill="#422ebe" stroke-width="1.7" d="M385.0,736.4 L402.5,730.6 L408.7,735.9 L391.2,741.0z"/>
<path fill="#4331c6" stroke-width="1.6" d="M367.5,739.2 L385.0,736.4 L391.2,741.0 L373.7,743.6z"/>
<path fill="#4332c9" stroke-width="1.6" d="M1458.4,720.0 L1475.9,719.7 L1482.1,724.3 L1464.6,724.7z"/>
<path fill="#4332c9" stroke-width="1.6" d="M1440.9,720.4 L1458.4,720.0 L1464.6,724.7 L1447.1,725.1z"/>
<path fill="#4332c9" stroke-width="1.6" d="M1423.4,720.8 L1440.9,720.4 L1447.1,725.1 L1429.6,725.4z"/>
<path fill="#4332c9" stroke-width="1.6" d="M1405.9,721.2 L1423.4,720.8 L1429.6,725.4 L1412.1,725.8z"/>
<path fill="#4332c9" stroke-width="1.6" d="M1388.4,721.5 L1405.9,721.2 L1412.1,725.8 L1394.6,726.2z"/>
<path fill="#4332c9" stroke-width="1.6" d="M1370.9,721.9 L1388.4,721.5 L1394.6,726.2 L1377.1,726.5z"/>
<path fill="#4332c9" stroke-width="1.6" d="M1353.4,722.3 L1370.9,721.9 L1377.1,726.5 L1359.6,726.9z"/>
<path fill="#4332c9" stroke-width="1.6" d="M1335.9,722.6 L1353.4,722.3 L1359.6,726.9 L1342.1,727.2z"/>
<path fill="#4332c9" stroke-width="1.6" d="M1318.4,723.0 L1335.9,722.6 L1342.1,727.2 L1324.6,727.6z"/>
<path fill="#4332c9" stroke-width="1.6" d="M1301.0,723.3 L1318.4,723.0 L1324.6,727.6 L1307.1,727.9z"/>
<path fill="#4332ca" stroke-width="1.6" d="M1283.5,723.7 L1301.0,723.3 L1307.1,727.9 L1289.6,728.2z"/>
<path fill="#4332ca" stroke-width="1.6" d="M1266.0,724.0 L1283.5,723.7 L1289.6,728.2 L1272.1,728.6z"/>
<path fill="#4332ca" stroke-width="1.6" d="M1248.5,724.3 L1266.0,724.0 L1272.1,728.6 L1254.6,728.9z"/>
<path fill="#4332ca" stroke-width="1.6" d="M1231.0,724.6 L1248.5,724.3 L1254.6,728.9 L1237.1,729.2z"/>
<path fill="#4332ca" stroke-width="1.6" d="M1213.5,724.9 L1231.0,724.6 L1237.1,729.2 L1219.6,729.4z"/>
<path fill="#4332ca" stroke-width="1.6" d="M1196.0,725.1 L1213.5,724.9 L1219.6,729.4 L1202.2,729.6z"/>
<path fill="#4332ca" stroke-width="1.6" d="M1178.5,725.2 L1196.0,725.1 L1202.2,729.6 L1184.7,729.7z"/>
<path fill="#4332ca" stroke-width="1.6" d="M1161.0,725.3 L1178.5,725.2 L1184.7,729.7 L1167.2,729.7z"/>
<path fill="#4433cb" stroke-width="1.6" d="M1143.5,725.0 L1161.0,725.3 L1167.2,729.7 L1149.7,729.3z"/>
<path fill="#4433cc" stroke-width="1.6" d="M1126.0,724.1 L1143.5,725.0 L1149.7,729.3 L1132.2,728.3z"/>
<path fill="#4434ce" stroke-width="1.6" d="M1108.5,722.5 L1126.0,724.1 L1132.2,728.3 L1114.7,726.6z"/>
<path fill="#4434cf" stroke-width="1.6" d="M1091.0,720.4 L1108.5,722.5 L1114.7,726.6 L1097.2,724.3z"/>
<path fill="#4435d2" stroke-width="1.6" d="M1073.5,718.2 L1091.0,720.4 L1097.2,724.3 L1079.7,721.8z"/>
<path fill="#4536d4" stroke-width="1.6" d="M1056.0,715.9 L1073.5,718.2 L1079.7,721.8 L1062.2,719.2z"/>
<path fill="#4537d6" stroke-width="1.6" d="M1038.5,713.0 L1056.0,715.9 L1062.2,719.2 L1044.7,715.8z"/>
<path fill="#4539d9" stroke-width="1.6" d="M1021.0,709.6 L1038.5,713.0 L1044.7,715.8 L1027.2,711.7z"/>
<path fill="#463adc" stroke-width="1.6" d="M1003.5,706.0 L1021.0,709.6 L1027.2,711.7 L1009.7,707.2z"/>
<path fill="#463cdf" stroke-width="1.6" d="M986.0,702.0 L1003.5,706.0 L1009.7,707.2 L992.2,702.2z"/>
<path fill="#463ee1" stroke-width="1.6" d="M968.5,698.4 L986.0,702.0 L992.2,702.2 L974.7,697.5z"/>
<path fill="#4740e3" stroke-width="1.6" d="M951.0,694.2 L968.5,698.4 L974.7,697.5 L957.2,692.2z"/>
<path fill="#4741e5" stroke-width="1.6" d="M933.5,689.3 L951.0,694.2 L957.2,692.2 L939.7,686.0z"/>
<path fill="#4744e8" stroke-width="1.7" d="M916.1,683.2 L933.5,689.3 L939.7,686.0 L922.2,678.3z"/>
<path fill="#4848ec" stroke-width="1.8" d="M898.6,676.3 L916.1,683.2 L922.2,678.3 L904.7,669.8z"/>
<path fill="#484ef1" stroke-width="2.0" d="M881.1,667.5 L898.6,676.3 L904.7,669.8 L887.2,659.0z"/>
<path fill="#4755f6" stroke-width="2.2" d="M863.6,657.1 L881.1,667.5 L887.2,659.0 L869.7,646.5z"/>
<path fill="#465dfa" stroke-width="2.3" d="M846.1,646.6 L863.6,657.1 L869.7,646.5 L852.2,633.9z"/>
<path fill="#4563fd" stroke-width="2.3" d="M828.6,638.1 L846.1,646.6 L852.2,633.9 L834.8,623.5z"/>
<path fill="#4269fe" stroke-width="2.3" d="M811.1,630.3 L828.6,638.1 L834.8,623.5 L817.3,614.1z"/>
<path fill="#3e70ff" stroke-width="2.4" d="M793.6,622.2 L811.1,630.3 L817.3,614.1 L799.8,604.3z"/>
<path fill="#3777fe" stroke-width="2.5" d="M776.1,613.5 L793.6,622.2 L799.8,604.3 L782.3,593.8z"/>
<path fill="#317dfb" stroke-width="2.5" d="M758.6,605.2 L776.1,613.5 L782.3,593.8 L764.8,583.8z"/>
<path fill="#2f82f9" stroke-width="2.5" d="M741.1,599.1 L758.6,605.2 L764.8,583.8 L747.3,576.3z"/>
<path fill="#2e86f7" stroke-width="2.5" d="M723.6,594.0 L741.1,599.1 L747.3,576.3 L729.8,570.1z"/>
<path fill="#2d89f5" stroke-width="2.5" d="M706.1,589.3 L723.6,594.0 L729.8,570.1 L712.3,564.4z"/>
<path fill="#2d8af4" stroke-width="2.4" d="M688.6,588.3 L706.1,589.3 L712.3,564.4 L694.8,563.2z"/>
<path fill="#2d8af5" stroke-width="2.4" d="M671.1,589.5 L688.6,588.3 L694.8,563.2 L677.3,564.4z"/>
<path fill="#2d88f6" stroke-width="2.5" d="M653.6,592.7 L671.1,589.5 L677.3,564.4 L659.8,567.6z"/>
<path fill="#2e84f8" stroke-width="2.6" d="M636.1,598.0 L653.6,592.7 L659.8,567.6 L642.3,573.3z"/>
<path fill="#3080fa" stroke-width="2.6" d="M618.6,604.8 L636.1,598.0 L642.3,573.3 L624.8,580.4z"/>
<path fill="#3677fe" stroke-width="2.7" d="M601.1,616.7 L618.6,604.8 L624.8,580.4 L607.3,593.9z"/>
<path fill="#406dfe" stroke-width="2.7" d="M583.6,630.9 L601.1,616.7 L607.3,593.9 L589.8,610.2z"/>
<path fill="#4561fc" stroke-width="2.7" d="M566.1,646.7 L583.6,630.9 L589.8,610.2 L572.3,629.1z"/>
<path fill="#4757f7" stroke-width="2.7" d="M548.6,662.4 L566.1,646.7 L572.3,629.1 L554.8,647.7z"/>
<path fill="#484cf0" stroke-width="2.6" d="M531.2,677.8 L548.6,662.4 L554.8,647.7 L537.3,666.6z"/>
<path fill="#4744e8" stroke-width="2.3" d="M513.7,689.7 L531.2,677.8 L537.3,666.6 L519.8,681.2z"/>
<path fill="#463ddf" stroke-width="2.1" d="M496.2,700.6 L513.7,689.7 L519.8,681.2 L502.3,695.5z"/>
<path fill="#4639d9" stroke-width="1.8" d="M478.7,709.0 L496.2,700.6 L502.3,695.5 L484.8,706.7z"/>
<path fill="#4538d7" stroke-width="1.7" d="M461.2,716.7 L478.7,709.0 L484.8,706.7 L467.3,717.1z"/>
<path fill="#4537d6" stroke-width="1.6" d="M443.7,722.7 L461.2,716.7 L467.3,717.1 L449.9,724.6z"/>
<path fill="#4433cd" stroke-width="1.7" d="M426.2,729.3 L443.7,722.7 L449.9,724.6 L432.4,732.1z"/>
<path fill="#4330c4" stroke-width="1.7" d="M408.7,735.9 L426.2,729.3 L432.4,732.1 L414.9,739.4z"/>
<path fill="#422fc3" stroke-width="1.6" d="M391.2,741.0 L408.7,735.9 L414.9,739.4 L397.4,745.0z"/>
<path fill="#4331c7" stroke-width="1.6" d="M373.7,743.6 L391.2,741.0 L397.4,745.0 L379.9,748.0z"/>
<path fill="#4332c9" stroke-width="1.6" d="M1464.6,724.7 L1482.1,724.3 L1488.3,729.0 L1470.8,729.3z"/>
<path fill="#4332c9" stroke-width="1.6" d="M1447.1,725.1 L1464.6,724.7 L1470.8,729.3 L1453.3,729.7z"/>
<path fill="#4332c9" stroke-width="1.6" d="M1429.6,725.4 L1447.1,725.1 L1453.3,729.7 L1435.8,730.0z"/>
<path fill="#4332c9" stroke-width="1.6" d="M1412.1,725.8 L1429.6,725.4 L1435.8,730.0 L1418.3,730.4z"/>
<path fill="#4332c9" stroke-width="1.6" d="M1394.6,726.2 L1412.1,725.8 L1418.3,730.4 L1400.8,730.7z"/>
<path fill="#4332c9" stroke-width="1.6" d="M1377.1,726.5 L1394.6,726.2 L1400.8,730.7 L1383.3,731.1z"/>
<path fill="#4332c9" stroke-width="1.6" d="M1359.6,726.9 L1377.1,726.5 L1383.3,731.1 L1365.8,731.4z"/>
<path fill="#4332c9" stroke-width="1.6" d="M1342.1,727.2 L1359.6,726.9 L1365.8,731.4 L1348.3,731.8z"/>
<path fill="#4332c9" stroke-width="1.6" d="M1324.6,727.6 L1342.1,727.2 L1348.3,731.8 L1330.8,732.1z"/>
<path fill="#4332ca" stroke-width="1.6" d="M1307.1,727.9 L1324.6,727.6 L1330.8,732.1 L1313.3,732.4z"/>
<path fill="#4332ca" stroke-width="1.6" d="M1289.6,728.2 L1307.1,727.9 L1313.3,732.4 L1295.8,732.7z"/>
<path fill="#4332ca" stroke-width="1.6" d="M1272.1,728.6 L1289.6,728.2 L1295.8,732.7 L1278.3,733.0z"/>
<path fill="#4332ca" stroke-width="1.6" d="M1254.6,728.9 L1272.1,728.6 L1278.3,733.0 L1260.8,733.3z"/>
<path fill="#4332ca" stroke-width="1.6" d="M1237.1,729.2 L1254.6,728.9 L1260.8,733.3 L1243.3,733.6z"/>
<path fill="#4332ca" stroke-width="1.6" d="M1219.6,729.4 L1237.1,729.2 L1243.3,733.6 L1225.8,733.7z"/>
<path fill="#4332ca" stroke-width="1.6" d="M1202.2,729.6 L1219.6,729.4 L1225.8,733.7 L1208.3,733.8z"/>
<path fill="#4332ca" stroke-width="1.6" d="M1184.7,729.7 L1202.2,729.6 L1208.3,733.8 L1190.8,733.8z"/>
<path fill="#4332cb" stroke-width="1.6" d="M1167.2,729.7 L1184.7,729.7 L1190.8,733.8 L1173.3,733.6z"/>
<path fill="#4433cb" stroke-width="1.6" d="M1149.7,729.3 L1167.2,729.7 L1173.3,733.6 L1155.8,733.0z"/>
<path fill="#4433cd" stroke-width="1.6" d="M1132.2,728.3 L1149.7,729.3 L1155.8,733.0 L1138.3,731.6z"/>
<path fill="#4434ce" stroke-width="1.6" d="M1114.7,726.6 L1132.2,728.3 L1138.3,731.6 L1120.9,729.3z"/>
<path fill="#4435d0" stroke-width="1.6" d="M1097.2,724.3 L1114.7,726.6 L1120.9,729.3 L1103.4,726.2z"/>
<path fill="#4536d3" stroke-width="1.6" d="M1079.7,721.8 L1097.2,724.3 L1103.4,726.2 L1085.9,722.9z"/>
<path fill="#4537d5" stroke-width="1.6" d="M1062.2,719.2 L1079.7,721.8 L1085.9,722.9 L1068.4,719.3z"/>
<path fill="#4538d8" stroke-width="1.6" d="M1044.7,715.8 L1062.2,719.2 L1068.4,719.3 L1050.9,714.4z"/>
<path fill="#4639d9" stroke-width="1.6" d="M1027.2,711.7 L1044.7,715.8 L1050.9,714.4 L1033.4,708.7z"/>
<path fill="#4639d9" stroke-width="1.7" d="M1009.7,707.2 L1027.2,711.7 L1033.4,708.7 L1015.9,702.2z"/>
<path fill="#463adb" stroke-width="1.8" d="M992.2,702.2 L1009.7,707.2 L1015.9,702.2 L998.4,694.7z"/>
<path fill="#463cde" stroke-width="1.9" d="M974.7,697.5 L992.2,702.2 L998.4,694.7 L980.9,687.8z"/>
<path fill="#473fe2" stroke-width="2.0" d="M957.2,692.2 L974.7,697.5 L980.9,687.8 L963.4,679.8z"/>
<path fill="#4743e7" stroke-width="2.2" d="M939.7,686.0 L957.2,692.2 L963.4,679.8 L945.9,670.7z"/>
<path fill="#4849ed" stroke-width="2.4" d="M922.2,678.3 L939.7,686.0 L945.9,670.7 L928.4,659.4z"/>
<path fill="#484ff2" stroke-width="2.6" d="M904.7,669.8 L922.2,678.3 L928.4,659.4 L910.9,647.2z"/>
<path fill="#4757f7" stroke-width="2.7" d="M887.2,659.0 L904.7,669.8 L910.9,647.2 L893.4,631.9z"/>
<path fill="#4660fc" stroke-width="2.7" d="M869.7,646.5 L887.2,659.0 L893.4,631.9 L875.9,614.2z"/>
<path fill="#426afe" stroke-width="2.7" d="M852.2,633.9 L869.7,646.5 L875.9,614.2 L858.4,596.3z"/>
<path fill="#3c72ff" stroke-width="2.7" d="M834.8,623.5 L852.2,633.9 L858.4,596.3 L840.9,581.6z"/>
<path fill="#3479fd" stroke-width="2.7" d="M817.3,614.1 L834.8,623.5 L840.9,581.6 L823.4,568.2z"/>
<path fill="#2f81fa" stroke-width="2.7" d="M799.8,604.3 L817.3,614.1 L823.4,568.2 L805.9,554.3z"/>
<path fill="#2d88f6" stroke-width="2.7" d="M782.3,593.8 L799.8,604.3 L805.9,554.3 L788.4,539.3z"/>
<path fill="#2c8ff0" stroke-width="2.7" d="M764.8,583.8 L782.3,593.8 L788.4,539.3 L770.9,525.2z"/>
<path fill="#2994ed" stroke-width="2.7" d="M747.3,576.3 L764.8,583.8 L770.9,525.2 L753.4,514.5z"/>
<path fill="#2698ea" stroke-width="2.7" d="M729.8,570.1 L747.3,576.3 L753.4,514.5 L736.0,505.6z"/>
<path fill="#259ce7" stroke-width="2.7" d="M712.3,564.4 L729.8,570.1 L736.0,505.6 L718.5,497.5z"/>
<path fill="#259de7" stroke-width="2.7" d="M694.8,563.2 L712.3,564.4 L718.5,497.5 L701.0,495.6z"/>
<path fill="#259ce7" stroke-width="2.7" d="M677.3,564.4 L694.8,563.2 L701.0,495.6 L683.5,497.0z"/>
<path fill="#259be8" stroke-width="2.7" d="M659.8,567.6 L677.3,564.4 L683.5,497.0 L666.0,500.6z"/>
<path fill="#2798ea" stroke-width="2.7" d="M642.3,573.3 L659.8,567.6 L666.0,500.6 L648.5,507.8z"/>
<path fill="#2a93ed" stroke-width="2.7" d="M624.8,580.4 L642.3,573.3 L648.5,507.8 L631.0,516.4z"/>
<path fill="#2d8bf4" stroke-width="2.7" d="M607.3,593.9 L624.8,580.4 L631.0,516.4 L613.5,533.9z"/>
<path fill="#3080fa" stroke-width="2.7" d="M589.8,610.2 L607.3,593.9 L613.5,533.9 L596.0,556.0z"/>
<path fill="#3b72ff" stroke-width="2.7" d="M572.3,629.1 L589.8,610.2 L596.0,556.0 L578.5,581.7z"/>
<path fill="#4464fd" stroke-width="2.7" d="M554.8,647.7 L572.3,629.1 L578.5,581.7 L561.0,607.8z"/>
<path fill="#4757f7" stroke-width="2.7" d="M537.3,666.6 L554.8,647.7 L561.0,607.8 L543.5,634.3z"/>
<path fill="#484df0" stroke-width="2.7" d="M519.8,681.2 L537.3,666.6 L543.5,634.3 L526.0,655.3z"/>
<path fill="#4743e7" stroke-width="2.7" d="M502.3,695.5 L519.8,681.2 L526.0,655.3 L508.5,675.4z"/>
<path fill="#463cde" stroke-width="2.6" d="M484.8,706.7 L502.3,695.5 L508.5,675.4 L491.0,692.0z"/>
<path fill="#4536d3" stroke-width="2.3" d="M467.3,717.1 L484.8,706.7 L491.0,692.0 L473.5,707.4z"/>
<path fill="#4332c9" stroke-width="2.0" d="M449.9,724.6 L467.3,717.1 L473.5,707.4 L456.0,718.8z"/>
<path fill="#4331c6" stroke-width="1.8" d="M432.4,732.1 L449.9,724.6 L456.0,718.8 L438.5,729.4z"/>
<path fill="#4330c5" stroke-width="1.7" d="M414.9,739.4 L432.4,732.1 L438.5,729.4 L421.0,739.7z"/>
<path fill="#4331c6" stroke-width="1.6" d="M397.4,745.0 L414.9,739.4 L421.0,739.7 L403.5,747.6z"/>
<path fill="#4331c7" stroke-width="1.6" d="M379.9,748.0 L397.4,745.0 L403.5,747.6 L386.0,751.9z"/>
<path fill="#4332c9" stroke-width="1.6" d="M1470.8,729.3 L1488.3,729.0 L1494.4,733.6 L1476.9,734.0z"/>
<path fill="#4332c9" stroke-width="1.6" d="M1453.3,729.7 L1470.8,729.3 L1476.9,734.0 L1459.4,734.4z"/>
<path fill="#4332c9" stroke-width="1.6" d="M1435.8,730.0 L1453.3,729.7 L1459.4,734.4 L1441.9,734.7z"/>
<path fill="#4332c9" stroke-width="1.6" d="M1418.3,730.4 L1435.8,730.0 L1441.9,734.7 L1424.4,735.1z"/>
<path fill="#4332c9" stroke-width="1.6" d="M1400.8,730.7 L1418.3,730.4 L1424.4,735.1 L1407.0,735.4z"/>
<path fill="#4332c9" stroke-width="1.6" d="M1383.3,731.1 L1400.8,730.7 L1407.0,735.4 L1389.5,735.8z"/>
<path fill="#4332ca" stroke-width="1.6" d="M1365.8,731.4 L1383.3,731.1 L1389.5,735.8 L1372.0,736.1z"/>
<path fill="#4332ca" stroke-width="1.6" d="M1348.3,731.8 L1365.8,731.4 L1372.0,736.1 L1354.5,736.5z"/>
<path fill="#4332ca" stroke-width="1.6" d="M1330.8,732.1 L1348.3,731.8 L1354.5,736.5 L1337.0,736.8z"/>
<path fill="#4332ca" stroke-width="1.6" d="M1313.3,732.4 L1330.8,732.1 L1337.0,736.8 L1319.5,737.2z"/>
<path fill="#4332ca" stroke-width="1.6" d="M1295.8,732.7 L1313.3,732.4 L1319.5,737.2 L1302.0,737.5z"/>
<path fill="#4332ca" stroke-width="1.6" d="M1278.3,733.0 L1295.8,732.7 L1302.0,737.5 L1284.5,737.8z"/>
<path fill="#4332ca" stroke-width="1.6" d="M1260.8,733.3 L1278.3,733.0 L1284.5,737.8 L1267.0,738.1z"/>
<path fill="#4332ca" stroke-width="1.6" d="M1243.3,733.6 L1260.8,733.3 L1267.0,738.1 L1249.5,738.3z"/>
<path fill="#4332ca" stroke-width="1.6" d="M1225.8,733.7 L1243.3,733.6 L1249.5,738.3 L1232.0,738.5z"/>
<path fill="#4332cb" stroke-width="1.6" d="M1208.3,733.8 L1225.8,733.7 L1232.0,738.5 L1214.5,738.7z"/>
<path fill="#4432cb" stroke-width="1.6" d="M1190.8,733.8 L1208.3,733.8 L1214.5,738.7 L1197.0,738.7z"/>
<path fill="#4433cb" stroke-width="1.6" d="M1173.3,733.6 L1190.8,733.8 L1197.0,738.7 L1179.5,738.6z"/>
<path fill="#4433cc" stroke-width="1.6" d="M1155.8,733.0 L1173.3,733.6 L1179.5,738.6 L1162.0,738.0z"/>
<path fill="#4433cc" stroke-width="1.6" d="M1138.3,731.6 L1155.8,733.0 L1162.0,738.0 L1144.5,736.7z"/>
<path fill="#4433cc" stroke-width="1.6" d="M1120.9,729.3 L1138.3,731.6 L1144.5,736.7 L1127.0,734.5z"/>
<path fill="#4433cd" stroke-width="1.6" d="M1103.4,726.2 L1120.9,729.3 L1127.0,734.5 L1109.5,731.6z"/>
<path fill="#4434d0" stroke-width="1.6" d="M1085.9,722.9 L1103.4,726.2 L1109.5,731.6 L1092.0,728.5z"/>
<path fill="#4536d2" stroke-width="1.6" d="M1068.4,719.3 L1085.9,722.9 L1092.0,728.5 L1074.5,725.2z"/>
<path fill="#4537d5" stroke-width="1.7" d="M1050.9,714.4 L1068.4,719.3 L1074.5,725.2 L1057.0,720.8z"/>
<path fill="#4539d9" stroke-width="1.8" d="M1033.4,708.7 L1050.9,714.4 L1057.0,720.8 L1039.5,715.8z"/>
<path fill="#463cde" stroke-width="1.8" d="M1015.9,702.2 L1033.4,708.7 L1039.5,715.8 L1022.1,710.0z"/>
<path fill="#4740e3" stroke-width="1.9" d="M998.4,694.7 L1015.9,702.2 L1022.1,710.0 L1004.6,703.5z"/>
<path fill="#4745e9" stroke-width="1.9" d="M980.9,687.8 L998.4,694.7 L1004.6,703.5 L987.1,697.6z"/>
<path fill="#484bee" stroke-width="2.0" d="M963.4,679.8 L980.9,687.8 L987.1,697.6 L969.6,690.7z"/>
<path fill="#4851f4" stroke-width="2.1" d="M945.9,670.7 L963.4,679.8 L969.6,690.7 L952.1,682.8z"/>
<path fill="#4759f9" stroke-width="2.3" d="M928.4,659.4 L945.9,670.7 L952.1,682.8 L934.6,673.0z"/>
<path fill="#4562fc" stroke-width="2.4" d="M910.9,647.2 L928.4,659.4 L934.6,673.0 L917.1,662.3z"/>
<path fill="#3f6eff" stroke-width="2.6" d="M893.4,631.9 L910.9,647.2 L917.1,662.3 L899.6,648.7z"/>
<path fill="#327cfc" stroke-width="2.7" d="M875.9,614.2 L893.4,631.9 L899.6,648.7 L882.1,633.0z"/>
<path fill="#2d89f5" stroke-width="2.7" d="M858.4,596.3 L875.9,614.2 L882.1,633.0 L864.6,617.1z"/>
<path fill="#2a93ee" stroke-width="2.7" d="M840.9,581.6 L858.4,596.3 L864.6,617.1 L847.1,604.1z"/>
<path fill="#259be8" stroke-width="2.7" d="M823.4,568.2 L840.9,581.6 L847.1,604.1 L829.6,592.2z"/>
<path fill="#21a4e3" stroke-width="2.7" d="M805.9,554.3 L823.4,568.2 L829.6,592.2 L812.1,579.8z"/>
<path fill="#1aacdd" stroke-width="2.7" d="M788.4,539.3 L805.9,554.3 L812.1,579.8 L794.6,566.6z"/>
<path fill="#0db3d3" stroke-width="2.7" d="M770.9,525.2 L788.4,539.3 L794.6,566.6 L777.1,554.0z"/>
<path fill="#02b7cb" stroke-width="2.7" d="M753.4,514.5 L770.9,525.2 L777.1,554.0 L759.6,544.5z"/>
<path fill="#02bac3" stroke-width="2.7" d="M736.0,505.6 L753.4,514.5 L759.6,544.5 L742.1,536.7z"/>
<path fill="#0cbdbc" stroke-width="2.7" d="M718.5,497.5 L736.0,505.6 L742.1,536.7 L724.6,529.5z"/>
<path fill="#10beba" stroke-width="2.7" d="M701.0,495.6 L718.5,497.5 L724.6,529.5 L707.1,527.8z"/>
<path fill="#0ebdbb" stroke-width="2.7" d="M683.5,497.0 L701.0,495.6 L707.1,527.8 L689.6,529.2z"/>
<path fill="#09bdbe" stroke-width="2.7" d="M666.0,500.6 L683.5,497.0 L689.6,529.2 L672.1,533.2z"/>
<path fill="#02bac3" stroke-width="2.7" d="M648.5,507.8 L666.0,500.6 L672.1,533.2 L654.7,540.2z"/>
<path fill="#01b8ca" stroke-width="2.7" d="M631.0,516.4 L648.5,507.8 L654.7,540.2 L637.2,549.0z"/>
<path fill="#13b0d7" stroke-width="2.7" d="M613.5,533.9 L631.0,516.4 L637.2,549.0 L619.7,565.8z"/>
<path fill="#1fa5e2" stroke-width="2.7" d="M596.0,556.0 L613.5,533.9 L619.7,565.8 L602.2,586.1z"/>
<path fill="#2796eb" stroke-width="2.7" d="M578.5,581.7 L596.0,556.0 L602.2,586.1 L584.7,609.5z"/>
<path fill="#2e85f8" stroke-width="2.7" d="M561.0,607.8 L578.5,581.7 L584.7,609.5 L567.2,632.7z"/>
<path fill="#3b72ff" stroke-width="2.7" d="M543.5,634.3 L561.0,607.8 L567.2,632.7 L549.7,656.1z"/>
<path fill="#4563fc" stroke-width="2.7" d="M526.0,655.3 L543.5,634.3 L549.7,656.1 L532.2,673.4z"/>
<path fill="#4755f6" stroke-width="2.7" d="M508.5,675.4 L526.0,655.3 L532.2,673.4 L514.7,689.7z"/>
<path fill="#4849ed" stroke-width="2.4" d="M491.0,692.0 L508.5,675.4 L514.7,689.7 L497.2,702.3z"/>
<path fill="#473fe2" stroke-width="2.2" d="M473.5,707.4 L491.0,692.0 L497.2,702.3 L479.7,714.5z"/>
<path fill="#4538d7" stroke-width="2.0" d="M456.0,718.8 L473.5,707.4 L479.7,714.5 L462.2,724.1z"/>
<path fill="#4432cb" stroke-width="1.9" d="M438.5,729.4 L456.0,718.8 L462.2,724.1 L444.7,734.3z"/>
<path fill="#412ebd" stroke-width="1.9" d="M421.0,739.7 L438.5,729.4 L444.7,734.3 L427.2,744.8z"/>
<path fill="#412cb9" stroke-width="1.8" d="M403.5,747.6 L421.0,739.7 L427.2,744.8 L409.7,752.9z"/>
<path fill="#422fc0" stroke-width="1.7" d="M386.0,751.9 L403.5,747.6 L409.7,752.9 L392.2,757.0z"/>
<path fill="#4332c9" stroke-width="1.6" d="M1476.9,734.0 L1494.4,733.6 L1500.6,738.3 L1483.1,738.7z"/>
<path fill="#4332c9" stroke-width="1.6" d="M1459.4,734.4 L1476.9,734.0 L1483.1,738.7 L1465.6,739.1z"/>
<path fill="#4332c9" stroke-width="1.6" d="M1441.9,734.7 L1459.4,734.4 L1465.6,739.1 L1448.1,739.4z"/>
<path fill="#4332c9" stroke-width="1.6" d="M1424.4,735.1 L1441.9,734.7 L1448.1,739.4 L1430.6,739.8z"/>
<path fill="#4332c9" stroke-width="1.6" d="M1407.0,735.4 L1424.4,735.1 L1430.6,739.8 L1413.1,740.2z"/>
<path fill="#4332c9" stroke-width="1.6" d="M1389.5,735.8 L1407.0,735.4 L1413.1,740.2 L1395.6,740.5z"/>
<path fill="#4332c9" stroke-width="1.6" d="M1372.0,736.1 L1389.5,735.8 L1395.6,740.5 L1378.1,740.9z"/>
<path fill="#4332ca" stroke-width="1.6" d="M1354.5,736.5 L1372.0,736.1 L1378.1,740.9 L1360.6,741.2z"/>
<path fill="#4332ca" stroke-width="1.6" d="M1337.0,736.8 L1354.5,736.5 L1360.6,741.2 L1343.1,741.6z"/>
<path fill="#4332ca" stroke-width="1.6" d="M1319.5,737.2 L1337.0,736.8 L1343.1,741.6 L1325.7,741.9z"/>
<path fill="#4332ca" stroke-width="1.6" d="M1302.0,737.5 L1319.5,737.2 L1325.7,741.9 L1308.2,742.3z"/>
<path fill="#4332ca" stroke-width="1.6" d="M1284.5,737.8 L1302.0,737.5 L1308.2,742.3 L1290.7,742.6z"/>
<path fill="#4332ca" stroke-width="1.6" d="M1267.0,738.1 L1284.5,737.8 L1290.7,742.6 L1273.2,742.9z"/>
<path fill="#4332ca" stroke-width="1.6" d="M1249.5,738.3 L1267.0,738.1 L1273.2,742.9 L1255.7,743.2z"/>
<path fill="#4332ca" stroke-width="1.6" d="M1232.0,738.5 L1249.5,738.3 L1255.7,743.2 L1238.2,743.4z"/>
<path fill="#4332ca" stroke-width="1.6" d="M1214.5,738.7 L1232.0,738.5 L1238.2,743.4 L1220.7,743.6z"/>
<path fill="#4332cb" stroke-width="1.6" d="M1197.0,738.7 L1214.5,738.7 L1220.7,743.6 L1203.2,743.7z"/>
<path fill="#4433cb" stroke-width="1.6" d="M1179.5,738.6 L1197.0,738.7 L1203.2,743.7 L1185.7,743.7z"/>
<path fill="#4433cc" stroke-width="1.6" d="M1162.0,738.0 L1179.5,738.6 L1185.7,743.7 L1168.2,743.2z"/>
<path fill="#4433cc" stroke-width="1.6" d="M1144.5,736.7 L1162.0,738.0 L1168.2,743.2 L1150.7,742.1z"/>
<path fill="#4433cb" stroke-width="1.6" d="M1127.0,734.5 L1144.5,736.7 L1150.7,742.1 L1133.2,740.1z"/>
<path fill="#4433cc" stroke-width="1.6" d="M1109.5,731.6 L1127.0,734.5 L1133.2,740.1 L1115.7,737.5z"/>
<path fill="#4434ce" stroke-width="1.6" d="M1092.0,728.5 L1109.5,731.6 L1115.7,737.5 L1098.2,734.8z"/>
<path fill="#4435d1" stroke-width="1.7" d="M1074.5,725.2 L1092.0,728.5 L1098.2,734.8 L1080.7,731.9z"/>
<path fill="#4536d2" stroke-width="1.7" d="M1057.0,720.8 L1074.5,725.2 L1080.7,731.9 L1063.2,728.3z"/>
<path fill="#4537d6" stroke-width="1.8" d="M1039.5,715.8 L1057.0,720.8 L1063.2,728.3 L1045.7,724.3z"/>
<path fill="#4639da" stroke-width="1.9" d="M1022.1,710.0 L1039.5,715.8 L1045.7,724.3 L1028.2,719.8z"/>
<path fill="#463ddf" stroke-width="2.0" d="M1004.6,703.5 L1022.1,710.0 L1028.2,719.8 L1010.7,714.9z"/>
<path fill="#4741e5" stroke-width="2.0" d="M987.1,697.6 L1004.6,703.5 L1010.7,714.9 L993.2,710.5z"/>
<path fill="#4746ea" stroke-width="2.1" d="M969.6,690.7 L987.1,697.6 L993.2,710.5 L975.7,705.4z"/>
<path fill="#484cf0" stroke-width="2.2" d="M952.1,682.8 L969.6,690.7 L975.7,705.4 L958.2,699.5z"/>
<path fill="#4853f5" stroke-width="2.4" d="M934.6,673.0 L952.1,682.8 L958.2,699.5 L940.8,692.0z"/>
<path fill="#475bf9" stroke-width="2.6" d="M917.1,662.3 L934.6,673.0 L940.8,692.0 L923.3,683.7z"/>
<path fill="#4465fd" stroke-width="2.7" d="M899.6,648.7 L917.1,662.3 L923.3,683.7 L905.8,673.0z"/>
<path fill="#3c71ff" stroke-width="2.7" d="M882.1,633.0 L899.6,648.7 L905.8,673.0 L888.3,660.6z"/>
<path fill="#317efb" stroke-width="2.7" d="M864.6,617.1 L882.1,633.0 L888.3,660.6 L870.8,647.9z"/>
<path fill="#2e87f7" stroke-width="2.7" d="M847.1,604.1 L864.6,617.1 L870.8,647.9 L853.3,637.6z"/>
<path fill="#2c8ff1" stroke-width="2.7" d="M829.6,592.2 L847.1,604.1 L853.3,637.6 L835.8,628.1z"/>
<path fill="#2797eb" stroke-width="2.7" d="M812.1,579.8 L829.6,592.2 L835.8,628.1 L818.3,618.3z"/>
<path fill="#249fe5" stroke-width="2.7" d="M794.6,566.6 L812.1,579.8 L818.3,618.3 L800.8,607.8z"/>
<path fill="#1ea7e1" stroke-width="2.7" d="M777.1,554.0 L794.6,566.6 L800.8,607.8 L783.3,597.8z"/>
<path fill="#1aacdd" stroke-width="2.7" d="M759.6,544.5 L777.1,554.0 L783.3,597.8 L765.8,590.3z"/>
<path fill="#13b0d8" stroke-width="2.7" d="M742.1,536.7 L759.6,544.5 L765.8,590.3 L748.3,584.1z"/>
<path fill="#0bb3d2" stroke-width="2.7" d="M724.6,529.5 L742.1,536.7 L748.3,584.1 L730.8,578.4z"/>
<path fill="#08b4d1" stroke-width="2.7" d="M707.1,527.8 L724.6,529.5 L730.8,578.4 L713.3,577.2z"/>
<path fill="#0ab4d1" stroke-width="2.7" d="M689.6,529.2 L707.1,527.8 L713.3,577.2 L695.8,578.5z"/>
<path fill="#0eb2d4" stroke-width="2.7" d="M672.1,533.2 L689.6,529.2 L695.8,578.5 L678.3,582.3z"/>
<path fill="#15afd9" stroke-width="2.7" d="M654.7,540.2 L672.1,533.2 L678.3,582.3 L660.8,588.5z"/>
<path fill="#1aabdd" stroke-width="2.7" d="M637.2,549.0 L654.7,540.2 L660.8,588.5 L643.3,596.6z"/>
<path fill="#22a2e4" stroke-width="2.7" d="M619.7,565.8 L637.2,549.0 L643.3,596.6 L625.8,610.9z"/>
<path fill="#2796eb" stroke-width="2.7" d="M602.2,586.1 L619.7,565.8 L625.8,610.9 L608.3,627.8z"/>
<path fill="#2e87f7" stroke-width="2.7" d="M584.7,609.5 L602.2,586.1 L608.3,627.8 L590.8,646.7z"/>
<path fill="#3777fe" stroke-width="2.7" d="M567.2,632.7 L584.7,609.5 L590.8,646.7 L573.3,665.5z"/>
<path fill="#4465fd" stroke-width="2.7" d="M549.7,656.1 L567.2,632.7 L573.3,665.5 L555.9,683.8z"/>
<path fill="#4759f8" stroke-width="2.7" d="M532.2,673.4 L549.7,656.1 L555.9,683.8 L538.4,697.2z"/>
<path fill="#484ef1" stroke-width="2.7" d="M514.7,689.7 L532.2,673.4 L538.4,697.2 L520.9,709.1z"/>
<path fill="#4745ea" stroke-width="2.5" d="M497.2,702.3 L514.7,689.7 L520.9,709.1 L503.4,718.0z"/>
<path fill="#463de0" stroke-width="2.3" d="M479.7,714.5 L497.2,702.3 L503.4,718.0 L485.9,726.6z"/>
<path fill="#4537d6" stroke-width="2.1" d="M462.2,724.1 L479.7,714.5 L485.9,726.6 L468.4,733.9z"/>
<path fill="#4332ca" stroke-width="2.1" d="M444.7,734.3 L462.2,724.1 L468.4,733.9 L450.9,742.6z"/>
<path fill="#412dbb" stroke-width="2.0" d="M427.2,744.8 L444.7,734.3 L450.9,742.6 L433.4,751.7z"/>
<path fill="#402bb7" stroke-width="1.9" d="M409.7,752.9 L427.2,744.8 L433.4,751.7 L415.9,758.7z"/>
<path fill="#422fc0" stroke-width="1.6" d="M392.2,757.0 L409.7,752.9 L415.9,758.7 L398.4,762.2z"/>
<path fill="#4332c9" stroke-width="1.6" d="M1483.1,738.7 L1500.6,738.3 L1506.8,743.0 L1489.3,743.4z"/>
<path fill="#4332c9" stroke-width="1.6" d="M1465.6,739.1 L1483.1,738.7 L1489.3,743.4 L1471.8,743.8z"/>
<path fill="#4332c9" stroke-width="1.6" d="M1448.1,739.4 L1465.6,739.1 L1471.8,743.8 L1454.3,744.1z"/>
<path fill="#4332c9" stroke-width="1.6" d="M1430.6,739.8 L1448.1,739.4 L1454.3,744.1 L1436.8,744.5z"/>
<path fill="#4332c9" stroke-width="1.6" d="M1413.1,740.2 L1430.6,739.8 L1436.8,744.5 L1419.3,744.9z"/>
<path fill="#4332c9" stroke-width="1.6" d="M1395.6,740.5 L1413.1,740.2 L1419.3,744.9 L1401.8,745.3z"/>
<path fill="#4332c9" stroke-width="1.6" d="M1378.1,740.9 L1395.6,740.5 L1401.8,745.3 L1384.3,745.6z"/>
<path fill="#4332c9" stroke-width="1.6" d="M1360.6,741.2 L1378.1,740.9 L1384.3,745.6 L1366.8,746.0z"/>
<path fill="#4332c9" stroke-width="1.6" d="M1343.1,741.6 L1360.6,741.2 L1366.8,746.0 L1349.3,746.3z"/>
<path fill="#4332ca" stroke-width="1.6" d="M1325.7,741.9 L1343.1,741.6 L1349.3,746.3 L1331.8,746.7z"/>
<path fill="#4332ca" stroke-width="1.6" d="M1308.2,742.3 L1325.7,741.9 L1331.8,746.7 L1314.3,747.0z"/>
<path fill="#4332ca" stroke-width="1.6" d="M1290.7,742.6 L1308.2,742.3 L1314.3,747.0 L1296.8,747.4z"/>
<path fill="#4332ca" stroke-width="1.6" d="M1273.2,742.9 L1290.7,742.6 L1296.8,747.4 L1279.3,747.7z"/>
<path fill="#4332ca" stroke-width="1.6" d="M1255.7,743.2 L1273.2,742.9 L1279.3,747.7 L1261.8,748.0z"/>
<path fill="#4332ca" stroke-width="1.6" d="M1238.2,743.4 L1255.7,743.2 L1261.8,748.0 L1244.3,748.3z"/>
<path fill="#4332ca" stroke-width="1.6" d="M1220.7,743.6 L1238.2,743.4 L1244.3,748.3 L1226.9,748.5z"/>
<path fill="#4332ca" stroke-width="1.6" d="M1203.2,743.7 L1220.7,743.6 L1226.9,748.5 L1209.4,748.7z"/>
<path fill="#4332cb" stroke-width="1.6" d="M1185.7,743.7 L1203.2,743.7 L1209.4,748.7 L1191.9,748.8z"/>
<path fill="#4433cb" stroke-width="1.6" d="M1168.2,743.2 L1185.7,743.7 L1191.9,748.8 L1174.4,748.5z"/>
<path fill="#4433cc" stroke-width="1.6" d="M1150.7,742.1 L1168.2,743.2 L1174.4,748.5 L1156.9,747.5z"/>
<path fill="#4433cb" stroke-width="1.6" d="M1133.2,740.1 L1150.7,742.1 L1156.9,747.5 L1139.4,745.7z"/>
<path fill="#4433cc" stroke-width="1.6" d="M1115.7,737.5 L1133.2,740.1 L1139.4,745.7 L1121.9,743.5z"/>
<path fill="#4433cd" stroke-width="1.6" d="M1098.2,734.8 L1115.7,737.5 L1121.9,743.5 L1104.4,741.1z"/>
<path fill="#4434cf" stroke-width="1.6" d="M1080.7,731.9 L1098.2,734.8 L1104.4,741.1 L1086.9,738.7z"/>
<path fill="#4435d1" stroke-width="1.7" d="M1063.2,728.3 L1080.7,731.9 L1086.9,738.7 L1069.4,735.8z"/>
<path fill="#4536d3" stroke-width="1.8" d="M1045.7,724.3 L1063.2,728.3 L1069.4,735.8 L1051.9,732.8z"/>
<path fill="#4537d6" stroke-width="1.8" d="M1028.2,719.8 L1045.7,724.3 L1051.9,732.8 L1034.4,729.6z"/>
<path fill="#4639da" stroke-width="1.9" d="M1010.7,714.9 L1028.2,719.8 L1034.4,729.6 L1016.9,726.3z"/>
<path fill="#463bde" stroke-width="1.9" d="M993.2,710.5 L1010.7,714.9 L1016.9,726.3 L999.4,723.4z"/>
<path fill="#473fe2" stroke-width="2.0" d="M975.7,705.4 L993.2,710.5 L999.4,723.4 L981.9,720.2z"/>
<path fill="#4744e8" stroke-width="2.2" d="M958.2,699.5 L975.7,705.4 L981.9,720.2 L964.4,716.2z"/>
<path fill="#4849ed" stroke-width="2.3" d="M940.8,692.0 L958.2,699.5 L964.4,716.2 L946.9,711.1z"/>
<path fill="#484ff2" stroke-width="2.4" d="M923.3,683.7 L940.8,692.0 L946.9,711.1 L929.4,705.2z"/>
<path fill="#4757f7" stroke-width="2.7" d="M905.8,673.0 L923.3,683.7 L929.4,705.2 L911.9,697.4z"/>
<path fill="#4660fc" stroke-width="2.7" d="M888.3,660.6 L905.8,673.0 L911.9,697.4 L894.4,688.1z"/>
<path fill="#426afe" stroke-width="2.7" d="M870.8,647.9 L888.3,660.6 L894.4,688.1 L876.9,678.7z"/>
<path fill="#3c72ff" stroke-width="2.7" d="M853.3,637.6 L870.8,647.9 L876.9,678.7 L859.5,671.1z"/>
<path fill="#3479fd" stroke-width="2.7" d="M835.8,628.1 L853.3,637.6 L859.5,671.1 L842.0,664.1z"/>
<path fill="#2f81fa" stroke-width="2.7" d="M818.3,618.3 L835.8,628.1 L842.0,664.1 L824.5,656.8z"/>
<path fill="#2d88f6" stroke-width="2.7" d="M800.8,607.8 L818.3,618.3 L824.5,656.8 L807.0,649.0z"/>
<path fill="#2c8ff0" stroke-width="2.7" d="M783.3,597.8 L800.8,607.8 L807.0,649.0 L789.5,641.6z"/>
<path fill="#2994ed" stroke-width="2.7" d="M765.8,590.3 L783.3,597.8 L789.5,641.6 L772.0,636.1z"/>
<path fill="#2698ea" stroke-width="2.7" d="M748.3,584.1 L765.8,590.3 L772.0,636.1 L754.5,631.6z"/>
<path fill="#259ce7" stroke-width="2.7" d="M730.8,578.4 L748.3,584.1 L754.5,631.6 L737.0,627.4z"/>
<path fill="#259de7" stroke-width="2.7" d="M713.3,577.2 L730.8,578.4 L737.0,627.4 L719.5,626.6z"/>
<path fill="#259ce7" stroke-width="2.7" d="M695.8,578.5 L713.3,577.2 L719.5,626.6 L702.0,627.8z"/>
<path fill="#269ae8" stroke-width="2.7" d="M678.3,582.3 L695.8,578.5 L702.0,627.8 L684.5,631.4z"/>
<path fill="#2797eb" stroke-width="2.7" d="M660.8,588.5 L678.3,582.3 L684.5,631.4 L667.0,636.8z"/>
<path fill="#2b92ee" stroke-width="2.7" d="M643.3,596.6 L660.8,588.5 L667.0,636.8 L649.5,644.4z"/>
<path fill="#2d89f5" stroke-width="2.7" d="M625.8,610.9 L643.3,596.6 L649.5,644.4 L632.0,655.8z"/>
<path fill="#317dfb" stroke-width="2.7" d="M608.3,627.8 L625.8,610.9 L632.0,655.8 L614.5,669.2z"/>
<path fill="#3e6fff" stroke-width="2.7" d="M590.8,646.7 L608.3,627.8 L614.5,669.2 L597.0,683.5z"/>
<path fill="#4562fc" stroke-width="2.7" d="M573.3,665.5 L590.8,646.7 L597.0,683.5 L579.5,697.9z"/>
<path fill="#4755f6" stroke-width="2.7" d="M555.9,683.8 L573.3,665.5 L579.5,697.9 L562.0,711.0z"/>
<path fill="#484cef" stroke-width="2.7" d="M538.4,697.2 L555.9,683.8 L562.0,711.0 L544.5,721.5z"/>
<path fill="#4744e8" stroke-width="2.7" d="M520.9,709.1 L538.4,697.2 L544.5,721.5 L527.0,729.7z"/>
<path fill="#463ee1" stroke-width="2.4" d="M503.4,718.0 L520.9,709.1 L527.0,729.7 L509.5,736.2z"/>
<path fill="#4538d8" stroke-width="2.3" d="M485.9,726.6 L503.4,718.0 L509.5,736.2 L492.0,741.4z"/>
<path fill="#4435d0" stroke-width="2.1" d="M468.4,733.9 L485.9,726.6 L492.0,741.4 L474.6,746.6z"/>
<path fill="#4330c5" stroke-width="2.1" d="M450.9,742.6 L468.4,733.9 L474.6,746.6 L457.1,753.0z"/>
<path fill="#412cb8" stroke-width="2.0" d="M433.4,751.7 L450.9,742.6 L457.1,753.0 L439.6,759.6z"/>
<path fill="#402bb8" stroke-width="1.8" d="M415.9,758.7 L433.4,751.7 L439.6,759.6 L422.1,764.8z"/>
<path fill="#422fc2" stroke-width="1.6" d="M398.4,762.2 L415.9,758.7 L422.1,764.8 L404.6,767.2z"/>
<path fill="#4332c9" stroke-width="1.6" d="M1489.3,743.4 L1506.8,743.0 L1513.0,747.7 L1495.5,748.1z"/>
<path fill="#4332c9" stroke-width="1.6" d="M1471.8,743.8 L1489.3,743.4 L1495.5,748.1 L1478.0,748.5z"/>
<path fill="#4332c9" stroke-width="1.6" d="M1454.3,744.1 L1471.8,743.8 L1478.0,748.5 L1460.5,748.9z"/>
<path fill="#4332c9" stroke-width="1.6" d="M1436.8,744.5 L1454.3,744.1 L1460.5,748.9 L1443.0,749.2z"/>
<path fill="#4332c9" stroke-width="1.6" d="M1419.3,744.9 L1436.8,744.5 L1443.0,749.2 L1425.5,749.6z"/>
<path fill="#4332c9" stroke-width="1.6" d="M1401.8,745.3 L1419.3,744.9 L1425.5,749.6 L1408.0,750.0z"/>
<path fill="#4332c9" stroke-width="1.6" d="M1384.3,745.6 L1401.8,745.3 L1408.0,750.0 L1390.5,750.4z"/>
<path fill="#4332c9" stroke-width="1.6" d="M1366.8,746.0 L1384.3,745.6 L1390.5,750.4 L1373.0,750.8z"/>
<path fill="#4332c9" stroke-width="1.6" d="M1349.3,746.3 L1366.8,746.0 L1373.0,750.8 L1355.5,751.1z"/>
<path fill="#4332c9" stroke-width="1.6" d="M1331.8,746.7 L1349.3,746.3 L1355.5,751.1 L1338.0,751.5z"/>
<path fill="#4332c9" stroke-width="1.6" d="M1314.3,747.0 L1331.8,746.7 L1338.0,751.5 L1320.5,751.9z"/>
<path fill="#4332ca" stroke-width="1.6" d="M1296.8,747.4 L1314.3,747.0 L1320.5,751.9 L1303.0,752.2z"/>
<path fill="#4332ca" stroke-width="1.6" d="M1279.3,747.7 L1296.8,747.4 L1303.0,752.2 L1285.5,752.6z"/>
<path fill="#4332ca" stroke-width="1.6" d="M1261.8,748.0 L1279.3,747.7 L1285.5,752.6 L1268.0,752.9z"/>
<path fill="#4332ca" stroke-width="1.6" d="M1244.3,748.3 L1261.8,748.0 L1268.0,752.9 L1250.5,753.3z"/>
<path fill="#4332ca" stroke-width="1.6" d="M1226.9,748.5 L1244.3,748.3 L1250.5,753.3 L1233.0,753.6z"/>
<path fill="#4332ca" stroke-width="1.6" d="M1209.4,748.7 L1226.9,748.5 L1233.0,753.6 L1215.5,753.8z"/>
<path fill="#4332ca" stroke-width="1.6" d="M1191.9,748.8 L1209.4,748.7 L1215.5,753.8 L1198.0,754.0z"/>
<path fill="#4433cb" stroke-width="1.6" d="M1174.4,748.5 L1191.9,748.8 L1198.0,754.0 L1180.5,753.9z"/>
<path fill="#4432cb" stroke-width="1.6" d="M1156.9,747.5 L1174.4,748.5 L1180.5,753.9 L1163.0,753.1z"/>
<path fill="#4332ca" stroke-width="1.6" d="M1139.4,745.7 L1156.9,747.5 L1163.0,753.1 L1145.6,751.6z"/>
<path fill="#4332ca" stroke-width="1.6" d="M1121.9,743.5 L1139.4,745.7 L1145.6,751.6 L1128.1,749.8z"/>
<path fill="#4433cc" stroke-width="1.6" d="M1104.4,741.1 L1121.9,743.5 L1128.1,749.8 L1110.6,747.9z"/>
<path fill="#4433cd" stroke-width="1.6" d="M1086.9,738.7 L1104.4,741.1 L1110.6,747.9 L1093.1,746.1z"/>
<path fill="#4434ce" stroke-width="1.7" d="M1069.4,735.8 L1086.9,738.7 L1093.1,746.1 L1075.6,744.2z"/>
<path fill="#4434cf" stroke-width="1.7" d="M1051.9,732.8 L1069.4,735.8 L1075.6,744.2 L1058.1,742.6z"/>
<path fill="#4435d1" stroke-width="1.8" d="M1034.4,729.6 L1051.9,732.8 L1058.1,742.6 L1040.6,741.1z"/>
<path fill="#4535d2" stroke-width="1.9" d="M1016.9,726.3 L1034.4,729.6 L1040.6,741.1 L1023.1,739.9z"/>
<path fill="#4536d4" stroke-width="2.0" d="M999.4,723.4 L1016.9,726.3 L1023.1,739.9 L1005.6,739.1z"/>
<path fill="#4539d8" stroke-width="2.1" d="M981.9,720.2 L999.4,723.4 L1005.6,739.1 L988.1,738.2z"/>
<path fill="#463bdd" stroke-width="2.2" d="M964.4,716.2 L981.9,720.2 L988.1,738.2 L970.6,737.0z"/>
<path fill="#473fe2" stroke-width="2.4" d="M946.9,711.1 L964.4,716.2 L970.6,737.0 L953.1,735.0z"/>
<path fill="#4743e7" stroke-width="2.6" d="M929.4,705.2 L946.9,711.1 L953.1,735.0 L935.6,732.3z"/>
<path fill="#4849ed" stroke-width="2.7" d="M911.9,697.4 L929.4,705.2 L935.6,732.3 L918.1,728.3z"/>
<path fill="#4850f3" stroke-width="2.7" d="M894.4,688.1 L911.9,697.4 L918.1,728.3 L900.6,723.3z"/>
<path fill="#4757f7" stroke-width="2.7" d="M876.9,678.7 L894.4,688.1 L900.6,723.3 L883.1,718.2z"/>
<path fill="#475dfa" stroke-width="2.7" d="M859.5,671.1 L876.9,678.7 L883.1,718.2 L865.6,714.2z"/>
<path fill="#4562fc" stroke-width="2.7" d="M842.0,664.1 L859.5,671.1 L865.6,714.2 L848.1,710.5z"/>
<path fill="#4367fd" stroke-width="2.7" d="M824.5,656.8 L842.0,664.1 L848.1,710.5 L830.6,706.6z"/>
<path fill="#3f6dfe" stroke-width="2.7" d="M807.0,649.0 L824.5,656.8 L830.6,706.6 L813.1,702.4z"/>
<path fill="#3a73fe" stroke-width="2.7" d="M789.5,641.6 L807.0,649.0 L813.1,702.4 L795.6,698.5z"/>
<path fill="#3678fd" stroke-width="2.7" d="M772.0,636.1 L789.5,641.6 L795.6,698.5 L778.1,695.6z"/>
<path fill="#327cfc" stroke-width="2.7" d="M754.5,631.6 L772.0,636.1 L778.1,695.6 L760.7,693.3z"/>
<path fill="#307ffb" stroke-width="2.7" d="M737.0,627.4 L754.5,631.6 L760.7,693.3 L743.2,691.1z"/>
<path fill="#3080fa" stroke-width="2.7" d="M719.5,626.6 L737.0,627.4 L743.2,691.1 L725.7,690.8z"/>
<path fill="#307ffb" stroke-width="2.7" d="M702.0,627.8 L719.5,626.6 L725.7,690.8 L708.2,691.7z"/>
<path fill="#317dfc" stroke-width="2.7" d="M684.5,631.4 L702.0,627.8 L708.2,691.7 L690.7,694.2z"/>
<path fill="#3479fd" stroke-width="2.7" d="M667.0,636.8 L684.5,631.4 L690.7,694.2 L673.2,697.6z"/>
<path fill="#3a74fe" stroke-width="2.7" d="M649.5,644.4 L667.0,636.8 L673.2,697.6 L655.7,702.6z"/>
<path fill="#416bfe" stroke-width="2.7" d="M632.0,655.8 L649.5,644.4 L655.7,702.6 L638.2,709.3z"/>
<path fill="#4562fc" stroke-width="2.7" d="M614.5,669.2 L632.0,655.8 L638.2,709.3 L620.7,717.2z"/>
<path fill="#4758f8" stroke-width="2.7" d="M597.0,683.5 L614.5,669.2 L620.7,717.2 L603.2,725.2z"/>
<path fill="#484ef1" stroke-width="2.7" d="M579.5,697.9 L597.0,683.5 L603.2,725.2 L585.7,733.4z"/>
<path fill="#4745e9" stroke-width="2.7" d="M562.0,711.0 L579.5,697.9 L585.7,733.4 L568.2,740.5z"/>
<path fill="#463ee1" stroke-width="2.7" d="M544.5,721.5 L562.0,711.0 L568.2,740.5 L550.7,746.1z"/>
<path fill="#4639d9" stroke-width="2.5" d="M527.0,729.7 L544.5,721.5 L550.7,746.1 L533.2,749.8z"/>
<path fill="#4535d2" stroke-width="2.3" d="M509.5,736.2 L527.0,729.7 L533.2,749.8 L515.7,752.6z"/>
<path fill="#4433cc" stroke-width="2.1" d="M492.0,741.4 L509.5,736.2 L515.7,752.6 L498.2,754.9z"/>
<path fill="#4330c5" stroke-width="2.0" d="M474.6,746.6 L492.0,741.4 L498.2,754.9 L480.7,758.0z"/>
<path fill="#412dbd" stroke-width="1.9" d="M457.1,753.0 L474.6,746.6 L480.7,758.0 L463.2,762.2z"/>
<path fill="#412cba" stroke-width="1.8" d="M439.6,759.6 L457.1,753.0 L463.2,762.2 L445.7,766.8z"/>
<path fill="#412dbd" stroke-width="1.7" d="M422.1,764.8 L439.6,759.6 L445.7,766.8 L428.2,770.4z"/>
<path fill="#4330c5" stroke-width="1.6" d="M404.6,767.2 L422.1,764.8 L428.2,770.4 L410.7,772.2z"/>
<path fill="#4332c9" stroke-width="1.6" d="M1495.5,748.1 L1513.0,747.7 L1519.1,752.3 L1501.6,752.6z"/>
<path fill="#4332c9" stroke-width="1.6" d="M1478.0,748.5 L1495.5,748.1 L1501.6,752.6 L1484.1,753.0z"/>
<path fill="#4332c9" stroke-width="1.6" d="M1460.5,748.9 L1478.0,748.5 L1484.1,753.0 L1466.6,753.4z"/>
<path fill="#4332c9" stroke-width="1.6" d="M1443.0,749.2 L1460.5,748.9 L1466.6,753.4 L1449.1,753.7z"/>
<path fill="#4332c9" stroke-width="1.6" d="M1425.5,749.6 L1443.0,749.2 L1449.1,753.7 L1431.7,754.1z"/>
<path fill="#4332c9" stroke-width="1.6" d="M1408.0,750.0 L1425.5,749.6 L1431.7,754.1 L1414.2,754.4z"/>
<path fill="#4332c9" stroke-width="1.6" d="M1390.5,750.4 L1408.0,750.0 L1414.2,754.4 L1396.7,754.7z"/>
<path fill="#4332c9" stroke-width="1.6" d="M1373.0,750.8 L1390.5,750.4 L1396.7,754.7 L1379.2,755.1z"/>
<path fill="#4332c9" stroke-width="1.6" d="M1355.5,751.1 L1373.0,750.8 L1379.2,755.1 L1361.7,755.4z"/>
<path fill="#4332c9" stroke-width="1.6" d="M1338.0,751.5 L1355.5,751.1 L1361.7,755.4 L1344.2,755.7z"/>
<path fill="#4332c9" stroke-width="1.6" d="M1320.5,751.9 L1338.0,751.5 L1344.2,755.7 L1326.7,756.0z"/>
<path fill="#4332c9" stroke-width="1.6" d="M1303.0,752.2 L1320.5,751.9 L1326.7,756.0 L1309.2,756.3z"/>
<path fill="#4332c9" stroke-width="1.6" d="M1285.5,752.6 L1303.0,752.2 L1309.2,756.3 L1291.7,756.5z"/>
<path fill="#4332c9" stroke-width="1.6" d="M1268.0,752.9 L1285.5,752.6 L1291.7,756.5 L1274.2,756.8z"/>
<path fill="#4332c9" stroke-width="1.6" d="M1250.5,753.3 L1268.0,752.9 L1274.2,756.8 L1256.7,756.9z"/>
<path fill="#4332ca" stroke-width="1.6" d="M1233.0,753.6 L1250.5,753.3 L1256.7,756.9 L1239.2,756.9z"/>
<path fill="#4332ca" stroke-width="1.6" d="M1215.5,753.8 L1233.0,753.6 L1239.2,756.9 L1221.7,756.8z"/>
<path fill="#4332ca" stroke-width="1.6" d="M1198.0,754.0 L1215.5,753.8 L1221.7,756.8 L1204.2,756.6z"/>
<path fill="#4332ca" stroke-width="1.6" d="M1180.5,753.9 L1198.0,754.0 L1204.2,756.6 L1186.7,755.6z"/>
<path fill="#4433cb" stroke-width="1.6" d="M1163.0,753.1 L1180.5,753.9 L1186.7,755.6 L1169.2,753.4z"/>
<path fill="#4433cd" stroke-width="1.6" d="M1145.6,751.6 L1163.0,753.1 L1169.2,753.4 L1151.7,749.8z"/>
<path fill="#4434ce" stroke-width="1.6" d="M1128.1,749.8 L1145.6,751.6 L1151.7,749.8 L1134.2,745.4z"/>
<path fill="#4332c8" stroke-width="1.6" d="M1110.6,747.9 L1128.1,749.8 L1134.2,745.4 L1116.7,740.7z"/>
<path fill="#422fc2" stroke-width="1.8" d="M1093.1,746.1 L1110.6,747.9 L1116.7,740.7 L1099.2,735.4z"/>
<path fill="#412dbc" stroke-width="2.0" d="M1075.6,744.2 L1093.1,746.1 L1099.2,735.4 L1081.7,729.0z"/>
<path fill="#422ebf" stroke-width="2.2" d="M1058.1,742.6 L1075.6,744.2 L1081.7,729.0 L1064.2,722.1z"/>
<path fill="#422fc2" stroke-width="2.5" d="M1040.6,741.1 L1058.1,742.6 L1064.2,722.1 L1046.8,714.7z"/>
<path fill="#4230c4" stroke-width="2.7" d="M1023.1,739.9 L1040.6,741.1 L1046.8,714.7 L1029.3,707.5z"/>
<path fill="#4331c5" stroke-width="2.7" d="M1005.6,739.1 L1023.1,739.9 L1029.3,707.5 L1011.8,700.6z"/>
<path fill="#4331c7" stroke-width="2.7" d="M988.1,738.2 L1005.6,739.1 L1011.8,700.6 L994.3,692.8z"/>
<path fill="#4332ca" stroke-width="2.7" d="M970.6,737.0 L988.1,738.2 L994.3,692.8 L976.8,683.4z"/>
<path fill="#4433cd" stroke-width="2.7" d="M953.1,735.0 L970.6,737.0 L976.8,683.4 L959.3,672.3z"/>
<path fill="#4435d1" stroke-width="2.7" d="M935.6,732.3 L953.1,735.0 L959.3,672.3 L941.8,659.1z"/>
<path fill="#4537d6" stroke-width="2.7" d="M918.1,728.3 L935.6,732.3 L941.8,659.1 L924.3,642.3z"/>
<path fill="#463bdc" stroke-width="2.7" d="M900.6,723.3 L918.1,728.3 L924.3,642.3 L906.8,623.2z"/>
<path fill="#473ee1" stroke-width="2.7" d="M883.1,718.2 L900.6,723.3 L906.8,623.2 L889.3,605.6z"/>
<path fill="#4741e5" stroke-width="2.7" d="M865.6,714.2 L883.1,718.2 L889.3,605.6 L871.8,590.9z"/>
<path fill="#4744e8" stroke-width="2.7" d="M848.1,710.5 L865.6,714.2 L871.8,590.9 L854.3,576.7z"/>
<path fill="#4747eb" stroke-width="2.7" d="M830.6,706.6 L848.1,710.5 L854.3,576.7 L836.8,561.6z"/>
<path fill="#484bee" stroke-width="2.7" d="M813.1,702.4 L830.6,706.6 L836.8,561.6 L819.3,546.0z"/>
<path fill="#484ef1" stroke-width="2.7" d="M795.6,698.5 L813.1,702.4 L819.3,546.0 L801.8,532.5z"/>
<path fill="#4850f3" stroke-width="2.7" d="M778.1,695.6 L795.6,698.5 L801.8,532.5 L784.3,522.1z"/>
<path fill="#4852f4" stroke-width="2.7" d="M760.7,693.3 L778.1,695.6 L784.3,522.1 L766.8,512.7z"/>
<path fill="#4854f5" stroke-width="2.7" d="M743.2,691.1 L760.7,693.3 L766.8,512.7 L749.3,506.9z"/>
<path fill="#4854f5" stroke-width="2.7" d="M725.7,690.8 L743.2,691.1 L749.3,506.9 L731.8,506.7z"/>
<path fill="#4854f5" stroke-width="2.7" d="M708.2,691.7 L725.7,690.8 L731.8,506.7 L714.3,511.1z"/>
<path fill="#4852f4" stroke-width="2.7" d="M690.7,694.2 L708.2,691.7 L714.3,511.1 L696.8,522.0z"/>
<path fill="#4850f3" stroke-width="2.7" d="M673.2,697.6 L690.7,694.2 L696.8,522.0 L679.4,537.5z"/>
<path fill="#484df0" stroke-width="2.7" d="M655.7,702.6 L673.2,697.6 L679.4,537.5 L661.9,559.2z"/>
<path fill="#4848ec" stroke-width="2.7" d="M638.2,709.3 L655.7,702.6 L661.9,559.2 L644.4,584.8z"/>
<path fill="#4743e7" stroke-width="2.7" d="M620.7,717.2 L638.2,709.3 L644.4,584.8 L626.9,612.5z"/>
<path fill="#463ee1" stroke-width="2.7" d="M603.2,725.2 L620.7,717.2 L626.9,612.5 L609.4,640.2z"/>
<path fill="#4539d9" stroke-width="2.7" d="M585.7,733.4 L603.2,725.2 L609.4,640.2 L591.9,666.8z"/>
<path fill="#4435d1" stroke-width="2.7" d="M568.2,740.5 L585.7,733.4 L591.9,666.8 L574.4,690.9z"/>
<path fill="#4332ca" stroke-width="2.7" d="M550.7,746.1 L568.2,740.5 L574.4,690.9 L556.9,711.5z"/>
<path fill="#4330c5" stroke-width="2.7" d="M533.2,749.8 L550.7,746.1 L556.9,711.5 L539.4,726.2z"/>
<path fill="#422fc2" stroke-width="2.4" d="M515.7,752.6 L533.2,749.8 L539.4,726.2 L521.9,736.0z"/>
<path fill="#422ebf" stroke-width="2.1" d="M498.2,754.9 L515.7,752.6 L521.9,736.0 L504.4,742.5z"/>
<path fill="#412dbd" stroke-width="1.9" d="M480.7,758.0 L498.2,754.9 L504.4,742.5 L486.9,750.3z"/>
<path fill="#422fc1" stroke-width="1.8" d="M463.2,762.2 L480.7,758.0 L486.9,750.3 L469.4,759.3z"/>
<path fill="#4331c6" stroke-width="1.6" d="M445.7,766.8 L463.2,762.2 L469.4,759.3 L451.9,767.8z"/>
<path fill="#4331c7" stroke-width="1.6" d="M428.2,770.4 L445.7,766.8 L451.9,767.8 L434.4,774.0z"/>
<path fill="#4332c8" stroke-width="1.6" d="M410.7,772.2 L428.2,770.4 L434.4,774.0 L416.9,776.8z"/>
<path fill="#4332c9" stroke-width="1.6" d="M1501.6,752.6 L1519.1,752.3 L1525.3,757.0 L1507.8,757.4z"/>
<path fill="#4332c9" stroke-width="1.6" d="M1484.1,753.0 L1501.6,752.6 L1507.8,757.4 L1490.3,757.8z"/>
<path fill="#4332c9" stroke-width="1.6" d="M1466.6,753.4 L1484.1,753.0 L1490.3,757.8 L1472.8,758.2z"/>
<path fill="#4332c9" stroke-width="1.6" d="M1449.1,753.7 L1466.6,753.4 L1472.8,758.2 L1455.3,758.6z"/>
<path fill="#4332c9" stroke-width="1.6" d="M1431.7,754.1 L1449.1,753.7 L1455.3,758.6 L1437.8,758.9z"/>
<path fill="#4332ca" stroke-width="1.6" d="M1414.2,754.4 L1431.7,754.1 L1437.8,758.9 L1420.3,759.3z"/>
<path fill="#4332ca" stroke-width="1.6" d="M1396.7,754.7 L1414.2,754.4 L1420.3,759.3 L1402.8,759.7z"/>
<path fill="#4332ca" stroke-width="1.6" d="M1379.2,755.1 L1396.7,754.7 L1402.8,759.7 L1385.3,760.0z"/>
<path fill="#4332ca" stroke-width="1.6" d="M1361.7,755.4 L1379.2,755.1 L1385.3,760.0 L1367.8,760.4z"/>
<path fill="#4332ca" stroke-width="1.6" d="M1344.2,755.7 L1361.7,755.4 L1367.8,760.4 L1350.4,760.8z"/>
<path fill="#4332ca" stroke-width="1.6" d="M1326.7,756.0 L1344.2,755.7 L1350.4,760.8 L1332.9,761.1z"/>
<path fill="#4332ca" stroke-width="1.6" d="M1309.2,756.3 L1326.7,756.0 L1332.9,761.1 L1315.4,761.5z"/>
<path fill="#4332ca" stroke-width="1.6" d="M1291.7,756.5 L1309.2,756.3 L1315.4,761.5 L1297.9,761.8z"/>
<path fill="#4332ca" stroke-width="1.6" d="M1274.2,756.8 L1291.7,756.5 L1297.9,761.8 L1280.4,762.1z"/>
<path fill="#4332ca" stroke-width="1.6" d="M1256.7,756.9 L1274.2,756.8 L1280.4,762.1 L1262.9,762.4z"/>
<path fill="#4332cb" stroke-width="1.6" d="M1239.2,756.9 L1256.7,756.9 L1262.9,762.4 L1245.4,762.7z"/>
<path fill="#4432cb" stroke-width="1.6" d="M1221.7,756.8 L1239.2,756.9 L1245.4,762.7 L1227.9,762.9z"/>
<path fill="#4332ca" stroke-width="1.6" d="M1204.2,756.6 L1221.7,756.8 L1227.9,762.9 L1210.4,763.1z"/>
<path fill="#4332c8" stroke-width="1.6" d="M1186.7,755.6 L1204.2,756.6 L1210.4,763.1 L1192.9,763.2z"/>
<path fill="#4330c4" stroke-width="1.7" d="M1169.2,753.4 L1186.7,755.6 L1192.9,763.2 L1175.4,763.2z"/>
<path fill="#422ebf" stroke-width="1.8" d="M1151.7,749.8 L1169.2,753.4 L1175.4,763.2 L1157.9,763.1z"/>
<path fill="#422ebf" stroke-width="2.0" d="M1134.2,745.4 L1151.7,749.8 L1157.9,763.1 L1140.4,762.7z"/>
<path fill="#4331c7" stroke-width="2.2" d="M1116.7,740.7 L1134.2,745.4 L1140.4,762.7 L1122.9,762.3z"/>
<path fill="#4434ce" stroke-width="2.4" d="M1099.2,735.4 L1116.7,740.7 L1122.9,762.3 L1105.4,761.6z"/>
<path fill="#4538d7" stroke-width="2.7" d="M1081.7,729.0 L1099.2,735.4 L1105.4,761.6 L1087.9,760.1z"/>
<path fill="#463cdf" stroke-width="2.7" d="M1064.2,722.1 L1081.7,729.0 L1087.9,760.1 L1070.4,758.1z"/>
<path fill="#4742e6" stroke-width="2.7" d="M1046.8,714.7 L1064.2,722.1 L1070.4,758.1 L1052.9,755.4z"/>
<path fill="#4747eb" stroke-width="2.7" d="M1029.3,707.5 L1046.8,714.7 L1052.9,755.4 L1035.4,752.1z"/>
<path fill="#484cf0" stroke-width="2.7" d="M1011.8,700.6 L1029.3,707.5 L1035.4,752.1 L1017.9,748.9z"/>
<path fill="#4852f4" stroke-width="2.7" d="M994.3,692.8 L1011.8,700.6 L1017.9,748.9 L1000.4,745.1z"/>
<path fill="#4759f8" stroke-width="2.7" d="M976.8,683.4 L994.3,692.8 L1000.4,745.1 L982.9,740.7z"/>
<path fill="#4561fc" stroke-width="2.7" d="M959.3,672.3 L976.8,683.4 L982.9,740.7 L965.5,735.7z"/>
<path fill="#416bfe" stroke-width="2.7" d="M941.8,659.1 L959.3,672.3 L965.5,735.7 L948.0,730.4z"/>
<path fill="#3678fd" stroke-width="2.7" d="M924.3,642.3 L941.8,659.1 L948.0,730.4 L930.5,724.1z"/>
<path fill="#2e86f7" stroke-width="2.7" d="M906.8,623.2 L924.3,642.3 L930.5,724.1 L913.0,717.0z"/>
<path fill="#2b92ee" stroke-width="2.7" d="M889.3,605.6 L906.8,623.2 L913.0,717.0 L895.5,709.9z"/>
<path fill="#259be8" stroke-width="2.7" d="M871.8,590.9 L889.3,605.6 L895.5,709.9 L878.0,704.2z"/>
<path fill="#20a4e3" stroke-width="2.7" d="M854.3,576.7 L871.8,590.9 L878.0,704.2 L860.5,698.9z"/>
<path fill="#19acdc" stroke-width="2.7" d="M836.8,561.6 L854.3,576.7 L860.5,698.9 L843.0,693.3z"/>
<path fill="#0ab4d2" stroke-width="2.7" d="M819.3,546.0 L836.8,561.6 L843.0,693.3 L825.5,687.4z"/>
<path fill="#01b9c7" stroke-width="2.7" d="M801.8,532.5 L819.3,546.0 L825.5,687.4 L808.0,681.9z"/>
<path fill="#09bcbe" stroke-width="2.7" d="M784.3,522.1 L801.8,532.5 L808.0,681.9 L790.5,677.8z"/>
<path fill="#19bfb5" stroke-width="2.7" d="M766.8,512.7 L784.3,522.1 L790.5,677.8 L773.0,674.4z"/>
<path fill="#22c1b0" stroke-width="2.7" d="M749.3,506.9 L766.8,512.7 L773.0,674.4 L755.5,671.5z"/>
<path fill="#23c1af" stroke-width="2.7" d="M731.8,506.7 L749.3,506.9 L755.5,671.5 L738.0,671.1z"/>
<path fill="#1dc0b3" stroke-width="2.7" d="M714.3,511.1 L731.8,506.7 L738.0,671.1 L720.5,672.4z"/>
<path fill="#0cbdbc" stroke-width="2.7" d="M696.8,522.0 L714.3,511.1 L720.5,672.4 L703.0,676.5z"/>
<path fill="#01b8c9" stroke-width="2.7" d="M679.4,537.5 L696.8,522.0 L703.0,676.5 L685.5,682.0z"/>
<path fill="#15afd9" stroke-width="2.7" d="M661.9,559.2 L679.4,537.5 L685.5,682.0 L668.0,690.2z"/>
<path fill="#22a2e4" stroke-width="2.7" d="M644.4,584.8 L661.9,559.2 L668.0,690.2 L650.5,700.0z"/>
<path fill="#2b91ef" stroke-width="2.7" d="M626.9,612.5 L644.4,584.8 L650.5,700.0 L633.0,711.1z"/>
<path fill="#307ffb" stroke-width="2.7" d="M609.4,640.2 L626.9,612.5 L633.0,711.1 L615.5,722.1z"/>
<path fill="#416bfe" stroke-width="2.7" d="M591.9,666.8 L609.4,640.2 L615.5,722.1 L598.0,733.2z"/>
<path fill="#475af9" stroke-width="2.7" d="M574.4,690.9 L591.9,666.8 L598.0,733.2 L580.6,742.9z"/>
<path fill="#484cef" stroke-width="2.7" d="M556.9,711.5 L574.4,690.9 L580.6,742.9 L563.1,752.9z"/>
<path fill="#4741e6" stroke-width="2.7" d="M539.4,726.2 L556.9,711.5 L563.1,752.9 L545.6,761.1z"/>
<path fill="#463bdd" stroke-width="2.7" d="M521.9,736.0 L539.4,726.2 L545.6,761.1 L528.1,767.8z"/>
<path fill="#4537d6" stroke-width="2.7" d="M504.4,742.5 L521.9,736.0 L528.1,767.8 L510.6,771.9z"/>
<path fill="#4433cd" stroke-width="2.7" d="M486.9,750.3 L504.4,742.5 L510.6,771.9 L493.1,775.0z"/>
<path fill="#422fc1" stroke-width="2.4" d="M469.4,759.3 L486.9,750.3 L493.1,775.0 L475.6,777.6z"/>
<path fill="#402ab5" stroke-width="2.1" d="M451.9,767.8 L469.4,759.3 L475.6,777.6 L458.1,779.5z"/>
<path fill="#402bb7" stroke-width="1.8" d="M434.4,774.0 L451.9,767.8 L458.1,779.5 L440.6,780.8z"/>
<path fill="#4330c5" stroke-width="1.6" d="M416.9,776.8 L434.4,774.0 L440.6,780.8 L423.1,781.5z"/>
</g>
<g stroke="#000" stroke-width="2.5" fill="none" stroke-linecap="butt">
<path d="M208.0,112.1 L208.0,633.6 L405.6,783.0"/>
<path stroke-width="2.1" d="M405.6,783.0 L1542.8,757.6"/>
<path d="M208.0,633.6 L184.2,616.0"/>
<path d="M208.0,559.1 L184.2,541.5"/>
<path d="M208.0,484.6 L184.2,467.0"/>
<path d="M208.0,410.1 L184.2,392.5"/>
<path d="M208.0,335.6 L184.2,318.0"/>
<path d="M208.0,261.1 L184.2,243.5"/>
<path d="M208.0,186.6 L184.2,169.0"/>
<path d="M208.0,112.1 L184.2,94.5"/>
<path d="M208.0,633.6 L178.6,634.4"/>
<path d="M331.5,727.0 L302.1,727.8"/>
<path d="M405.6,783.0 L429.2,800.8"/>
<path d="M580.6,779.1 L604.2,796.9"/>
<path d="M755.5,775.2 L779.1,793.0"/>
<path d="M930.5,771.3 L954.1,789.1"/>
<path d="M1105.4,767.4 L1129.0,785.2"/>
<path d="M1280.4,763.5 L1304.0,781.3"/>
<path d="M1455.3,759.6 L1478.9,777.4"/>
</g>
<g font-family="Liberation Sans, Arial, Helvetica, sans-serif" font-weight="bold" fill="#262626">
<text x="176.5" y="625.5" font-size="39.5" text-anchor="end">0</text>
<text x="176.5" y="551.0" font-size="39.5" text-anchor="end">0.5</text>
<text x="176.5" y="476.5" font-size="39.5" text-anchor="end">1</text>
<text x="176.5" y="402.0" font-size="39.5" text-anchor="end">1.5</text>
<text x="176.5" y="327.5" font-size="39.5" text-anchor="end">2</text>
<text x="176.5" y="253.0" font-size="39.5" text-anchor="end">2.5</text>
<text x="176.5" y="178.5" font-size="39.5" text-anchor="end">3</text>
<text x="176.5" y="104.0" font-size="39.5" text-anchor="end">3.5</text>
<text x="157.4" y="674" font-size="39.5" text-anchor="middle">0</text>
<text x="270" y="768.2" font-size="39.5" text-anchor="middle">20</text>
<text x="447.3" y="846.5" font-size="39.0" text-anchor="middle">0</text>
<text x="633.5" y="842.8" font-size="39.0" text-anchor="middle">10</text>
<text x="809.5" y="838.3" font-size="39.0" text-anchor="middle">20</text>
<text x="984.5" y="834.4" font-size="39.0" text-anchor="middle">30</text>
<text x="1158.5" y="830.3" font-size="39.0" text-anchor="middle">40</text>
<text x="1332.8" y="826.4" font-size="39.0" text-anchor="middle">50</text>
<text x="1507.8" y="822.6" font-size="39.0" text-anchor="middle">60</text>
<text x="96.6" y="46.6" font-size="43" font-weight="normal">×</text>
<text x="123.8" y="43" font-size="35">10</text>
<text x="167.3" y="22.8" font-size="30">10</text>
<text x="1629.6" y="76.5" font-size="34.5" font-weight="normal">×</text>
<text x="1653" y="73.7" font-size="30">10</text>
<text x="1687" y="60" font-size="26.5">10</text>
<text x="1637" y="694.1" font-size="31.5">0.5</text>
<text x="1637" y="591.4" font-size="31.5">1</text>
<text x="1637" y="488.6" font-size="31.5">1.5</text>
<text x="1637" y="385.9" font-size="31.5">2</text>
<text x="1637" y="283.1" font-size="31.5">2.5</text>
<text x="1637" y="180.4" font-size="31.5">3</text>
<text transform="translate(36.8,352.3) rotate(-90)" font-size="50" text-anchor="middle">Energy-to-Entropy ratio</text>
<text transform="translate(101,477.6) rotate(-90)" font-size="51" text-anchor="middle">(EER)</text>
<text x="16.5" y="770.7" font-size="49.8">Channels</text>
<text x="1271.3" y="864" font-size="49.8">Scales</text>
</g>
<g font-family="Liberation Serif, Times New Roman, Times, serif" font-weight="bold" fill="#000">
<text x="615" y="770.7" font-size="44.2" textLength="110.6" lengthAdjust="spacingAndGlyphs">Mean</text>
<text x="773.3" y="770.7" font-size="44.2" textLength="102.4" lengthAdjust="spacingAndGlyphs">Scale</text>
<text x="725.6" y="866.8" font-size="45.7">Selected Scales</text>
</g>
<defs><linearGradient id="cb" x1="0" y1="1" x2="0" y2="0">
<stop offset="0.0000" stop-color="#3e26a8"/>
<stop offset="0.0156" stop-color="#402ab4"/>
<stop offset="0.0312" stop-color="#422ebf"/>
<stop offset="0.0469" stop-color="#4332ca"/>
<stop offset="0.0625" stop-color="#4536d5"/>
<stop offset="0.0781" stop-color="#463bdd"/>
<stop offset="0.0938" stop-color="#4741e5"/>
<stop offset="0.1094" stop-color="#4746ea"/>
<stop offset="0.1250" stop-color="#484cef"/>
<stop offset="0.1406" stop-color="#4852f4"/>
<stop offset="0.1562" stop-color="#4757f7"/>
<stop offset="0.1719" stop-color="#475dfa"/>
<stop offset="0.1875" stop-color="#4562fc"/>
<stop offset="0.2031" stop-color="#4368fe"/>
<stop offset="0.2188" stop-color="#3f6efe"/>
<stop offset="0.2344" stop-color="#3a74fe"/>
<stop offset="0.2500" stop-color="#347afd"/>
<stop offset="0.2656" stop-color="#3080fa"/>
<stop offset="0.2812" stop-color="#2e85f8"/>
<stop offset="0.2969" stop-color="#2d8bf4"/>
<stop offset="0.3125" stop-color="#2c90f0"/>
<stop offset="0.3281" stop-color="#2895ec"/>
<stop offset="0.3438" stop-color="#269ae9"/>
<stop offset="0.3594" stop-color="#249ee6"/>
<stop offset="0.3750" stop-color="#21a3e3"/>
<stop offset="0.3906" stop-color="#1ea7e1"/>
<stop offset="0.4062" stop-color="#1aacdd"/>
<stop offset="0.4219" stop-color="#14b0d8"/>
<stop offset="0.4375" stop-color="#0cb3d3"/>
<stop offset="0.4531" stop-color="#04b6cd"/>
<stop offset="0.4688" stop-color="#01b9c6"/>
<stop offset="0.4844" stop-color="#07bcc0"/>
<stop offset="0.5000" stop-color="#12beb9"/>
<stop offset="0.5156" stop-color="#1ec0b2"/>
<stop offset="0.5312" stop-color="#28c2ab"/>
<stop offset="0.5469" stop-color="#2ec5a4"/>
<stop offset="0.5625" stop-color="#34c79c"/>
<stop offset="0.5781" stop-color="#3ac993"/>
<stop offset="0.5938" stop-color="#44ca8a"/>
<stop offset="0.6094" stop-color="#4fcc80"/>
<stop offset="0.6250" stop-color="#5ccc76"/>
<stop offset="0.6406" stop-color="#69cd6b"/>
<stop offset="0.6562" stop-color="#77cc60"/>
<stop offset="0.6719" stop-color="#85cb55"/>
<stop offset="0.6875" stop-color="#94ca4a"/>
<stop offset="0.7031" stop-color="#a2c840"/>
<stop offset="0.7188" stop-color="#afc637"/>
<stop offset="0.7344" stop-color="#bcc42f"/>
<stop offset="0.7500" stop-color="#c8c129"/>
<stop offset="0.7656" stop-color="#d4bf28"/>
<stop offset="0.7812" stop-color="#debc2a"/>
<stop offset="0.7969" stop-color="#e8bb2f"/>
<stop offset="0.8125" stop-color="#f1ba37"/>
<stop offset="0.8281" stop-color="#f9bb3d"/>
<stop offset="0.8438" stop-color="#febe3c"/>
<stop offset="0.8594" stop-color="#fec437"/>
<stop offset="0.8750" stop-color="#feca33"/>
<stop offset="0.8906" stop-color="#fcd030"/>
<stop offset="0.9062" stop-color="#f9d62d"/>
<stop offset="0.9219" stop-color="#f7dd2a"/>
<stop offset="0.9375" stop-color="#f5e327"/>
<stop offset="0.9531" stop-color="#f5e924"/>
<stop offset="0.9688" stop-color="#f6ef20"/>
<stop offset="0.9844" stop-color="#f7f51b"/>
<stop offset="1.0000" stop-color="#f9fb15"/>
</linearGradient></defs>
<rect x="1596.2" y="86.4" width="31" height="696.6" fill="url(#cb)" stroke="#1a1a1a" stroke-width="2.3"/>
<g stroke="#1a1a1a" stroke-width="2.2">
<path d="M1619 681.1 H1627"/>
<path d="M1619 578.4 H1627"/>
<path d="M1619 475.6 H1627"/>
<path d="M1619 372.9 H1627"/>
<path d="M1619 270.1 H1627"/>
<path d="M1619 167.4 H1627"/>
</g>
<g stroke="#000" fill="none" stroke-linecap="butt" stroke-linejoin="miter">
<path stroke-width="5.4" d="M564.8 748.3 L640.6 805.2"/>
<path stroke-width="5" d="M858 714.8 L955.7 789.2"/>
<path stroke-width="5" d="M640 796.7 L949 790.1"/>
<path stroke-width="5.4" d="M706.7 737.6 L668.5 712.4"/>
<path stroke-width="6.6" d="M1190.3 847.7 L1242 846.2"/>
</g>
<g fill="#000" stroke="none">
<path d="M631.5 797 L645.4 789.2 L642.2 796.6 L645 804.8z"/>
<path d="M959 789.4 L942.3 780.3 L946.6 789.9 L943.2 798.4z"/>
<path d="M657.7 704.5 L677.9 708.4 L669.8 712.6 L668 721.3z"/>
<path d="M1256.8 845.6 L1237.2 838 L1240.9 846.3 L1237.2 854.5z"/>
</g>
</svg>
</body></html>
